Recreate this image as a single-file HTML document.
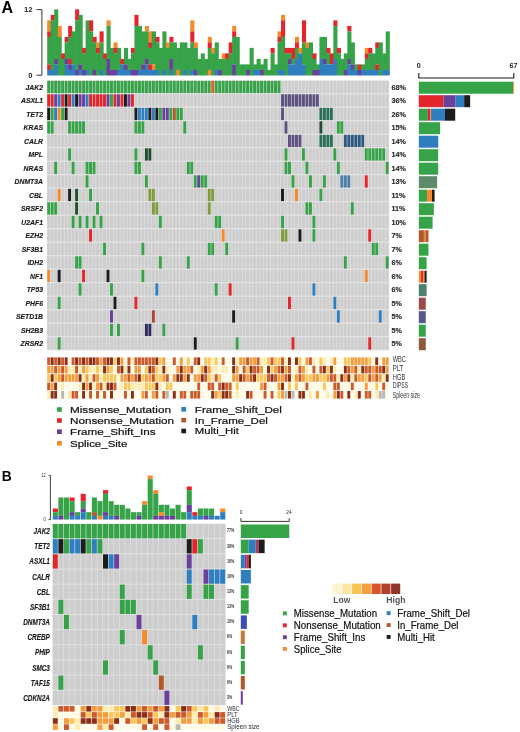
<!DOCTYPE html>
<html><head><meta charset="utf-8"><title>Oncoplot</title>
<style>
html,body{margin:0;padding:0;background:#fff;}
body{width:520px;height:732px;overflow:hidden;}
svg{display:block;font-family:"Liberation Sans",Arial,sans-serif;}
#wrap{width:520px;height:732px;}
</style></head><body><div id="wrap">
<svg width="520" height="732" viewBox="0 0 520 732">
<rect x="0" y="0" width="520" height="732" fill="#ffffff"/>
<g id="topA">
<rect x="47.20" y="20.40" width="4.09" height="11.05" fill="#f58a2c"/>
<rect x="47.20" y="31.40" width="4.09" height="5.55" fill="#e3262b"/>
<rect x="47.20" y="36.90" width="4.09" height="27.55" fill="#37a348"/>
<rect x="47.20" y="64.40" width="4.09" height="5.55" fill="#e3262b"/>
<rect x="47.20" y="69.90" width="4.09" height="5.55" fill="#2f7fc0"/>
<rect x="50.69" y="14.90" width="4.09" height="5.55" fill="#e3262b"/>
<rect x="50.69" y="20.40" width="4.09" height="49.55" fill="#37a348"/>
<rect x="50.69" y="69.90" width="4.09" height="5.55" fill="#2f7fc0"/>
<rect x="54.18" y="9.40" width="4.09" height="49.55" fill="#37a348"/>
<rect x="54.18" y="58.90" width="4.09" height="5.55" fill="#6b3f9c"/>
<rect x="54.18" y="64.40" width="4.09" height="11.05" fill="#2f7fc0"/>
<rect x="57.67" y="25.90" width="4.09" height="11.05" fill="#f58a2c"/>
<rect x="57.67" y="36.90" width="4.09" height="38.55" fill="#37a348"/>
<rect x="61.16" y="53.40" width="4.09" height="5.55" fill="#e3262b"/>
<rect x="61.16" y="58.90" width="4.09" height="16.55" fill="#37a348"/>
<rect x="64.65" y="36.90" width="4.09" height="5.55" fill="#e3262b"/>
<rect x="64.65" y="42.40" width="4.09" height="16.55" fill="#37a348"/>
<rect x="64.65" y="58.90" width="4.09" height="5.55" fill="#6b3f9c"/>
<rect x="64.65" y="64.40" width="4.09" height="11.05" fill="#2f7fc0"/>
<rect x="68.14" y="25.90" width="4.09" height="11.05" fill="#e3262b"/>
<rect x="68.14" y="36.90" width="4.09" height="22.05" fill="#37a348"/>
<rect x="68.14" y="58.90" width="4.09" height="5.55" fill="#e3262b"/>
<rect x="68.14" y="64.40" width="4.09" height="5.55" fill="#6b3f9c"/>
<rect x="68.14" y="69.90" width="4.09" height="5.55" fill="#2f7fc0"/>
<rect x="71.63" y="31.40" width="4.09" height="33.05" fill="#37a348"/>
<rect x="71.63" y="64.40" width="4.09" height="11.05" fill="#2f7fc0"/>
<rect x="75.12" y="9.40" width="4.09" height="11.05" fill="#e3262b"/>
<rect x="75.12" y="20.40" width="4.09" height="49.55" fill="#37a348"/>
<rect x="75.12" y="69.90" width="4.09" height="5.55" fill="#6b3f9c"/>
<rect x="78.61" y="14.90" width="4.09" height="49.55" fill="#37a348"/>
<rect x="78.61" y="64.40" width="4.09" height="5.55" fill="#6b3f9c"/>
<rect x="78.61" y="69.90" width="4.09" height="5.55" fill="#2f7fc0"/>
<rect x="82.10" y="47.90" width="4.09" height="5.55" fill="#e3262b"/>
<rect x="82.10" y="53.40" width="4.09" height="16.55" fill="#37a348"/>
<rect x="82.10" y="69.90" width="4.09" height="5.55" fill="#6b3f9c"/>
<rect x="85.59" y="20.40" width="4.09" height="49.55" fill="#37a348"/>
<rect x="85.59" y="69.90" width="4.09" height="5.55" fill="#2f7fc0"/>
<rect x="89.08" y="20.40" width="4.09" height="11.05" fill="#e3262b"/>
<rect x="89.08" y="31.40" width="4.09" height="44.05" fill="#37a348"/>
<rect x="92.57" y="36.90" width="4.09" height="5.55" fill="#e3262b"/>
<rect x="92.57" y="42.40" width="4.09" height="27.55" fill="#37a348"/>
<rect x="92.57" y="69.90" width="4.09" height="5.55" fill="#6b3f9c"/>
<rect x="96.06" y="42.40" width="4.09" height="5.55" fill="#f58a2c"/>
<rect x="96.06" y="47.90" width="4.09" height="5.55" fill="#e3262b"/>
<rect x="96.06" y="53.40" width="4.09" height="22.05" fill="#37a348"/>
<rect x="99.55" y="31.40" width="4.09" height="11.05" fill="#e3262b"/>
<rect x="99.55" y="42.40" width="4.09" height="27.55" fill="#37a348"/>
<rect x="99.55" y="69.90" width="4.09" height="5.55" fill="#2f7fc0"/>
<rect x="103.04" y="53.40" width="4.09" height="5.55" fill="#e3262b"/>
<rect x="103.04" y="58.90" width="4.09" height="16.55" fill="#37a348"/>
<rect x="106.53" y="20.40" width="4.09" height="5.55" fill="#f58a2c"/>
<rect x="106.53" y="25.90" width="4.09" height="33.05" fill="#37a348"/>
<rect x="106.53" y="58.90" width="4.09" height="16.55" fill="#6b3f9c"/>
<rect x="110.02" y="47.90" width="4.09" height="22.05" fill="#37a348"/>
<rect x="110.02" y="69.90" width="4.09" height="5.55" fill="#6b3f9c"/>
<rect x="113.51" y="42.40" width="4.09" height="5.55" fill="#f58a2c"/>
<rect x="113.51" y="47.90" width="4.09" height="5.55" fill="#e3262b"/>
<rect x="113.51" y="53.40" width="4.09" height="16.55" fill="#37a348"/>
<rect x="113.51" y="69.90" width="4.09" height="5.55" fill="#6b3f9c"/>
<rect x="117.00" y="47.90" width="4.09" height="22.05" fill="#37a348"/>
<rect x="117.00" y="69.90" width="4.09" height="5.55" fill="#2f7fc0"/>
<rect x="120.49" y="58.90" width="4.09" height="5.55" fill="#e3262b"/>
<rect x="120.49" y="64.40" width="4.09" height="11.05" fill="#2f7fc0"/>
<rect x="123.98" y="47.90" width="4.09" height="16.55" fill="#37a348"/>
<rect x="123.98" y="64.40" width="4.09" height="5.55" fill="#6b3f9c"/>
<rect x="123.98" y="69.90" width="4.09" height="5.55" fill="#2f7fc0"/>
<rect x="127.47" y="58.90" width="4.09" height="11.05" fill="#37a348"/>
<rect x="127.47" y="69.90" width="4.09" height="5.55" fill="#2f7fc0"/>
<rect x="130.96" y="47.90" width="4.09" height="5.55" fill="#e3262b"/>
<rect x="130.96" y="53.40" width="4.09" height="16.55" fill="#37a348"/>
<rect x="130.96" y="69.90" width="4.09" height="5.55" fill="#6b3f9c"/>
<rect x="134.45" y="14.90" width="4.09" height="11.05" fill="#e3262b"/>
<rect x="134.45" y="25.90" width="4.09" height="44.05" fill="#37a348"/>
<rect x="134.45" y="69.90" width="4.09" height="5.55" fill="#6b3f9c"/>
<rect x="137.94" y="25.90" width="4.09" height="44.05" fill="#37a348"/>
<rect x="137.94" y="69.90" width="4.09" height="5.55" fill="#2f7fc0"/>
<rect x="141.43" y="31.40" width="4.09" height="33.05" fill="#37a348"/>
<rect x="141.43" y="64.40" width="4.09" height="5.55" fill="#6b3f9c"/>
<rect x="141.43" y="69.90" width="4.09" height="5.55" fill="#2f7fc0"/>
<rect x="144.92" y="25.90" width="4.09" height="5.55" fill="#f58a2c"/>
<rect x="144.92" y="31.40" width="4.09" height="27.55" fill="#37a348"/>
<rect x="144.92" y="58.90" width="4.09" height="5.55" fill="#6b3f9c"/>
<rect x="144.92" y="64.40" width="4.09" height="11.05" fill="#2f7fc0"/>
<rect x="148.41" y="31.40" width="4.09" height="11.05" fill="#f58a2c"/>
<rect x="148.41" y="42.40" width="4.09" height="5.55" fill="#e3262b"/>
<rect x="148.41" y="47.90" width="4.09" height="16.55" fill="#37a348"/>
<rect x="148.41" y="64.40" width="4.09" height="5.55" fill="#e3262b"/>
<rect x="148.41" y="69.90" width="4.09" height="5.55" fill="#2f7fc0"/>
<rect x="151.90" y="31.40" width="4.09" height="33.05" fill="#37a348"/>
<rect x="151.90" y="64.40" width="4.09" height="5.55" fill="#f58a2c"/>
<rect x="151.90" y="69.90" width="4.09" height="5.55" fill="#2f7fc0"/>
<rect x="155.39" y="36.90" width="4.09" height="5.55" fill="#e3262b"/>
<rect x="155.39" y="42.40" width="4.09" height="27.55" fill="#37a348"/>
<rect x="155.39" y="69.90" width="4.09" height="5.55" fill="#2f7fc0"/>
<rect x="158.88" y="47.90" width="4.09" height="27.55" fill="#37a348"/>
<rect x="162.37" y="31.40" width="4.09" height="38.55" fill="#37a348"/>
<rect x="162.37" y="69.90" width="4.09" height="5.55" fill="#2f7fc0"/>
<rect x="165.86" y="42.40" width="4.09" height="5.55" fill="#f58a2c"/>
<rect x="165.86" y="47.90" width="4.09" height="27.55" fill="#37a348"/>
<rect x="169.35" y="36.90" width="4.09" height="5.55" fill="#e3262b"/>
<rect x="169.35" y="42.40" width="4.09" height="16.55" fill="#37a348"/>
<rect x="169.35" y="58.90" width="4.09" height="11.05" fill="#6b3f9c"/>
<rect x="169.35" y="69.90" width="4.09" height="5.55" fill="#2f7fc0"/>
<rect x="172.84" y="42.40" width="4.09" height="33.05" fill="#37a348"/>
<rect x="176.33" y="47.90" width="4.09" height="22.05" fill="#37a348"/>
<rect x="176.33" y="69.90" width="4.09" height="5.55" fill="#f58a2c"/>
<rect x="179.82" y="42.40" width="4.09" height="33.05" fill="#37a348"/>
<rect x="183.31" y="42.40" width="4.09" height="27.55" fill="#37a348"/>
<rect x="183.31" y="69.90" width="4.09" height="5.55" fill="#2f7fc0"/>
<rect x="186.80" y="47.90" width="4.09" height="27.55" fill="#37a348"/>
<rect x="190.29" y="20.40" width="4.09" height="11.05" fill="#f58a2c"/>
<rect x="190.29" y="31.40" width="4.09" height="11.05" fill="#e3262b"/>
<rect x="190.29" y="42.40" width="4.09" height="27.55" fill="#37a348"/>
<rect x="190.29" y="69.90" width="4.09" height="5.55" fill="#2f7fc0"/>
<rect x="193.78" y="42.40" width="4.09" height="5.55" fill="#f58a2c"/>
<rect x="193.78" y="47.90" width="4.09" height="22.05" fill="#37a348"/>
<rect x="193.78" y="69.90" width="4.09" height="5.55" fill="#6b3f9c"/>
<rect x="197.27" y="58.90" width="4.09" height="16.55" fill="#37a348"/>
<rect x="200.76" y="53.40" width="4.09" height="22.05" fill="#37a348"/>
<rect x="204.25" y="58.90" width="4.09" height="16.55" fill="#37a348"/>
<rect x="207.74" y="36.90" width="4.09" height="5.55" fill="#f58a2c"/>
<rect x="207.74" y="42.40" width="4.09" height="5.55" fill="#e3262b"/>
<rect x="207.74" y="47.90" width="4.09" height="22.05" fill="#37a348"/>
<rect x="207.74" y="69.90" width="4.09" height="5.55" fill="#f58a2c"/>
<rect x="211.23" y="47.90" width="4.09" height="5.55" fill="#f58a2c"/>
<rect x="211.23" y="53.40" width="4.09" height="22.05" fill="#37a348"/>
<rect x="214.72" y="42.40" width="4.09" height="27.55" fill="#37a348"/>
<rect x="214.72" y="69.90" width="4.09" height="5.55" fill="#2f7fc0"/>
<rect x="218.21" y="58.90" width="4.09" height="11.05" fill="#37a348"/>
<rect x="218.21" y="69.90" width="4.09" height="5.55" fill="#6b3f9c"/>
<rect x="221.70" y="53.40" width="4.09" height="5.55" fill="#f58a2c"/>
<rect x="221.70" y="58.90" width="4.09" height="16.55" fill="#37a348"/>
<rect x="225.19" y="53.40" width="4.09" height="5.55" fill="#e3262b"/>
<rect x="225.19" y="58.90" width="4.09" height="16.55" fill="#37a348"/>
<rect x="228.68" y="42.40" width="4.09" height="11.05" fill="#e3262b"/>
<rect x="228.68" y="53.40" width="4.09" height="22.05" fill="#37a348"/>
<rect x="232.17" y="25.90" width="4.09" height="5.55" fill="#f58a2c"/>
<rect x="232.17" y="31.40" width="4.09" height="5.55" fill="#e3262b"/>
<rect x="232.17" y="36.90" width="4.09" height="27.55" fill="#37a348"/>
<rect x="232.17" y="64.40" width="4.09" height="11.05" fill="#6b3f9c"/>
<rect x="235.66" y="36.90" width="4.09" height="38.55" fill="#37a348"/>
<rect x="239.15" y="64.40" width="4.09" height="11.05" fill="#37a348"/>
<rect x="242.64" y="64.40" width="4.09" height="11.05" fill="#37a348"/>
<rect x="246.13" y="64.40" width="4.09" height="5.55" fill="#37a348"/>
<rect x="246.13" y="69.90" width="4.09" height="5.55" fill="#6b3f9c"/>
<rect x="249.62" y="47.90" width="4.09" height="27.55" fill="#37a348"/>
<rect x="253.11" y="64.40" width="4.09" height="5.55" fill="#37a348"/>
<rect x="253.11" y="69.90" width="4.09" height="5.55" fill="#2f7fc0"/>
<rect x="256.60" y="58.90" width="4.09" height="11.05" fill="#37a348"/>
<rect x="256.60" y="69.90" width="4.09" height="5.55" fill="#2f7fc0"/>
<rect x="260.09" y="64.40" width="4.09" height="5.55" fill="#37a348"/>
<rect x="260.09" y="69.90" width="4.09" height="5.55" fill="#6b3f9c"/>
<rect x="263.58" y="58.90" width="4.09" height="16.55" fill="#37a348"/>
<rect x="267.07" y="69.90" width="4.09" height="5.55" fill="#37a348"/>
<rect x="270.56" y="47.90" width="4.09" height="5.55" fill="#e3262b"/>
<rect x="270.56" y="53.40" width="4.09" height="22.05" fill="#37a348"/>
<rect x="274.05" y="64.40" width="4.09" height="11.05" fill="#37a348"/>
<rect x="277.54" y="31.40" width="4.09" height="5.55" fill="#f58a2c"/>
<rect x="277.54" y="36.90" width="4.09" height="5.55" fill="#e3262b"/>
<rect x="277.54" y="42.40" width="4.09" height="27.55" fill="#37a348"/>
<rect x="277.54" y="69.90" width="4.09" height="5.55" fill="#2f7fc0"/>
<rect x="281.03" y="14.90" width="4.09" height="5.55" fill="#f58a2c"/>
<rect x="281.03" y="20.40" width="4.09" height="16.55" fill="#e3262b"/>
<rect x="281.03" y="36.90" width="4.09" height="33.05" fill="#37a348"/>
<rect x="281.03" y="69.90" width="4.09" height="5.55" fill="#2f7fc0"/>
<rect x="284.52" y="47.90" width="4.09" height="5.55" fill="#e3262b"/>
<rect x="284.52" y="53.40" width="4.09" height="22.05" fill="#37a348"/>
<rect x="288.01" y="47.90" width="4.09" height="5.55" fill="#e3262b"/>
<rect x="288.01" y="53.40" width="4.09" height="5.55" fill="#37a348"/>
<rect x="288.01" y="58.90" width="4.09" height="5.55" fill="#6b3f9c"/>
<rect x="288.01" y="64.40" width="4.09" height="11.05" fill="#2f7fc0"/>
<rect x="291.50" y="47.90" width="4.09" height="11.05" fill="#e3262b"/>
<rect x="291.50" y="58.90" width="4.09" height="5.55" fill="#37a348"/>
<rect x="291.50" y="64.40" width="4.09" height="11.05" fill="#2f7fc0"/>
<rect x="294.99" y="36.90" width="4.09" height="5.55" fill="#f58a2c"/>
<rect x="294.99" y="42.40" width="4.09" height="5.55" fill="#e3262b"/>
<rect x="294.99" y="47.90" width="4.09" height="11.05" fill="#37a348"/>
<rect x="294.99" y="58.90" width="4.09" height="16.55" fill="#2f7fc0"/>
<rect x="298.48" y="47.90" width="4.09" height="5.55" fill="#f58a2c"/>
<rect x="298.48" y="53.40" width="4.09" height="22.05" fill="#2f7fc0"/>
<rect x="301.97" y="20.40" width="4.09" height="22.05" fill="#e3262b"/>
<rect x="301.97" y="42.40" width="4.09" height="22.05" fill="#37a348"/>
<rect x="301.97" y="64.40" width="4.09" height="11.05" fill="#2f7fc0"/>
<rect x="305.46" y="42.40" width="4.09" height="5.55" fill="#f58a2c"/>
<rect x="305.46" y="47.90" width="4.09" height="27.55" fill="#37a348"/>
<rect x="308.95" y="42.40" width="4.09" height="33.05" fill="#37a348"/>
<rect x="312.44" y="53.40" width="4.09" height="5.55" fill="#e3262b"/>
<rect x="312.44" y="58.90" width="4.09" height="11.05" fill="#37a348"/>
<rect x="312.44" y="69.90" width="4.09" height="5.55" fill="#6b3f9c"/>
<rect x="315.93" y="64.40" width="4.09" height="5.55" fill="#37a348"/>
<rect x="315.93" y="69.90" width="4.09" height="5.55" fill="#6b3f9c"/>
<rect x="319.42" y="36.90" width="4.09" height="22.05" fill="#37a348"/>
<rect x="319.42" y="58.90" width="4.09" height="16.55" fill="#2f7fc0"/>
<rect x="322.91" y="36.90" width="4.09" height="22.05" fill="#37a348"/>
<rect x="322.91" y="58.90" width="4.09" height="5.55" fill="#6b3f9c"/>
<rect x="322.91" y="64.40" width="4.09" height="11.05" fill="#2f7fc0"/>
<rect x="326.40" y="47.90" width="4.09" height="5.55" fill="#e3262b"/>
<rect x="326.40" y="53.40" width="4.09" height="11.05" fill="#37a348"/>
<rect x="326.40" y="64.40" width="4.09" height="11.05" fill="#2f7fc0"/>
<rect x="329.89" y="53.40" width="4.09" height="11.05" fill="#e3262b"/>
<rect x="329.89" y="64.40" width="4.09" height="11.05" fill="#2f7fc0"/>
<rect x="333.38" y="20.40" width="4.09" height="5.55" fill="#e3262b"/>
<rect x="333.38" y="25.90" width="4.09" height="33.05" fill="#37a348"/>
<rect x="333.38" y="58.90" width="4.09" height="16.55" fill="#2f7fc0"/>
<rect x="336.87" y="47.90" width="4.09" height="5.55" fill="#e3262b"/>
<rect x="336.87" y="53.40" width="4.09" height="22.05" fill="#37a348"/>
<rect x="340.36" y="58.90" width="4.09" height="16.55" fill="#37a348"/>
<rect x="343.85" y="53.40" width="4.09" height="16.55" fill="#37a348"/>
<rect x="343.85" y="69.90" width="4.09" height="5.55" fill="#6b3f9c"/>
<rect x="347.34" y="25.90" width="4.09" height="5.55" fill="#e3262b"/>
<rect x="347.34" y="31.40" width="4.09" height="27.55" fill="#37a348"/>
<rect x="347.34" y="58.90" width="4.09" height="5.55" fill="#6b3f9c"/>
<rect x="347.34" y="64.40" width="4.09" height="11.05" fill="#2f7fc0"/>
<rect x="350.83" y="42.40" width="4.09" height="22.05" fill="#37a348"/>
<rect x="350.83" y="64.40" width="4.09" height="5.55" fill="#6b3f9c"/>
<rect x="350.83" y="69.90" width="4.09" height="5.55" fill="#2f7fc0"/>
<rect x="354.32" y="64.40" width="4.09" height="5.55" fill="#37a348"/>
<rect x="354.32" y="69.90" width="4.09" height="5.55" fill="#2f7fc0"/>
<rect x="357.81" y="64.40" width="4.09" height="5.55" fill="#e3262b"/>
<rect x="357.81" y="69.90" width="4.09" height="5.55" fill="#6b3f9c"/>
<rect x="361.30" y="64.40" width="4.09" height="5.55" fill="#37a348"/>
<rect x="361.30" y="69.90" width="4.09" height="5.55" fill="#2f7fc0"/>
<rect x="364.79" y="47.90" width="4.09" height="5.55" fill="#f58a2c"/>
<rect x="364.79" y="53.40" width="4.09" height="5.55" fill="#e3262b"/>
<rect x="364.79" y="58.90" width="4.09" height="11.05" fill="#37a348"/>
<rect x="364.79" y="69.90" width="4.09" height="5.55" fill="#2f7fc0"/>
<rect x="368.28" y="47.90" width="4.09" height="5.55" fill="#e3262b"/>
<rect x="368.28" y="53.40" width="4.09" height="16.55" fill="#37a348"/>
<rect x="368.28" y="69.90" width="4.09" height="5.55" fill="#2f7fc0"/>
<rect x="371.77" y="53.40" width="4.09" height="16.55" fill="#37a348"/>
<rect x="371.77" y="69.90" width="4.09" height="5.55" fill="#2f7fc0"/>
<rect x="375.26" y="42.40" width="4.09" height="5.55" fill="#e3262b"/>
<rect x="375.26" y="47.90" width="4.09" height="16.55" fill="#37a348"/>
<rect x="375.26" y="64.40" width="4.09" height="5.55" fill="#e3262b"/>
<rect x="375.26" y="69.90" width="4.09" height="5.55" fill="#2f7fc0"/>
<rect x="378.75" y="42.40" width="4.09" height="33.05" fill="#37a348"/>
<rect x="382.24" y="53.40" width="4.09" height="16.55" fill="#37a348"/>
<rect x="382.24" y="69.90" width="4.09" height="5.55" fill="#2f7fc0"/>
<rect x="385.73" y="31.40" width="4.09" height="38.55" fill="#37a348"/>
<rect x="385.73" y="69.90" width="4.09" height="5.55" fill="#2f7fc0"/>
</g>
<path d="M36.5 9.6 H41.9 V75.2 H36.5" fill="none" stroke="#222" stroke-width="0.9"/>
<text x="32.40" y="12.00" font-size="7.6" font-weight="bold" font-style="normal" text-anchor="end" fill="#222">12</text>
<text x="32.40" y="77.80" font-size="7.6" font-weight="bold" font-style="normal" text-anchor="end" fill="#222">0</text>
<g id="matA">
<rect x="46.90" y="80.40" width="342.32" height="270.00" fill="#e4e4e4"/>
<rect x="47.20" y="80.80" width="2.94" height="12.30" fill="#37a348"/>
<rect x="50.69" y="80.80" width="2.94" height="12.30" fill="#37a348"/>
<rect x="54.18" y="80.80" width="2.94" height="12.30" fill="#37a348"/>
<rect x="57.67" y="80.80" width="2.94" height="12.30" fill="#37a348"/>
<rect x="61.16" y="80.80" width="2.94" height="12.30" fill="#37a348"/>
<rect x="64.65" y="80.80" width="2.94" height="12.30" fill="#37a348"/>
<rect x="68.14" y="80.80" width="2.94" height="12.30" fill="#37a348"/>
<rect x="71.63" y="80.80" width="2.94" height="12.30" fill="#37a348"/>
<rect x="75.12" y="80.80" width="2.94" height="12.30" fill="#37a348"/>
<rect x="78.61" y="80.80" width="2.94" height="12.30" fill="#37a348"/>
<rect x="82.10" y="80.80" width="2.94" height="12.30" fill="#37a348"/>
<rect x="85.59" y="80.80" width="2.94" height="12.30" fill="#37a348"/>
<rect x="89.08" y="80.80" width="2.94" height="12.30" fill="#37a348"/>
<rect x="92.57" y="80.80" width="2.94" height="12.30" fill="#37a348"/>
<rect x="96.06" y="80.80" width="2.94" height="12.30" fill="#37a348"/>
<rect x="99.55" y="80.80" width="2.94" height="12.30" fill="#37a348"/>
<rect x="103.04" y="80.80" width="2.94" height="12.30" fill="#37a348"/>
<rect x="106.53" y="80.80" width="2.94" height="12.30" fill="#37a348"/>
<rect x="110.02" y="80.80" width="2.94" height="12.30" fill="#37a348"/>
<rect x="113.51" y="80.80" width="2.94" height="12.30" fill="#37a348"/>
<rect x="117.00" y="80.80" width="2.94" height="12.30" fill="#37a348"/>
<rect x="120.49" y="80.80" width="2.94" height="12.30" fill="#37a348"/>
<rect x="123.98" y="80.80" width="2.94" height="12.30" fill="#37a348"/>
<rect x="127.47" y="80.80" width="2.94" height="12.30" fill="#37a348"/>
<rect x="130.96" y="80.80" width="2.94" height="12.30" fill="#37a348"/>
<rect x="134.45" y="80.80" width="2.94" height="12.30" fill="#37a348"/>
<rect x="137.94" y="80.80" width="2.94" height="12.30" fill="#37a348"/>
<rect x="141.43" y="80.80" width="2.94" height="12.30" fill="#37a348"/>
<rect x="144.92" y="80.80" width="2.94" height="12.30" fill="#37a348"/>
<rect x="148.41" y="80.80" width="2.94" height="12.30" fill="#37a348"/>
<rect x="151.90" y="80.80" width="2.94" height="12.30" fill="#37a348"/>
<rect x="155.39" y="80.80" width="2.94" height="12.30" fill="#37a348"/>
<rect x="158.88" y="80.80" width="2.94" height="12.30" fill="#37a348"/>
<rect x="162.37" y="80.80" width="2.94" height="12.30" fill="#37a348"/>
<rect x="165.86" y="80.80" width="2.94" height="12.30" fill="#37a348"/>
<rect x="169.35" y="80.80" width="2.94" height="12.30" fill="#37a348"/>
<rect x="172.84" y="80.80" width="2.94" height="12.30" fill="#37a348"/>
<rect x="176.33" y="80.80" width="2.94" height="12.30" fill="#37a348"/>
<rect x="179.82" y="80.80" width="2.94" height="12.30" fill="#37a348"/>
<rect x="183.31" y="80.80" width="2.94" height="12.30" fill="#37a348"/>
<rect x="186.80" y="80.80" width="2.94" height="12.30" fill="#37a348"/>
<rect x="190.29" y="80.80" width="2.94" height="12.30" fill="#37a348"/>
<rect x="193.78" y="80.80" width="2.94" height="12.30" fill="#37a348"/>
<rect x="197.27" y="80.80" width="2.94" height="12.30" fill="#37a348"/>
<rect x="200.76" y="80.80" width="2.94" height="12.30" fill="#37a348"/>
<rect x="204.25" y="80.80" width="2.94" height="12.30" fill="#37a348"/>
<rect x="207.74" y="80.80" width="2.94" height="12.30" fill="#37a348"/>
<rect x="211.23" y="80.80" width="2.94" height="12.30" fill="#e0602a"/>
<rect x="214.72" y="80.80" width="2.94" height="12.30" fill="#37a348"/>
<rect x="218.21" y="80.80" width="2.94" height="12.30" fill="#37a348"/>
<rect x="221.70" y="80.80" width="2.94" height="12.30" fill="#37a348"/>
<rect x="225.19" y="80.80" width="2.94" height="12.30" fill="#37a348"/>
<rect x="228.68" y="80.80" width="2.94" height="12.30" fill="#37a348"/>
<rect x="232.17" y="80.80" width="2.94" height="12.30" fill="#37a348"/>
<rect x="235.66" y="80.80" width="2.94" height="12.30" fill="#37a348"/>
<rect x="239.15" y="80.80" width="2.94" height="12.30" fill="#37a348"/>
<rect x="242.64" y="80.80" width="2.94" height="12.30" fill="#37a348"/>
<rect x="246.13" y="80.80" width="2.94" height="12.30" fill="#37a348"/>
<rect x="249.62" y="80.80" width="2.94" height="12.30" fill="#37a348"/>
<rect x="253.11" y="80.80" width="2.94" height="12.30" fill="#37a348"/>
<rect x="256.60" y="80.80" width="2.94" height="12.30" fill="#37a348"/>
<rect x="260.09" y="80.80" width="2.94" height="12.30" fill="#37a348"/>
<rect x="263.58" y="80.80" width="2.94" height="12.30" fill="#37a348"/>
<rect x="267.07" y="80.80" width="2.94" height="12.30" fill="#37a348"/>
<rect x="270.56" y="80.80" width="2.94" height="12.30" fill="#37a348"/>
<rect x="274.05" y="80.80" width="2.94" height="12.30" fill="#37a348"/>
<rect x="277.54" y="80.80" width="2.94" height="12.30" fill="#37a348"/>
<rect x="281.03" y="80.80" width="2.94" height="12.30" fill="#cecece"/>
<rect x="284.52" y="80.80" width="2.94" height="12.30" fill="#cecece"/>
<rect x="288.01" y="80.80" width="2.94" height="12.30" fill="#cecece"/>
<rect x="291.50" y="80.80" width="2.94" height="12.30" fill="#cecece"/>
<rect x="294.99" y="80.80" width="2.94" height="12.30" fill="#cecece"/>
<rect x="298.48" y="80.80" width="2.94" height="12.30" fill="#cecece"/>
<rect x="301.97" y="80.80" width="2.94" height="12.30" fill="#cecece"/>
<rect x="305.46" y="80.80" width="2.94" height="12.30" fill="#cecece"/>
<rect x="308.95" y="80.80" width="2.94" height="12.30" fill="#cecece"/>
<rect x="312.44" y="80.80" width="2.94" height="12.30" fill="#cecece"/>
<rect x="315.93" y="80.80" width="2.94" height="12.30" fill="#cecece"/>
<rect x="319.42" y="80.80" width="2.94" height="12.30" fill="#cecece"/>
<rect x="322.91" y="80.80" width="2.94" height="12.30" fill="#cecece"/>
<rect x="326.40" y="80.80" width="2.94" height="12.30" fill="#cecece"/>
<rect x="329.89" y="80.80" width="2.94" height="12.30" fill="#cecece"/>
<rect x="333.38" y="80.80" width="2.94" height="12.30" fill="#cecece"/>
<rect x="336.87" y="80.80" width="2.94" height="12.30" fill="#cecece"/>
<rect x="340.36" y="80.80" width="2.94" height="12.30" fill="#cecece"/>
<rect x="343.85" y="80.80" width="2.94" height="12.30" fill="#cecece"/>
<rect x="347.34" y="80.80" width="2.94" height="12.30" fill="#cecece"/>
<rect x="350.83" y="80.80" width="2.94" height="12.30" fill="#cecece"/>
<rect x="354.32" y="80.80" width="2.94" height="12.30" fill="#cecece"/>
<rect x="357.81" y="80.80" width="2.94" height="12.30" fill="#cecece"/>
<rect x="361.30" y="80.80" width="2.94" height="12.30" fill="#cecece"/>
<rect x="364.79" y="80.80" width="2.94" height="12.30" fill="#cecece"/>
<rect x="368.28" y="80.80" width="2.94" height="12.30" fill="#cecece"/>
<rect x="371.77" y="80.80" width="2.94" height="12.30" fill="#cecece"/>
<rect x="375.26" y="80.80" width="2.94" height="12.30" fill="#cecece"/>
<rect x="378.75" y="80.80" width="2.94" height="12.30" fill="#cecece"/>
<rect x="382.24" y="80.80" width="2.94" height="12.30" fill="#cecece"/>
<rect x="385.73" y="80.80" width="2.94" height="12.30" fill="#cecece"/>
<rect x="47.20" y="94.30" width="2.94" height="12.30" fill="#e3262b"/>
<rect x="50.69" y="94.30" width="2.94" height="12.30" fill="#e3262b"/>
<rect x="54.18" y="94.30" width="2.94" height="12.30" fill="#6b3f9c"/>
<rect x="57.67" y="94.30" width="2.94" height="12.30" fill="#2f7fc0"/>
<rect x="61.16" y="94.30" width="2.94" height="12.30" fill="#e3262b"/>
<rect x="64.65" y="94.30" width="2.94" height="12.30" fill="#1c1c1c"/>
<rect x="68.14" y="94.30" width="2.94" height="12.30" fill="#e3262b"/>
<rect x="71.63" y="94.30" width="2.94" height="12.30" fill="#2f7fc0"/>
<rect x="75.12" y="94.30" width="2.94" height="12.30" fill="#1c1c1c"/>
<rect x="78.61" y="94.30" width="2.94" height="12.30" fill="#6b3f9c"/>
<rect x="82.10" y="94.30" width="2.94" height="12.30" fill="#6b3f9c"/>
<rect x="85.59" y="94.30" width="2.94" height="12.30" fill="#2f7fc0"/>
<rect x="89.08" y="94.30" width="2.94" height="12.30" fill="#e3262b"/>
<rect x="92.57" y="94.30" width="2.94" height="12.30" fill="#e3262b"/>
<rect x="96.06" y="94.30" width="2.94" height="12.30" fill="#e3262b"/>
<rect x="99.55" y="94.30" width="2.94" height="12.30" fill="#e3262b"/>
<rect x="103.04" y="94.30" width="2.94" height="12.30" fill="#e3262b"/>
<rect x="106.53" y="94.30" width="2.94" height="12.30" fill="#6b3f9c"/>
<rect x="110.02" y="94.30" width="2.94" height="12.30" fill="#37a348"/>
<rect x="113.51" y="94.30" width="2.94" height="12.30" fill="#e3262b"/>
<rect x="117.00" y="94.30" width="2.94" height="12.30" fill="#6b3f9c"/>
<rect x="120.49" y="94.30" width="2.94" height="12.30" fill="#e3262b"/>
<rect x="123.98" y="94.30" width="2.94" height="12.30" fill="#1c1c1c"/>
<rect x="127.47" y="94.30" width="2.94" height="12.30" fill="#6b3f9c"/>
<rect x="130.96" y="94.30" width="2.94" height="12.30" fill="#e3262b"/>
<rect x="134.45" y="94.30" width="2.94" height="12.30" fill="#cecece"/>
<rect x="137.94" y="94.30" width="2.94" height="12.30" fill="#cecece"/>
<rect x="141.43" y="94.30" width="2.94" height="12.30" fill="#cecece"/>
<rect x="144.92" y="94.30" width="2.94" height="12.30" fill="#cecece"/>
<rect x="148.41" y="94.30" width="2.94" height="12.30" fill="#cecece"/>
<rect x="151.90" y="94.30" width="2.94" height="12.30" fill="#cecece"/>
<rect x="155.39" y="94.30" width="2.94" height="12.30" fill="#cecece"/>
<rect x="158.88" y="94.30" width="2.94" height="12.30" fill="#cecece"/>
<rect x="162.37" y="94.30" width="2.94" height="12.30" fill="#cecece"/>
<rect x="165.86" y="94.30" width="2.94" height="12.30" fill="#cecece"/>
<rect x="169.35" y="94.30" width="2.94" height="12.30" fill="#cecece"/>
<rect x="172.84" y="94.30" width="2.94" height="12.30" fill="#cecece"/>
<rect x="176.33" y="94.30" width="2.94" height="12.30" fill="#cecece"/>
<rect x="179.82" y="94.30" width="2.94" height="12.30" fill="#cecece"/>
<rect x="183.31" y="94.30" width="2.94" height="12.30" fill="#cecece"/>
<rect x="186.80" y="94.30" width="2.94" height="12.30" fill="#cecece"/>
<rect x="190.29" y="94.30" width="2.94" height="12.30" fill="#cecece"/>
<rect x="193.78" y="94.30" width="2.94" height="12.30" fill="#cecece"/>
<rect x="197.27" y="94.30" width="2.94" height="12.30" fill="#cecece"/>
<rect x="200.76" y="94.30" width="2.94" height="12.30" fill="#cecece"/>
<rect x="204.25" y="94.30" width="2.94" height="12.30" fill="#cecece"/>
<rect x="207.74" y="94.30" width="2.94" height="12.30" fill="#cecece"/>
<rect x="211.23" y="94.30" width="2.94" height="12.30" fill="#cecece"/>
<rect x="214.72" y="94.30" width="2.94" height="12.30" fill="#cecece"/>
<rect x="218.21" y="94.30" width="2.94" height="12.30" fill="#cecece"/>
<rect x="221.70" y="94.30" width="2.94" height="12.30" fill="#cecece"/>
<rect x="225.19" y="94.30" width="2.94" height="12.30" fill="#cecece"/>
<rect x="228.68" y="94.30" width="2.94" height="12.30" fill="#cecece"/>
<rect x="232.17" y="94.30" width="2.94" height="12.30" fill="#cecece"/>
<rect x="235.66" y="94.30" width="2.94" height="12.30" fill="#cecece"/>
<rect x="239.15" y="94.30" width="2.94" height="12.30" fill="#cecece"/>
<rect x="242.64" y="94.30" width="2.94" height="12.30" fill="#cecece"/>
<rect x="246.13" y="94.30" width="2.94" height="12.30" fill="#cecece"/>
<rect x="249.62" y="94.30" width="2.94" height="12.30" fill="#cecece"/>
<rect x="253.11" y="94.30" width="2.94" height="12.30" fill="#cecece"/>
<rect x="256.60" y="94.30" width="2.94" height="12.30" fill="#cecece"/>
<rect x="260.09" y="94.30" width="2.94" height="12.30" fill="#cecece"/>
<rect x="263.58" y="94.30" width="2.94" height="12.30" fill="#cecece"/>
<rect x="267.07" y="94.30" width="2.94" height="12.30" fill="#cecece"/>
<rect x="270.56" y="94.30" width="2.94" height="12.30" fill="#cecece"/>
<rect x="274.05" y="94.30" width="2.94" height="12.30" fill="#cecece"/>
<rect x="277.54" y="94.30" width="2.94" height="12.30" fill="#cecece"/>
<rect x="281.03" y="94.30" width="2.94" height="12.30" fill="#5e5280"/>
<rect x="284.52" y="94.30" width="2.94" height="12.30" fill="#5e5280"/>
<rect x="288.01" y="94.30" width="2.94" height="12.30" fill="#5e5280"/>
<rect x="291.50" y="94.30" width="2.94" height="12.30" fill="#5e5280"/>
<rect x="294.99" y="94.30" width="2.94" height="12.30" fill="#5e5280"/>
<rect x="298.48" y="94.30" width="2.94" height="12.30" fill="#5e5280"/>
<rect x="301.97" y="94.30" width="2.94" height="12.30" fill="#5e5280"/>
<rect x="305.46" y="94.30" width="2.94" height="12.30" fill="#5e5280"/>
<rect x="308.95" y="94.30" width="2.94" height="12.30" fill="#5e5280"/>
<rect x="312.44" y="94.30" width="2.94" height="12.30" fill="#5e5280"/>
<rect x="315.93" y="94.30" width="2.94" height="12.30" fill="#5e5280"/>
<rect x="319.42" y="94.30" width="2.94" height="12.30" fill="#cecece"/>
<rect x="322.91" y="94.30" width="2.94" height="12.30" fill="#cecece"/>
<rect x="326.40" y="94.30" width="2.94" height="12.30" fill="#cecece"/>
<rect x="329.89" y="94.30" width="2.94" height="12.30" fill="#cecece"/>
<rect x="333.38" y="94.30" width="2.94" height="12.30" fill="#cecece"/>
<rect x="336.87" y="94.30" width="2.94" height="12.30" fill="#cecece"/>
<rect x="340.36" y="94.30" width="2.94" height="12.30" fill="#cecece"/>
<rect x="343.85" y="94.30" width="2.94" height="12.30" fill="#cecece"/>
<rect x="347.34" y="94.30" width="2.94" height="12.30" fill="#cecece"/>
<rect x="350.83" y="94.30" width="2.94" height="12.30" fill="#cecece"/>
<rect x="354.32" y="94.30" width="2.94" height="12.30" fill="#cecece"/>
<rect x="357.81" y="94.30" width="2.94" height="12.30" fill="#cecece"/>
<rect x="361.30" y="94.30" width="2.94" height="12.30" fill="#cecece"/>
<rect x="364.79" y="94.30" width="2.94" height="12.30" fill="#cecece"/>
<rect x="368.28" y="94.30" width="2.94" height="12.30" fill="#cecece"/>
<rect x="371.77" y="94.30" width="2.94" height="12.30" fill="#cecece"/>
<rect x="375.26" y="94.30" width="2.94" height="12.30" fill="#cecece"/>
<rect x="378.75" y="94.30" width="2.94" height="12.30" fill="#cecece"/>
<rect x="382.24" y="94.30" width="2.94" height="12.30" fill="#cecece"/>
<rect x="385.73" y="94.30" width="2.94" height="12.30" fill="#cecece"/>
<rect x="47.20" y="107.80" width="2.94" height="12.30" fill="#1c1c1c"/>
<rect x="50.69" y="107.80" width="2.94" height="12.30" fill="#37a348"/>
<rect x="54.18" y="107.80" width="2.94" height="12.30" fill="#2f7fc0"/>
<rect x="57.67" y="107.80" width="2.94" height="12.30" fill="#f58a2c"/>
<rect x="61.16" y="107.80" width="2.94" height="12.30" fill="#37a348"/>
<rect x="64.65" y="107.80" width="2.94" height="12.30" fill="#1c1c1c"/>
<rect x="68.14" y="107.80" width="2.94" height="12.30" fill="#cecece"/>
<rect x="71.63" y="107.80" width="2.94" height="12.30" fill="#cecece"/>
<rect x="75.12" y="107.80" width="2.94" height="12.30" fill="#cecece"/>
<rect x="78.61" y="107.80" width="2.94" height="12.30" fill="#cecece"/>
<rect x="82.10" y="107.80" width="2.94" height="12.30" fill="#cecece"/>
<rect x="85.59" y="107.80" width="2.94" height="12.30" fill="#cecece"/>
<rect x="89.08" y="107.80" width="2.94" height="12.30" fill="#cecece"/>
<rect x="92.57" y="107.80" width="2.94" height="12.30" fill="#cecece"/>
<rect x="96.06" y="107.80" width="2.94" height="12.30" fill="#cecece"/>
<rect x="99.55" y="107.80" width="2.94" height="12.30" fill="#cecece"/>
<rect x="103.04" y="107.80" width="2.94" height="12.30" fill="#cecece"/>
<rect x="106.53" y="107.80" width="2.94" height="12.30" fill="#cecece"/>
<rect x="110.02" y="107.80" width="2.94" height="12.30" fill="#cecece"/>
<rect x="113.51" y="107.80" width="2.94" height="12.30" fill="#cecece"/>
<rect x="117.00" y="107.80" width="2.94" height="12.30" fill="#cecece"/>
<rect x="120.49" y="107.80" width="2.94" height="12.30" fill="#cecece"/>
<rect x="123.98" y="107.80" width="2.94" height="12.30" fill="#cecece"/>
<rect x="127.47" y="107.80" width="2.94" height="12.30" fill="#cecece"/>
<rect x="130.96" y="107.80" width="2.94" height="12.30" fill="#cecece"/>
<rect x="134.45" y="107.80" width="2.94" height="12.30" fill="#1c1c1c"/>
<rect x="137.94" y="107.80" width="2.94" height="12.30" fill="#2f7fc0"/>
<rect x="141.43" y="107.80" width="2.94" height="12.30" fill="#2f7fc0"/>
<rect x="144.92" y="107.80" width="2.94" height="12.30" fill="#2f7fc0"/>
<rect x="148.41" y="107.80" width="2.94" height="12.30" fill="#1c1c1c"/>
<rect x="151.90" y="107.80" width="2.94" height="12.30" fill="#2f7fc0"/>
<rect x="155.39" y="107.80" width="2.94" height="12.30" fill="#1c1c1c"/>
<rect x="158.88" y="107.80" width="2.94" height="12.30" fill="#37a348"/>
<rect x="162.37" y="107.80" width="2.94" height="12.30" fill="#6b3f9c"/>
<rect x="165.86" y="107.80" width="2.94" height="12.30" fill="#6b3f9c"/>
<rect x="169.35" y="107.80" width="2.94" height="12.30" fill="#37a348"/>
<rect x="172.84" y="107.80" width="2.94" height="12.30" fill="#b15928"/>
<rect x="176.33" y="107.80" width="2.94" height="12.30" fill="#37a348"/>
<rect x="179.82" y="107.80" width="2.94" height="12.30" fill="#37a348"/>
<rect x="183.31" y="107.80" width="2.94" height="12.30" fill="#cecece"/>
<rect x="186.80" y="107.80" width="2.94" height="12.30" fill="#cecece"/>
<rect x="190.29" y="107.80" width="2.94" height="12.30" fill="#cecece"/>
<rect x="193.78" y="107.80" width="2.94" height="12.30" fill="#cecece"/>
<rect x="197.27" y="107.80" width="2.94" height="12.30" fill="#cecece"/>
<rect x="200.76" y="107.80" width="2.94" height="12.30" fill="#cecece"/>
<rect x="204.25" y="107.80" width="2.94" height="12.30" fill="#cecece"/>
<rect x="207.74" y="107.80" width="2.94" height="12.30" fill="#cecece"/>
<rect x="211.23" y="107.80" width="2.94" height="12.30" fill="#cecece"/>
<rect x="214.72" y="107.80" width="2.94" height="12.30" fill="#cecece"/>
<rect x="218.21" y="107.80" width="2.94" height="12.30" fill="#cecece"/>
<rect x="221.70" y="107.80" width="2.94" height="12.30" fill="#cecece"/>
<rect x="225.19" y="107.80" width="2.94" height="12.30" fill="#cecece"/>
<rect x="228.68" y="107.80" width="2.94" height="12.30" fill="#cecece"/>
<rect x="232.17" y="107.80" width="2.94" height="12.30" fill="#cecece"/>
<rect x="235.66" y="107.80" width="2.94" height="12.30" fill="#cecece"/>
<rect x="239.15" y="107.80" width="2.94" height="12.30" fill="#cecece"/>
<rect x="242.64" y="107.80" width="2.94" height="12.30" fill="#cecece"/>
<rect x="246.13" y="107.80" width="2.94" height="12.30" fill="#cecece"/>
<rect x="249.62" y="107.80" width="2.94" height="12.30" fill="#cecece"/>
<rect x="253.11" y="107.80" width="2.94" height="12.30" fill="#cecece"/>
<rect x="256.60" y="107.80" width="2.94" height="12.30" fill="#cecece"/>
<rect x="260.09" y="107.80" width="2.94" height="12.30" fill="#cecece"/>
<rect x="263.58" y="107.80" width="2.94" height="12.30" fill="#cecece"/>
<rect x="267.07" y="107.80" width="2.94" height="12.30" fill="#cecece"/>
<rect x="270.56" y="107.80" width="2.94" height="12.30" fill="#cecece"/>
<rect x="274.05" y="107.80" width="2.94" height="12.30" fill="#cecece"/>
<rect x="277.54" y="107.80" width="2.94" height="12.30" fill="#cecece"/>
<rect x="281.03" y="107.80" width="2.94" height="12.30" fill="#5e5280"/>
<rect x="284.52" y="107.80" width="2.94" height="12.30" fill="#cecece"/>
<rect x="288.01" y="107.80" width="2.94" height="12.30" fill="#cecece"/>
<rect x="291.50" y="107.80" width="2.94" height="12.30" fill="#cecece"/>
<rect x="294.99" y="107.80" width="2.94" height="12.30" fill="#cecece"/>
<rect x="298.48" y="107.80" width="2.94" height="12.30" fill="#cecece"/>
<rect x="301.97" y="107.80" width="2.94" height="12.30" fill="#cecece"/>
<rect x="305.46" y="107.80" width="2.94" height="12.30" fill="#cecece"/>
<rect x="308.95" y="107.80" width="2.94" height="12.30" fill="#cecece"/>
<rect x="312.44" y="107.80" width="2.94" height="12.30" fill="#cecece"/>
<rect x="315.93" y="107.80" width="2.94" height="12.30" fill="#cecece"/>
<rect x="319.42" y="107.80" width="2.94" height="12.30" fill="#2e6e5a"/>
<rect x="322.91" y="107.80" width="2.94" height="12.30" fill="#2e6e5a"/>
<rect x="326.40" y="107.80" width="2.94" height="12.30" fill="#2e6e5a"/>
<rect x="329.89" y="107.80" width="2.94" height="12.30" fill="#2e6e5a"/>
<rect x="333.38" y="107.80" width="2.94" height="12.30" fill="#cecece"/>
<rect x="336.87" y="107.80" width="2.94" height="12.30" fill="#cecece"/>
<rect x="340.36" y="107.80" width="2.94" height="12.30" fill="#cecece"/>
<rect x="343.85" y="107.80" width="2.94" height="12.30" fill="#cecece"/>
<rect x="347.34" y="107.80" width="2.94" height="12.30" fill="#cecece"/>
<rect x="350.83" y="107.80" width="2.94" height="12.30" fill="#cecece"/>
<rect x="354.32" y="107.80" width="2.94" height="12.30" fill="#cecece"/>
<rect x="357.81" y="107.80" width="2.94" height="12.30" fill="#cecece"/>
<rect x="361.30" y="107.80" width="2.94" height="12.30" fill="#cecece"/>
<rect x="364.79" y="107.80" width="2.94" height="12.30" fill="#cecece"/>
<rect x="368.28" y="107.80" width="2.94" height="12.30" fill="#cecece"/>
<rect x="371.77" y="107.80" width="2.94" height="12.30" fill="#cecece"/>
<rect x="375.26" y="107.80" width="2.94" height="12.30" fill="#cecece"/>
<rect x="378.75" y="107.80" width="2.94" height="12.30" fill="#cecece"/>
<rect x="382.24" y="107.80" width="2.94" height="12.30" fill="#cecece"/>
<rect x="385.73" y="107.80" width="2.94" height="12.30" fill="#cecece"/>
<rect x="47.20" y="121.30" width="2.94" height="12.30" fill="#37a348"/>
<rect x="50.69" y="121.30" width="2.94" height="12.30" fill="#37a348"/>
<rect x="54.18" y="121.30" width="2.94" height="12.30" fill="#cecece"/>
<rect x="57.67" y="121.30" width="2.94" height="12.30" fill="#cecece"/>
<rect x="61.16" y="121.30" width="2.94" height="12.30" fill="#cecece"/>
<rect x="64.65" y="121.30" width="2.94" height="12.30" fill="#cecece"/>
<rect x="68.14" y="121.30" width="2.94" height="12.30" fill="#37a348"/>
<rect x="71.63" y="121.30" width="2.94" height="12.30" fill="#37a348"/>
<rect x="75.12" y="121.30" width="2.94" height="12.30" fill="#37a348"/>
<rect x="78.61" y="121.30" width="2.94" height="12.30" fill="#37a348"/>
<rect x="82.10" y="121.30" width="2.94" height="12.30" fill="#37a348"/>
<rect x="85.59" y="121.30" width="2.94" height="12.30" fill="#cecece"/>
<rect x="89.08" y="121.30" width="2.94" height="12.30" fill="#cecece"/>
<rect x="92.57" y="121.30" width="2.94" height="12.30" fill="#cecece"/>
<rect x="96.06" y="121.30" width="2.94" height="12.30" fill="#cecece"/>
<rect x="99.55" y="121.30" width="2.94" height="12.30" fill="#cecece"/>
<rect x="103.04" y="121.30" width="2.94" height="12.30" fill="#cecece"/>
<rect x="106.53" y="121.30" width="2.94" height="12.30" fill="#cecece"/>
<rect x="110.02" y="121.30" width="2.94" height="12.30" fill="#cecece"/>
<rect x="113.51" y="121.30" width="2.94" height="12.30" fill="#cecece"/>
<rect x="117.00" y="121.30" width="2.94" height="12.30" fill="#cecece"/>
<rect x="120.49" y="121.30" width="2.94" height="12.30" fill="#cecece"/>
<rect x="123.98" y="121.30" width="2.94" height="12.30" fill="#cecece"/>
<rect x="127.47" y="121.30" width="2.94" height="12.30" fill="#cecece"/>
<rect x="130.96" y="121.30" width="2.94" height="12.30" fill="#cecece"/>
<rect x="134.45" y="121.30" width="2.94" height="12.30" fill="#37a348"/>
<rect x="137.94" y="121.30" width="2.94" height="12.30" fill="#37a348"/>
<rect x="141.43" y="121.30" width="2.94" height="12.30" fill="#37a348"/>
<rect x="144.92" y="121.30" width="2.94" height="12.30" fill="#cecece"/>
<rect x="148.41" y="121.30" width="2.94" height="12.30" fill="#cecece"/>
<rect x="151.90" y="121.30" width="2.94" height="12.30" fill="#cecece"/>
<rect x="155.39" y="121.30" width="2.94" height="12.30" fill="#cecece"/>
<rect x="158.88" y="121.30" width="2.94" height="12.30" fill="#cecece"/>
<rect x="162.37" y="121.30" width="2.94" height="12.30" fill="#cecece"/>
<rect x="165.86" y="121.30" width="2.94" height="12.30" fill="#cecece"/>
<rect x="169.35" y="121.30" width="2.94" height="12.30" fill="#cecece"/>
<rect x="172.84" y="121.30" width="2.94" height="12.30" fill="#cecece"/>
<rect x="176.33" y="121.30" width="2.94" height="12.30" fill="#cecece"/>
<rect x="179.82" y="121.30" width="2.94" height="12.30" fill="#cecece"/>
<rect x="183.31" y="121.30" width="2.94" height="12.30" fill="#37a348"/>
<rect x="186.80" y="121.30" width="2.94" height="12.30" fill="#cecece"/>
<rect x="190.29" y="121.30" width="2.94" height="12.30" fill="#cecece"/>
<rect x="193.78" y="121.30" width="2.94" height="12.30" fill="#cecece"/>
<rect x="197.27" y="121.30" width="2.94" height="12.30" fill="#cecece"/>
<rect x="200.76" y="121.30" width="2.94" height="12.30" fill="#cecece"/>
<rect x="204.25" y="121.30" width="2.94" height="12.30" fill="#cecece"/>
<rect x="207.74" y="121.30" width="2.94" height="12.30" fill="#cecece"/>
<rect x="211.23" y="121.30" width="2.94" height="12.30" fill="#cecece"/>
<rect x="214.72" y="121.30" width="2.94" height="12.30" fill="#cecece"/>
<rect x="218.21" y="121.30" width="2.94" height="12.30" fill="#cecece"/>
<rect x="221.70" y="121.30" width="2.94" height="12.30" fill="#cecece"/>
<rect x="225.19" y="121.30" width="2.94" height="12.30" fill="#cecece"/>
<rect x="228.68" y="121.30" width="2.94" height="12.30" fill="#cecece"/>
<rect x="232.17" y="121.30" width="2.94" height="12.30" fill="#cecece"/>
<rect x="235.66" y="121.30" width="2.94" height="12.30" fill="#cecece"/>
<rect x="239.15" y="121.30" width="2.94" height="12.30" fill="#cecece"/>
<rect x="242.64" y="121.30" width="2.94" height="12.30" fill="#cecece"/>
<rect x="246.13" y="121.30" width="2.94" height="12.30" fill="#cecece"/>
<rect x="249.62" y="121.30" width="2.94" height="12.30" fill="#cecece"/>
<rect x="253.11" y="121.30" width="2.94" height="12.30" fill="#cecece"/>
<rect x="256.60" y="121.30" width="2.94" height="12.30" fill="#cecece"/>
<rect x="260.09" y="121.30" width="2.94" height="12.30" fill="#cecece"/>
<rect x="263.58" y="121.30" width="2.94" height="12.30" fill="#cecece"/>
<rect x="267.07" y="121.30" width="2.94" height="12.30" fill="#cecece"/>
<rect x="270.56" y="121.30" width="2.94" height="12.30" fill="#cecece"/>
<rect x="274.05" y="121.30" width="2.94" height="12.30" fill="#cecece"/>
<rect x="277.54" y="121.30" width="2.94" height="12.30" fill="#cecece"/>
<rect x="281.03" y="121.30" width="2.94" height="12.30" fill="#cecece"/>
<rect x="284.52" y="121.30" width="2.94" height="12.30" fill="#5e5280"/>
<rect x="288.01" y="121.30" width="2.94" height="12.30" fill="#cecece"/>
<rect x="291.50" y="121.30" width="2.94" height="12.30" fill="#cecece"/>
<rect x="294.99" y="121.30" width="2.94" height="12.30" fill="#cecece"/>
<rect x="298.48" y="121.30" width="2.94" height="12.30" fill="#cecece"/>
<rect x="301.97" y="121.30" width="2.94" height="12.30" fill="#cecece"/>
<rect x="305.46" y="121.30" width="2.94" height="12.30" fill="#cecece"/>
<rect x="308.95" y="121.30" width="2.94" height="12.30" fill="#cecece"/>
<rect x="312.44" y="121.30" width="2.94" height="12.30" fill="#cecece"/>
<rect x="315.93" y="121.30" width="2.94" height="12.30" fill="#cecece"/>
<rect x="319.42" y="121.30" width="2.94" height="12.30" fill="#1f4d2e"/>
<rect x="322.91" y="121.30" width="2.94" height="12.30" fill="#cecece"/>
<rect x="326.40" y="121.30" width="2.94" height="12.30" fill="#cecece"/>
<rect x="329.89" y="121.30" width="2.94" height="12.30" fill="#cecece"/>
<rect x="333.38" y="121.30" width="2.94" height="12.30" fill="#cecece"/>
<rect x="336.87" y="121.30" width="2.94" height="12.30" fill="#37a348"/>
<rect x="340.36" y="121.30" width="2.94" height="12.30" fill="#37a348"/>
<rect x="343.85" y="121.30" width="2.94" height="12.30" fill="#cecece"/>
<rect x="347.34" y="121.30" width="2.94" height="12.30" fill="#cecece"/>
<rect x="350.83" y="121.30" width="2.94" height="12.30" fill="#cecece"/>
<rect x="354.32" y="121.30" width="2.94" height="12.30" fill="#cecece"/>
<rect x="357.81" y="121.30" width="2.94" height="12.30" fill="#cecece"/>
<rect x="361.30" y="121.30" width="2.94" height="12.30" fill="#cecece"/>
<rect x="364.79" y="121.30" width="2.94" height="12.30" fill="#cecece"/>
<rect x="368.28" y="121.30" width="2.94" height="12.30" fill="#cecece"/>
<rect x="371.77" y="121.30" width="2.94" height="12.30" fill="#cecece"/>
<rect x="375.26" y="121.30" width="2.94" height="12.30" fill="#cecece"/>
<rect x="378.75" y="121.30" width="2.94" height="12.30" fill="#cecece"/>
<rect x="382.24" y="121.30" width="2.94" height="12.30" fill="#cecece"/>
<rect x="385.73" y="121.30" width="2.94" height="12.30" fill="#cecece"/>
<rect x="47.20" y="134.80" width="2.94" height="12.30" fill="#cecece"/>
<rect x="50.69" y="134.80" width="2.94" height="12.30" fill="#cecece"/>
<rect x="54.18" y="134.80" width="2.94" height="12.30" fill="#cecece"/>
<rect x="57.67" y="134.80" width="2.94" height="12.30" fill="#cecece"/>
<rect x="61.16" y="134.80" width="2.94" height="12.30" fill="#cecece"/>
<rect x="64.65" y="134.80" width="2.94" height="12.30" fill="#cecece"/>
<rect x="68.14" y="134.80" width="2.94" height="12.30" fill="#cecece"/>
<rect x="71.63" y="134.80" width="2.94" height="12.30" fill="#cecece"/>
<rect x="75.12" y="134.80" width="2.94" height="12.30" fill="#cecece"/>
<rect x="78.61" y="134.80" width="2.94" height="12.30" fill="#cecece"/>
<rect x="82.10" y="134.80" width="2.94" height="12.30" fill="#cecece"/>
<rect x="85.59" y="134.80" width="2.94" height="12.30" fill="#cecece"/>
<rect x="89.08" y="134.80" width="2.94" height="12.30" fill="#cecece"/>
<rect x="92.57" y="134.80" width="2.94" height="12.30" fill="#cecece"/>
<rect x="96.06" y="134.80" width="2.94" height="12.30" fill="#cecece"/>
<rect x="99.55" y="134.80" width="2.94" height="12.30" fill="#cecece"/>
<rect x="103.04" y="134.80" width="2.94" height="12.30" fill="#cecece"/>
<rect x="106.53" y="134.80" width="2.94" height="12.30" fill="#cecece"/>
<rect x="110.02" y="134.80" width="2.94" height="12.30" fill="#cecece"/>
<rect x="113.51" y="134.80" width="2.94" height="12.30" fill="#cecece"/>
<rect x="117.00" y="134.80" width="2.94" height="12.30" fill="#cecece"/>
<rect x="120.49" y="134.80" width="2.94" height="12.30" fill="#cecece"/>
<rect x="123.98" y="134.80" width="2.94" height="12.30" fill="#cecece"/>
<rect x="127.47" y="134.80" width="2.94" height="12.30" fill="#cecece"/>
<rect x="130.96" y="134.80" width="2.94" height="12.30" fill="#cecece"/>
<rect x="134.45" y="134.80" width="2.94" height="12.30" fill="#cecece"/>
<rect x="137.94" y="134.80" width="2.94" height="12.30" fill="#cecece"/>
<rect x="141.43" y="134.80" width="2.94" height="12.30" fill="#cecece"/>
<rect x="144.92" y="134.80" width="2.94" height="12.30" fill="#cecece"/>
<rect x="148.41" y="134.80" width="2.94" height="12.30" fill="#cecece"/>
<rect x="151.90" y="134.80" width="2.94" height="12.30" fill="#cecece"/>
<rect x="155.39" y="134.80" width="2.94" height="12.30" fill="#cecece"/>
<rect x="158.88" y="134.80" width="2.94" height="12.30" fill="#cecece"/>
<rect x="162.37" y="134.80" width="2.94" height="12.30" fill="#cecece"/>
<rect x="165.86" y="134.80" width="2.94" height="12.30" fill="#cecece"/>
<rect x="169.35" y="134.80" width="2.94" height="12.30" fill="#cecece"/>
<rect x="172.84" y="134.80" width="2.94" height="12.30" fill="#cecece"/>
<rect x="176.33" y="134.80" width="2.94" height="12.30" fill="#cecece"/>
<rect x="179.82" y="134.80" width="2.94" height="12.30" fill="#cecece"/>
<rect x="183.31" y="134.80" width="2.94" height="12.30" fill="#cecece"/>
<rect x="186.80" y="134.80" width="2.94" height="12.30" fill="#cecece"/>
<rect x="190.29" y="134.80" width="2.94" height="12.30" fill="#cecece"/>
<rect x="193.78" y="134.80" width="2.94" height="12.30" fill="#cecece"/>
<rect x="197.27" y="134.80" width="2.94" height="12.30" fill="#cecece"/>
<rect x="200.76" y="134.80" width="2.94" height="12.30" fill="#cecece"/>
<rect x="204.25" y="134.80" width="2.94" height="12.30" fill="#cecece"/>
<rect x="207.74" y="134.80" width="2.94" height="12.30" fill="#cecece"/>
<rect x="211.23" y="134.80" width="2.94" height="12.30" fill="#cecece"/>
<rect x="214.72" y="134.80" width="2.94" height="12.30" fill="#cecece"/>
<rect x="218.21" y="134.80" width="2.94" height="12.30" fill="#cecece"/>
<rect x="221.70" y="134.80" width="2.94" height="12.30" fill="#cecece"/>
<rect x="225.19" y="134.80" width="2.94" height="12.30" fill="#cecece"/>
<rect x="228.68" y="134.80" width="2.94" height="12.30" fill="#cecece"/>
<rect x="232.17" y="134.80" width="2.94" height="12.30" fill="#cecece"/>
<rect x="235.66" y="134.80" width="2.94" height="12.30" fill="#cecece"/>
<rect x="239.15" y="134.80" width="2.94" height="12.30" fill="#cecece"/>
<rect x="242.64" y="134.80" width="2.94" height="12.30" fill="#cecece"/>
<rect x="246.13" y="134.80" width="2.94" height="12.30" fill="#cecece"/>
<rect x="249.62" y="134.80" width="2.94" height="12.30" fill="#cecece"/>
<rect x="253.11" y="134.80" width="2.94" height="12.30" fill="#cecece"/>
<rect x="256.60" y="134.80" width="2.94" height="12.30" fill="#cecece"/>
<rect x="260.09" y="134.80" width="2.94" height="12.30" fill="#cecece"/>
<rect x="263.58" y="134.80" width="2.94" height="12.30" fill="#cecece"/>
<rect x="267.07" y="134.80" width="2.94" height="12.30" fill="#cecece"/>
<rect x="270.56" y="134.80" width="2.94" height="12.30" fill="#cecece"/>
<rect x="274.05" y="134.80" width="2.94" height="12.30" fill="#cecece"/>
<rect x="277.54" y="134.80" width="2.94" height="12.30" fill="#cecece"/>
<rect x="281.03" y="134.80" width="2.94" height="12.30" fill="#cecece"/>
<rect x="284.52" y="134.80" width="2.94" height="12.30" fill="#cecece"/>
<rect x="288.01" y="134.80" width="2.94" height="12.30" fill="#5e5280"/>
<rect x="291.50" y="134.80" width="2.94" height="12.30" fill="#5e5280"/>
<rect x="294.99" y="134.80" width="2.94" height="12.30" fill="#5e5280"/>
<rect x="298.48" y="134.80" width="2.94" height="12.30" fill="#5e5280"/>
<rect x="301.97" y="134.80" width="2.94" height="12.30" fill="#cecece"/>
<rect x="305.46" y="134.80" width="2.94" height="12.30" fill="#cecece"/>
<rect x="308.95" y="134.80" width="2.94" height="12.30" fill="#cecece"/>
<rect x="312.44" y="134.80" width="2.94" height="12.30" fill="#cecece"/>
<rect x="315.93" y="134.80" width="2.94" height="12.30" fill="#cecece"/>
<rect x="319.42" y="134.80" width="2.94" height="12.30" fill="#2e6e5a"/>
<rect x="322.91" y="134.80" width="2.94" height="12.30" fill="#2e6e5a"/>
<rect x="326.40" y="134.80" width="2.94" height="12.30" fill="#2e6e5a"/>
<rect x="329.89" y="134.80" width="2.94" height="12.30" fill="#2e6e5a"/>
<rect x="333.38" y="134.80" width="2.94" height="12.30" fill="#cecece"/>
<rect x="336.87" y="134.80" width="2.94" height="12.30" fill="#cecece"/>
<rect x="340.36" y="134.80" width="2.94" height="12.30" fill="#cecece"/>
<rect x="343.85" y="134.80" width="2.94" height="12.30" fill="#2f5a80"/>
<rect x="347.34" y="134.80" width="2.94" height="12.30" fill="#2f5a80"/>
<rect x="350.83" y="134.80" width="2.94" height="12.30" fill="#2f5a80"/>
<rect x="354.32" y="134.80" width="2.94" height="12.30" fill="#2f5a80"/>
<rect x="357.81" y="134.80" width="2.94" height="12.30" fill="#2f5a80"/>
<rect x="361.30" y="134.80" width="2.94" height="12.30" fill="#2f5a80"/>
<rect x="364.79" y="134.80" width="2.94" height="12.30" fill="#cecece"/>
<rect x="368.28" y="134.80" width="2.94" height="12.30" fill="#cecece"/>
<rect x="371.77" y="134.80" width="2.94" height="12.30" fill="#cecece"/>
<rect x="375.26" y="134.80" width="2.94" height="12.30" fill="#cecece"/>
<rect x="378.75" y="134.80" width="2.94" height="12.30" fill="#cecece"/>
<rect x="382.24" y="134.80" width="2.94" height="12.30" fill="#cecece"/>
<rect x="385.73" y="134.80" width="2.94" height="12.30" fill="#cecece"/>
<rect x="47.20" y="148.30" width="2.94" height="12.30" fill="#cecece"/>
<rect x="50.69" y="148.30" width="2.94" height="12.30" fill="#cecece"/>
<rect x="54.18" y="148.30" width="2.94" height="12.30" fill="#cecece"/>
<rect x="57.67" y="148.30" width="2.94" height="12.30" fill="#cecece"/>
<rect x="61.16" y="148.30" width="2.94" height="12.30" fill="#cecece"/>
<rect x="64.65" y="148.30" width="2.94" height="12.30" fill="#cecece"/>
<rect x="68.14" y="148.30" width="2.94" height="12.30" fill="#37a348"/>
<rect x="71.63" y="148.30" width="2.94" height="12.30" fill="#cecece"/>
<rect x="75.12" y="148.30" width="2.94" height="12.30" fill="#cecece"/>
<rect x="78.61" y="148.30" width="2.94" height="12.30" fill="#cecece"/>
<rect x="82.10" y="148.30" width="2.94" height="12.30" fill="#cecece"/>
<rect x="85.59" y="148.30" width="2.94" height="12.30" fill="#cecece"/>
<rect x="89.08" y="148.30" width="2.94" height="12.30" fill="#cecece"/>
<rect x="92.57" y="148.30" width="2.94" height="12.30" fill="#cecece"/>
<rect x="96.06" y="148.30" width="2.94" height="12.30" fill="#cecece"/>
<rect x="99.55" y="148.30" width="2.94" height="12.30" fill="#cecece"/>
<rect x="103.04" y="148.30" width="2.94" height="12.30" fill="#cecece"/>
<rect x="106.53" y="148.30" width="2.94" height="12.30" fill="#cecece"/>
<rect x="110.02" y="148.30" width="2.94" height="12.30" fill="#cecece"/>
<rect x="113.51" y="148.30" width="2.94" height="12.30" fill="#cecece"/>
<rect x="117.00" y="148.30" width="2.94" height="12.30" fill="#cecece"/>
<rect x="120.49" y="148.30" width="2.94" height="12.30" fill="#cecece"/>
<rect x="123.98" y="148.30" width="2.94" height="12.30" fill="#cecece"/>
<rect x="127.47" y="148.30" width="2.94" height="12.30" fill="#cecece"/>
<rect x="130.96" y="148.30" width="2.94" height="12.30" fill="#cecece"/>
<rect x="134.45" y="148.30" width="2.94" height="12.30" fill="#37a348"/>
<rect x="137.94" y="148.30" width="2.94" height="12.30" fill="#cecece"/>
<rect x="141.43" y="148.30" width="2.94" height="12.30" fill="#cecece"/>
<rect x="144.92" y="148.30" width="2.94" height="12.30" fill="#1f4d2e"/>
<rect x="148.41" y="148.30" width="2.94" height="12.30" fill="#1f4d2e"/>
<rect x="151.90" y="148.30" width="2.94" height="12.30" fill="#cecece"/>
<rect x="155.39" y="148.30" width="2.94" height="12.30" fill="#cecece"/>
<rect x="158.88" y="148.30" width="2.94" height="12.30" fill="#cecece"/>
<rect x="162.37" y="148.30" width="2.94" height="12.30" fill="#cecece"/>
<rect x="165.86" y="148.30" width="2.94" height="12.30" fill="#cecece"/>
<rect x="169.35" y="148.30" width="2.94" height="12.30" fill="#cecece"/>
<rect x="172.84" y="148.30" width="2.94" height="12.30" fill="#cecece"/>
<rect x="176.33" y="148.30" width="2.94" height="12.30" fill="#cecece"/>
<rect x="179.82" y="148.30" width="2.94" height="12.30" fill="#cecece"/>
<rect x="183.31" y="148.30" width="2.94" height="12.30" fill="#cecece"/>
<rect x="186.80" y="148.30" width="2.94" height="12.30" fill="#cecece"/>
<rect x="190.29" y="148.30" width="2.94" height="12.30" fill="#cecece"/>
<rect x="193.78" y="148.30" width="2.94" height="12.30" fill="#cecece"/>
<rect x="197.27" y="148.30" width="2.94" height="12.30" fill="#cecece"/>
<rect x="200.76" y="148.30" width="2.94" height="12.30" fill="#cecece"/>
<rect x="204.25" y="148.30" width="2.94" height="12.30" fill="#cecece"/>
<rect x="207.74" y="148.30" width="2.94" height="12.30" fill="#cecece"/>
<rect x="211.23" y="148.30" width="2.94" height="12.30" fill="#cecece"/>
<rect x="214.72" y="148.30" width="2.94" height="12.30" fill="#cecece"/>
<rect x="218.21" y="148.30" width="2.94" height="12.30" fill="#cecece"/>
<rect x="221.70" y="148.30" width="2.94" height="12.30" fill="#cecece"/>
<rect x="225.19" y="148.30" width="2.94" height="12.30" fill="#cecece"/>
<rect x="228.68" y="148.30" width="2.94" height="12.30" fill="#cecece"/>
<rect x="232.17" y="148.30" width="2.94" height="12.30" fill="#cecece"/>
<rect x="235.66" y="148.30" width="2.94" height="12.30" fill="#cecece"/>
<rect x="239.15" y="148.30" width="2.94" height="12.30" fill="#cecece"/>
<rect x="242.64" y="148.30" width="2.94" height="12.30" fill="#cecece"/>
<rect x="246.13" y="148.30" width="2.94" height="12.30" fill="#cecece"/>
<rect x="249.62" y="148.30" width="2.94" height="12.30" fill="#cecece"/>
<rect x="253.11" y="148.30" width="2.94" height="12.30" fill="#cecece"/>
<rect x="256.60" y="148.30" width="2.94" height="12.30" fill="#cecece"/>
<rect x="260.09" y="148.30" width="2.94" height="12.30" fill="#cecece"/>
<rect x="263.58" y="148.30" width="2.94" height="12.30" fill="#cecece"/>
<rect x="267.07" y="148.30" width="2.94" height="12.30" fill="#cecece"/>
<rect x="270.56" y="148.30" width="2.94" height="12.30" fill="#cecece"/>
<rect x="274.05" y="148.30" width="2.94" height="12.30" fill="#cecece"/>
<rect x="277.54" y="148.30" width="2.94" height="12.30" fill="#cecece"/>
<rect x="281.03" y="148.30" width="2.94" height="12.30" fill="#cecece"/>
<rect x="284.52" y="148.30" width="2.94" height="12.30" fill="#37a348"/>
<rect x="288.01" y="148.30" width="2.94" height="12.30" fill="#cecece"/>
<rect x="291.50" y="148.30" width="2.94" height="12.30" fill="#cecece"/>
<rect x="294.99" y="148.30" width="2.94" height="12.30" fill="#cecece"/>
<rect x="298.48" y="148.30" width="2.94" height="12.30" fill="#cecece"/>
<rect x="301.97" y="148.30" width="2.94" height="12.30" fill="#37a348"/>
<rect x="305.46" y="148.30" width="2.94" height="12.30" fill="#cecece"/>
<rect x="308.95" y="148.30" width="2.94" height="12.30" fill="#cecece"/>
<rect x="312.44" y="148.30" width="2.94" height="12.30" fill="#cecece"/>
<rect x="315.93" y="148.30" width="2.94" height="12.30" fill="#cecece"/>
<rect x="319.42" y="148.30" width="2.94" height="12.30" fill="#cecece"/>
<rect x="322.91" y="148.30" width="2.94" height="12.30" fill="#cecece"/>
<rect x="326.40" y="148.30" width="2.94" height="12.30" fill="#cecece"/>
<rect x="329.89" y="148.30" width="2.94" height="12.30" fill="#cecece"/>
<rect x="333.38" y="148.30" width="2.94" height="12.30" fill="#37a348"/>
<rect x="336.87" y="148.30" width="2.94" height="12.30" fill="#cecece"/>
<rect x="340.36" y="148.30" width="2.94" height="12.30" fill="#cecece"/>
<rect x="343.85" y="148.30" width="2.94" height="12.30" fill="#cecece"/>
<rect x="347.34" y="148.30" width="2.94" height="12.30" fill="#cecece"/>
<rect x="350.83" y="148.30" width="2.94" height="12.30" fill="#cecece"/>
<rect x="354.32" y="148.30" width="2.94" height="12.30" fill="#cecece"/>
<rect x="357.81" y="148.30" width="2.94" height="12.30" fill="#cecece"/>
<rect x="361.30" y="148.30" width="2.94" height="12.30" fill="#cecece"/>
<rect x="364.79" y="148.30" width="2.94" height="12.30" fill="#37a348"/>
<rect x="368.28" y="148.30" width="2.94" height="12.30" fill="#37a348"/>
<rect x="371.77" y="148.30" width="2.94" height="12.30" fill="#37a348"/>
<rect x="375.26" y="148.30" width="2.94" height="12.30" fill="#37a348"/>
<rect x="378.75" y="148.30" width="2.94" height="12.30" fill="#37a348"/>
<rect x="382.24" y="148.30" width="2.94" height="12.30" fill="#37a348"/>
<rect x="385.73" y="148.30" width="2.94" height="12.30" fill="#cecece"/>
<rect x="47.20" y="161.80" width="2.94" height="12.30" fill="#cecece"/>
<rect x="50.69" y="161.80" width="2.94" height="12.30" fill="#cecece"/>
<rect x="54.18" y="161.80" width="2.94" height="12.30" fill="#37a348"/>
<rect x="57.67" y="161.80" width="2.94" height="12.30" fill="#cecece"/>
<rect x="61.16" y="161.80" width="2.94" height="12.30" fill="#cecece"/>
<rect x="64.65" y="161.80" width="2.94" height="12.30" fill="#cecece"/>
<rect x="68.14" y="161.80" width="2.94" height="12.30" fill="#cecece"/>
<rect x="71.63" y="161.80" width="2.94" height="12.30" fill="#37a348"/>
<rect x="75.12" y="161.80" width="2.94" height="12.30" fill="#cecece"/>
<rect x="78.61" y="161.80" width="2.94" height="12.30" fill="#cecece"/>
<rect x="82.10" y="161.80" width="2.94" height="12.30" fill="#cecece"/>
<rect x="85.59" y="161.80" width="2.94" height="12.30" fill="#37a348"/>
<rect x="89.08" y="161.80" width="2.94" height="12.30" fill="#37a348"/>
<rect x="92.57" y="161.80" width="2.94" height="12.30" fill="#37a348"/>
<rect x="96.06" y="161.80" width="2.94" height="12.30" fill="#cecece"/>
<rect x="99.55" y="161.80" width="2.94" height="12.30" fill="#cecece"/>
<rect x="103.04" y="161.80" width="2.94" height="12.30" fill="#cecece"/>
<rect x="106.53" y="161.80" width="2.94" height="12.30" fill="#cecece"/>
<rect x="110.02" y="161.80" width="2.94" height="12.30" fill="#cecece"/>
<rect x="113.51" y="161.80" width="2.94" height="12.30" fill="#cecece"/>
<rect x="117.00" y="161.80" width="2.94" height="12.30" fill="#cecece"/>
<rect x="120.49" y="161.80" width="2.94" height="12.30" fill="#cecece"/>
<rect x="123.98" y="161.80" width="2.94" height="12.30" fill="#cecece"/>
<rect x="127.47" y="161.80" width="2.94" height="12.30" fill="#cecece"/>
<rect x="130.96" y="161.80" width="2.94" height="12.30" fill="#cecece"/>
<rect x="134.45" y="161.80" width="2.94" height="12.30" fill="#37a348"/>
<rect x="137.94" y="161.80" width="2.94" height="12.30" fill="#37a348"/>
<rect x="141.43" y="161.80" width="2.94" height="12.30" fill="#cecece"/>
<rect x="144.92" y="161.80" width="2.94" height="12.30" fill="#cecece"/>
<rect x="148.41" y="161.80" width="2.94" height="12.30" fill="#cecece"/>
<rect x="151.90" y="161.80" width="2.94" height="12.30" fill="#cecece"/>
<rect x="155.39" y="161.80" width="2.94" height="12.30" fill="#cecece"/>
<rect x="158.88" y="161.80" width="2.94" height="12.30" fill="#cecece"/>
<rect x="162.37" y="161.80" width="2.94" height="12.30" fill="#cecece"/>
<rect x="165.86" y="161.80" width="2.94" height="12.30" fill="#cecece"/>
<rect x="169.35" y="161.80" width="2.94" height="12.30" fill="#cecece"/>
<rect x="172.84" y="161.80" width="2.94" height="12.30" fill="#cecece"/>
<rect x="176.33" y="161.80" width="2.94" height="12.30" fill="#cecece"/>
<rect x="179.82" y="161.80" width="2.94" height="12.30" fill="#cecece"/>
<rect x="183.31" y="161.80" width="2.94" height="12.30" fill="#cecece"/>
<rect x="186.80" y="161.80" width="2.94" height="12.30" fill="#37a348"/>
<rect x="190.29" y="161.80" width="2.94" height="12.30" fill="#37a348"/>
<rect x="193.78" y="161.80" width="2.94" height="12.30" fill="#cecece"/>
<rect x="197.27" y="161.80" width="2.94" height="12.30" fill="#cecece"/>
<rect x="200.76" y="161.80" width="2.94" height="12.30" fill="#cecece"/>
<rect x="204.25" y="161.80" width="2.94" height="12.30" fill="#cecece"/>
<rect x="207.74" y="161.80" width="2.94" height="12.30" fill="#cecece"/>
<rect x="211.23" y="161.80" width="2.94" height="12.30" fill="#cecece"/>
<rect x="214.72" y="161.80" width="2.94" height="12.30" fill="#cecece"/>
<rect x="218.21" y="161.80" width="2.94" height="12.30" fill="#cecece"/>
<rect x="221.70" y="161.80" width="2.94" height="12.30" fill="#cecece"/>
<rect x="225.19" y="161.80" width="2.94" height="12.30" fill="#cecece"/>
<rect x="228.68" y="161.80" width="2.94" height="12.30" fill="#cecece"/>
<rect x="232.17" y="161.80" width="2.94" height="12.30" fill="#cecece"/>
<rect x="235.66" y="161.80" width="2.94" height="12.30" fill="#cecece"/>
<rect x="239.15" y="161.80" width="2.94" height="12.30" fill="#cecece"/>
<rect x="242.64" y="161.80" width="2.94" height="12.30" fill="#cecece"/>
<rect x="246.13" y="161.80" width="2.94" height="12.30" fill="#cecece"/>
<rect x="249.62" y="161.80" width="2.94" height="12.30" fill="#cecece"/>
<rect x="253.11" y="161.80" width="2.94" height="12.30" fill="#cecece"/>
<rect x="256.60" y="161.80" width="2.94" height="12.30" fill="#cecece"/>
<rect x="260.09" y="161.80" width="2.94" height="12.30" fill="#cecece"/>
<rect x="263.58" y="161.80" width="2.94" height="12.30" fill="#cecece"/>
<rect x="267.07" y="161.80" width="2.94" height="12.30" fill="#cecece"/>
<rect x="270.56" y="161.80" width="2.94" height="12.30" fill="#cecece"/>
<rect x="274.05" y="161.80" width="2.94" height="12.30" fill="#cecece"/>
<rect x="277.54" y="161.80" width="2.94" height="12.30" fill="#cecece"/>
<rect x="281.03" y="161.80" width="2.94" height="12.30" fill="#cecece"/>
<rect x="284.52" y="161.80" width="2.94" height="12.30" fill="#37a348"/>
<rect x="288.01" y="161.80" width="2.94" height="12.30" fill="#37a348"/>
<rect x="291.50" y="161.80" width="2.94" height="12.30" fill="#cecece"/>
<rect x="294.99" y="161.80" width="2.94" height="12.30" fill="#cecece"/>
<rect x="298.48" y="161.80" width="2.94" height="12.30" fill="#cecece"/>
<rect x="301.97" y="161.80" width="2.94" height="12.30" fill="#cecece"/>
<rect x="305.46" y="161.80" width="2.94" height="12.30" fill="#37a348"/>
<rect x="308.95" y="161.80" width="2.94" height="12.30" fill="#cecece"/>
<rect x="312.44" y="161.80" width="2.94" height="12.30" fill="#cecece"/>
<rect x="315.93" y="161.80" width="2.94" height="12.30" fill="#cecece"/>
<rect x="319.42" y="161.80" width="2.94" height="12.30" fill="#cecece"/>
<rect x="322.91" y="161.80" width="2.94" height="12.30" fill="#cecece"/>
<rect x="326.40" y="161.80" width="2.94" height="12.30" fill="#cecece"/>
<rect x="329.89" y="161.80" width="2.94" height="12.30" fill="#cecece"/>
<rect x="333.38" y="161.80" width="2.94" height="12.30" fill="#cecece"/>
<rect x="336.87" y="161.80" width="2.94" height="12.30" fill="#37a348"/>
<rect x="340.36" y="161.80" width="2.94" height="12.30" fill="#cecece"/>
<rect x="343.85" y="161.80" width="2.94" height="12.30" fill="#cecece"/>
<rect x="347.34" y="161.80" width="2.94" height="12.30" fill="#cecece"/>
<rect x="350.83" y="161.80" width="2.94" height="12.30" fill="#cecece"/>
<rect x="354.32" y="161.80" width="2.94" height="12.30" fill="#cecece"/>
<rect x="357.81" y="161.80" width="2.94" height="12.30" fill="#cecece"/>
<rect x="361.30" y="161.80" width="2.94" height="12.30" fill="#cecece"/>
<rect x="364.79" y="161.80" width="2.94" height="12.30" fill="#cecece"/>
<rect x="368.28" y="161.80" width="2.94" height="12.30" fill="#cecece"/>
<rect x="371.77" y="161.80" width="2.94" height="12.30" fill="#cecece"/>
<rect x="375.26" y="161.80" width="2.94" height="12.30" fill="#cecece"/>
<rect x="378.75" y="161.80" width="2.94" height="12.30" fill="#cecece"/>
<rect x="382.24" y="161.80" width="2.94" height="12.30" fill="#cecece"/>
<rect x="385.73" y="161.80" width="2.94" height="12.30" fill="#37a348"/>
<rect x="47.20" y="175.30" width="2.94" height="12.30" fill="#cecece"/>
<rect x="50.69" y="175.30" width="2.94" height="12.30" fill="#cecece"/>
<rect x="54.18" y="175.30" width="2.94" height="12.30" fill="#cecece"/>
<rect x="57.67" y="175.30" width="2.94" height="12.30" fill="#cecece"/>
<rect x="61.16" y="175.30" width="2.94" height="12.30" fill="#cecece"/>
<rect x="64.65" y="175.30" width="2.94" height="12.30" fill="#cecece"/>
<rect x="68.14" y="175.30" width="2.94" height="12.30" fill="#cecece"/>
<rect x="71.63" y="175.30" width="2.94" height="12.30" fill="#cecece"/>
<rect x="75.12" y="175.30" width="2.94" height="12.30" fill="#cecece"/>
<rect x="78.61" y="175.30" width="2.94" height="12.30" fill="#cecece"/>
<rect x="82.10" y="175.30" width="2.94" height="12.30" fill="#cecece"/>
<rect x="85.59" y="175.30" width="2.94" height="12.30" fill="#37a348"/>
<rect x="89.08" y="175.30" width="2.94" height="12.30" fill="#cecece"/>
<rect x="92.57" y="175.30" width="2.94" height="12.30" fill="#cecece"/>
<rect x="96.06" y="175.30" width="2.94" height="12.30" fill="#cecece"/>
<rect x="99.55" y="175.30" width="2.94" height="12.30" fill="#cecece"/>
<rect x="103.04" y="175.30" width="2.94" height="12.30" fill="#cecece"/>
<rect x="106.53" y="175.30" width="2.94" height="12.30" fill="#cecece"/>
<rect x="110.02" y="175.30" width="2.94" height="12.30" fill="#cecece"/>
<rect x="113.51" y="175.30" width="2.94" height="12.30" fill="#cecece"/>
<rect x="117.00" y="175.30" width="2.94" height="12.30" fill="#cecece"/>
<rect x="120.49" y="175.30" width="2.94" height="12.30" fill="#cecece"/>
<rect x="123.98" y="175.30" width="2.94" height="12.30" fill="#cecece"/>
<rect x="127.47" y="175.30" width="2.94" height="12.30" fill="#cecece"/>
<rect x="130.96" y="175.30" width="2.94" height="12.30" fill="#cecece"/>
<rect x="134.45" y="175.30" width="2.94" height="12.30" fill="#cecece"/>
<rect x="137.94" y="175.30" width="2.94" height="12.30" fill="#cecece"/>
<rect x="141.43" y="175.30" width="2.94" height="12.30" fill="#cecece"/>
<rect x="144.92" y="175.30" width="2.94" height="12.30" fill="#37a348"/>
<rect x="148.41" y="175.30" width="2.94" height="12.30" fill="#cecece"/>
<rect x="151.90" y="175.30" width="2.94" height="12.30" fill="#cecece"/>
<rect x="155.39" y="175.30" width="2.94" height="12.30" fill="#cecece"/>
<rect x="158.88" y="175.30" width="2.94" height="12.30" fill="#cecece"/>
<rect x="162.37" y="175.30" width="2.94" height="12.30" fill="#cecece"/>
<rect x="165.86" y="175.30" width="2.94" height="12.30" fill="#cecece"/>
<rect x="169.35" y="175.30" width="2.94" height="12.30" fill="#cecece"/>
<rect x="172.84" y="175.30" width="2.94" height="12.30" fill="#cecece"/>
<rect x="176.33" y="175.30" width="2.94" height="12.30" fill="#cecece"/>
<rect x="179.82" y="175.30" width="2.94" height="12.30" fill="#cecece"/>
<rect x="183.31" y="175.30" width="2.94" height="12.30" fill="#cecece"/>
<rect x="186.80" y="175.30" width="2.94" height="12.30" fill="#cecece"/>
<rect x="190.29" y="175.30" width="2.94" height="12.30" fill="#cecece"/>
<rect x="193.78" y="175.30" width="2.94" height="12.30" fill="#37a348"/>
<rect x="197.27" y="175.30" width="2.94" height="12.30" fill="#6b3f9c"/>
<rect x="200.76" y="175.30" width="2.94" height="12.30" fill="#37a348"/>
<rect x="204.25" y="175.30" width="2.94" height="12.30" fill="#37a348"/>
<rect x="207.74" y="175.30" width="2.94" height="12.30" fill="#cecece"/>
<rect x="211.23" y="175.30" width="2.94" height="12.30" fill="#cecece"/>
<rect x="214.72" y="175.30" width="2.94" height="12.30" fill="#cecece"/>
<rect x="218.21" y="175.30" width="2.94" height="12.30" fill="#cecece"/>
<rect x="221.70" y="175.30" width="2.94" height="12.30" fill="#cecece"/>
<rect x="225.19" y="175.30" width="2.94" height="12.30" fill="#cecece"/>
<rect x="228.68" y="175.30" width="2.94" height="12.30" fill="#cecece"/>
<rect x="232.17" y="175.30" width="2.94" height="12.30" fill="#cecece"/>
<rect x="235.66" y="175.30" width="2.94" height="12.30" fill="#cecece"/>
<rect x="239.15" y="175.30" width="2.94" height="12.30" fill="#cecece"/>
<rect x="242.64" y="175.30" width="2.94" height="12.30" fill="#cecece"/>
<rect x="246.13" y="175.30" width="2.94" height="12.30" fill="#cecece"/>
<rect x="249.62" y="175.30" width="2.94" height="12.30" fill="#cecece"/>
<rect x="253.11" y="175.30" width="2.94" height="12.30" fill="#cecece"/>
<rect x="256.60" y="175.30" width="2.94" height="12.30" fill="#cecece"/>
<rect x="260.09" y="175.30" width="2.94" height="12.30" fill="#cecece"/>
<rect x="263.58" y="175.30" width="2.94" height="12.30" fill="#cecece"/>
<rect x="267.07" y="175.30" width="2.94" height="12.30" fill="#cecece"/>
<rect x="270.56" y="175.30" width="2.94" height="12.30" fill="#cecece"/>
<rect x="274.05" y="175.30" width="2.94" height="12.30" fill="#cecece"/>
<rect x="277.54" y="175.30" width="2.94" height="12.30" fill="#cecece"/>
<rect x="281.03" y="175.30" width="2.94" height="12.30" fill="#cecece"/>
<rect x="284.52" y="175.30" width="2.94" height="12.30" fill="#cecece"/>
<rect x="288.01" y="175.30" width="2.94" height="12.30" fill="#cecece"/>
<rect x="291.50" y="175.30" width="2.94" height="12.30" fill="#37a348"/>
<rect x="294.99" y="175.30" width="2.94" height="12.30" fill="#cecece"/>
<rect x="298.48" y="175.30" width="2.94" height="12.30" fill="#cecece"/>
<rect x="301.97" y="175.30" width="2.94" height="12.30" fill="#cecece"/>
<rect x="305.46" y="175.30" width="2.94" height="12.30" fill="#cecece"/>
<rect x="308.95" y="175.30" width="2.94" height="12.30" fill="#37a348"/>
<rect x="312.44" y="175.30" width="2.94" height="12.30" fill="#cecece"/>
<rect x="315.93" y="175.30" width="2.94" height="12.30" fill="#cecece"/>
<rect x="319.42" y="175.30" width="2.94" height="12.30" fill="#cecece"/>
<rect x="322.91" y="175.30" width="2.94" height="12.30" fill="#37a348"/>
<rect x="326.40" y="175.30" width="2.94" height="12.30" fill="#cecece"/>
<rect x="329.89" y="175.30" width="2.94" height="12.30" fill="#cecece"/>
<rect x="333.38" y="175.30" width="2.94" height="12.30" fill="#cecece"/>
<rect x="336.87" y="175.30" width="2.94" height="12.30" fill="#cecece"/>
<rect x="340.36" y="175.30" width="2.94" height="12.30" fill="#4a7fa8"/>
<rect x="343.85" y="175.30" width="2.94" height="12.30" fill="#4a7fa8"/>
<rect x="347.34" y="175.30" width="2.94" height="12.30" fill="#4a7fa8"/>
<rect x="350.83" y="175.30" width="2.94" height="12.30" fill="#cecece"/>
<rect x="354.32" y="175.30" width="2.94" height="12.30" fill="#cecece"/>
<rect x="357.81" y="175.30" width="2.94" height="12.30" fill="#cecece"/>
<rect x="361.30" y="175.30" width="2.94" height="12.30" fill="#cecece"/>
<rect x="364.79" y="175.30" width="2.94" height="12.30" fill="#e3262b"/>
<rect x="368.28" y="175.30" width="2.94" height="12.30" fill="#cecece"/>
<rect x="371.77" y="175.30" width="2.94" height="12.30" fill="#cecece"/>
<rect x="375.26" y="175.30" width="2.94" height="12.30" fill="#cecece"/>
<rect x="378.75" y="175.30" width="2.94" height="12.30" fill="#cecece"/>
<rect x="382.24" y="175.30" width="2.94" height="12.30" fill="#cecece"/>
<rect x="385.73" y="175.30" width="2.94" height="12.30" fill="#cecece"/>
<rect x="47.20" y="188.80" width="2.94" height="12.30" fill="#cecece"/>
<rect x="50.69" y="188.80" width="2.94" height="12.30" fill="#cecece"/>
<rect x="54.18" y="188.80" width="2.94" height="12.30" fill="#cecece"/>
<rect x="57.67" y="188.80" width="2.94" height="12.30" fill="#f58a2c"/>
<rect x="61.16" y="188.80" width="2.94" height="12.30" fill="#cecece"/>
<rect x="64.65" y="188.80" width="2.94" height="12.30" fill="#cecece"/>
<rect x="68.14" y="188.80" width="2.94" height="12.30" fill="#1c1c1c"/>
<rect x="71.63" y="188.80" width="2.94" height="12.30" fill="#cecece"/>
<rect x="75.12" y="188.80" width="2.94" height="12.30" fill="#1f4d2e"/>
<rect x="78.61" y="188.80" width="2.94" height="12.30" fill="#cecece"/>
<rect x="82.10" y="188.80" width="2.94" height="12.30" fill="#cecece"/>
<rect x="85.59" y="188.80" width="2.94" height="12.30" fill="#cecece"/>
<rect x="89.08" y="188.80" width="2.94" height="12.30" fill="#37a348"/>
<rect x="92.57" y="188.80" width="2.94" height="12.30" fill="#cecece"/>
<rect x="96.06" y="188.80" width="2.94" height="12.30" fill="#cecece"/>
<rect x="99.55" y="188.80" width="2.94" height="12.30" fill="#cecece"/>
<rect x="103.04" y="188.80" width="2.94" height="12.30" fill="#cecece"/>
<rect x="106.53" y="188.80" width="2.94" height="12.30" fill="#cecece"/>
<rect x="110.02" y="188.80" width="2.94" height="12.30" fill="#cecece"/>
<rect x="113.51" y="188.80" width="2.94" height="12.30" fill="#cecece"/>
<rect x="117.00" y="188.80" width="2.94" height="12.30" fill="#cecece"/>
<rect x="120.49" y="188.80" width="2.94" height="12.30" fill="#cecece"/>
<rect x="123.98" y="188.80" width="2.94" height="12.30" fill="#cecece"/>
<rect x="127.47" y="188.80" width="2.94" height="12.30" fill="#cecece"/>
<rect x="130.96" y="188.80" width="2.94" height="12.30" fill="#cecece"/>
<rect x="134.45" y="188.80" width="2.94" height="12.30" fill="#cecece"/>
<rect x="137.94" y="188.80" width="2.94" height="12.30" fill="#cecece"/>
<rect x="141.43" y="188.80" width="2.94" height="12.30" fill="#cecece"/>
<rect x="144.92" y="188.80" width="2.94" height="12.30" fill="#cecece"/>
<rect x="148.41" y="188.80" width="2.94" height="12.30" fill="#7f9c3e"/>
<rect x="151.90" y="188.80" width="2.94" height="12.30" fill="#7f9c3e"/>
<rect x="155.39" y="188.80" width="2.94" height="12.30" fill="#cecece"/>
<rect x="158.88" y="188.80" width="2.94" height="12.30" fill="#cecece"/>
<rect x="162.37" y="188.80" width="2.94" height="12.30" fill="#cecece"/>
<rect x="165.86" y="188.80" width="2.94" height="12.30" fill="#cecece"/>
<rect x="169.35" y="188.80" width="2.94" height="12.30" fill="#cecece"/>
<rect x="172.84" y="188.80" width="2.94" height="12.30" fill="#cecece"/>
<rect x="176.33" y="188.80" width="2.94" height="12.30" fill="#cecece"/>
<rect x="179.82" y="188.80" width="2.94" height="12.30" fill="#cecece"/>
<rect x="183.31" y="188.80" width="2.94" height="12.30" fill="#cecece"/>
<rect x="186.80" y="188.80" width="2.94" height="12.30" fill="#cecece"/>
<rect x="190.29" y="188.80" width="2.94" height="12.30" fill="#cecece"/>
<rect x="193.78" y="188.80" width="2.94" height="12.30" fill="#cecece"/>
<rect x="197.27" y="188.80" width="2.94" height="12.30" fill="#cecece"/>
<rect x="200.76" y="188.80" width="2.94" height="12.30" fill="#cecece"/>
<rect x="204.25" y="188.80" width="2.94" height="12.30" fill="#cecece"/>
<rect x="207.74" y="188.80" width="2.94" height="12.30" fill="#7f9c3e"/>
<rect x="211.23" y="188.80" width="2.94" height="12.30" fill="#7f9c3e"/>
<rect x="214.72" y="188.80" width="2.94" height="12.30" fill="#cecece"/>
<rect x="218.21" y="188.80" width="2.94" height="12.30" fill="#cecece"/>
<rect x="221.70" y="188.80" width="2.94" height="12.30" fill="#cecece"/>
<rect x="225.19" y="188.80" width="2.94" height="12.30" fill="#cecece"/>
<rect x="228.68" y="188.80" width="2.94" height="12.30" fill="#cecece"/>
<rect x="232.17" y="188.80" width="2.94" height="12.30" fill="#cecece"/>
<rect x="235.66" y="188.80" width="2.94" height="12.30" fill="#cecece"/>
<rect x="239.15" y="188.80" width="2.94" height="12.30" fill="#cecece"/>
<rect x="242.64" y="188.80" width="2.94" height="12.30" fill="#cecece"/>
<rect x="246.13" y="188.80" width="2.94" height="12.30" fill="#cecece"/>
<rect x="249.62" y="188.80" width="2.94" height="12.30" fill="#cecece"/>
<rect x="253.11" y="188.80" width="2.94" height="12.30" fill="#cecece"/>
<rect x="256.60" y="188.80" width="2.94" height="12.30" fill="#cecece"/>
<rect x="260.09" y="188.80" width="2.94" height="12.30" fill="#cecece"/>
<rect x="263.58" y="188.80" width="2.94" height="12.30" fill="#cecece"/>
<rect x="267.07" y="188.80" width="2.94" height="12.30" fill="#cecece"/>
<rect x="270.56" y="188.80" width="2.94" height="12.30" fill="#cecece"/>
<rect x="274.05" y="188.80" width="2.94" height="12.30" fill="#cecece"/>
<rect x="277.54" y="188.80" width="2.94" height="12.30" fill="#cecece"/>
<rect x="281.03" y="188.80" width="2.94" height="12.30" fill="#1c1c1c"/>
<rect x="284.52" y="188.80" width="2.94" height="12.30" fill="#cecece"/>
<rect x="288.01" y="188.80" width="2.94" height="12.30" fill="#cecece"/>
<rect x="291.50" y="188.80" width="2.94" height="12.30" fill="#cecece"/>
<rect x="294.99" y="188.80" width="2.94" height="12.30" fill="#f58a2c"/>
<rect x="298.48" y="188.80" width="2.94" height="12.30" fill="#cecece"/>
<rect x="301.97" y="188.80" width="2.94" height="12.30" fill="#cecece"/>
<rect x="305.46" y="188.80" width="2.94" height="12.30" fill="#cecece"/>
<rect x="308.95" y="188.80" width="2.94" height="12.30" fill="#cecece"/>
<rect x="312.44" y="188.80" width="2.94" height="12.30" fill="#cecece"/>
<rect x="315.93" y="188.80" width="2.94" height="12.30" fill="#cecece"/>
<rect x="319.42" y="188.80" width="2.94" height="12.30" fill="#37a348"/>
<rect x="322.91" y="188.80" width="2.94" height="12.30" fill="#cecece"/>
<rect x="326.40" y="188.80" width="2.94" height="12.30" fill="#cecece"/>
<rect x="329.89" y="188.80" width="2.94" height="12.30" fill="#cecece"/>
<rect x="333.38" y="188.80" width="2.94" height="12.30" fill="#cecece"/>
<rect x="336.87" y="188.80" width="2.94" height="12.30" fill="#cecece"/>
<rect x="340.36" y="188.80" width="2.94" height="12.30" fill="#cecece"/>
<rect x="343.85" y="188.80" width="2.94" height="12.30" fill="#cecece"/>
<rect x="347.34" y="188.80" width="2.94" height="12.30" fill="#cecece"/>
<rect x="350.83" y="188.80" width="2.94" height="12.30" fill="#cecece"/>
<rect x="354.32" y="188.80" width="2.94" height="12.30" fill="#cecece"/>
<rect x="357.81" y="188.80" width="2.94" height="12.30" fill="#cecece"/>
<rect x="361.30" y="188.80" width="2.94" height="12.30" fill="#cecece"/>
<rect x="364.79" y="188.80" width="2.94" height="12.30" fill="#cecece"/>
<rect x="368.28" y="188.80" width="2.94" height="12.30" fill="#cecece"/>
<rect x="371.77" y="188.80" width="2.94" height="12.30" fill="#cecece"/>
<rect x="375.26" y="188.80" width="2.94" height="12.30" fill="#cecece"/>
<rect x="378.75" y="188.80" width="2.94" height="12.30" fill="#cecece"/>
<rect x="382.24" y="188.80" width="2.94" height="12.30" fill="#cecece"/>
<rect x="385.73" y="188.80" width="2.94" height="12.30" fill="#cecece"/>
<rect x="47.20" y="202.30" width="2.94" height="12.30" fill="#37a348"/>
<rect x="50.69" y="202.30" width="2.94" height="12.30" fill="#37a348"/>
<rect x="54.18" y="202.30" width="2.94" height="12.30" fill="#37a348"/>
<rect x="57.67" y="202.30" width="2.94" height="12.30" fill="#cecece"/>
<rect x="61.16" y="202.30" width="2.94" height="12.30" fill="#cecece"/>
<rect x="64.65" y="202.30" width="2.94" height="12.30" fill="#cecece"/>
<rect x="68.14" y="202.30" width="2.94" height="12.30" fill="#cecece"/>
<rect x="71.63" y="202.30" width="2.94" height="12.30" fill="#cecece"/>
<rect x="75.12" y="202.30" width="2.94" height="12.30" fill="#1f4d2e"/>
<rect x="78.61" y="202.30" width="2.94" height="12.30" fill="#cecece"/>
<rect x="82.10" y="202.30" width="2.94" height="12.30" fill="#cecece"/>
<rect x="85.59" y="202.30" width="2.94" height="12.30" fill="#cecece"/>
<rect x="89.08" y="202.30" width="2.94" height="12.30" fill="#cecece"/>
<rect x="92.57" y="202.30" width="2.94" height="12.30" fill="#cecece"/>
<rect x="96.06" y="202.30" width="2.94" height="12.30" fill="#37a348"/>
<rect x="99.55" y="202.30" width="2.94" height="12.30" fill="#cecece"/>
<rect x="103.04" y="202.30" width="2.94" height="12.30" fill="#cecece"/>
<rect x="106.53" y="202.30" width="2.94" height="12.30" fill="#cecece"/>
<rect x="110.02" y="202.30" width="2.94" height="12.30" fill="#cecece"/>
<rect x="113.51" y="202.30" width="2.94" height="12.30" fill="#cecece"/>
<rect x="117.00" y="202.30" width="2.94" height="12.30" fill="#cecece"/>
<rect x="120.49" y="202.30" width="2.94" height="12.30" fill="#cecece"/>
<rect x="123.98" y="202.30" width="2.94" height="12.30" fill="#cecece"/>
<rect x="127.47" y="202.30" width="2.94" height="12.30" fill="#cecece"/>
<rect x="130.96" y="202.30" width="2.94" height="12.30" fill="#cecece"/>
<rect x="134.45" y="202.30" width="2.94" height="12.30" fill="#cecece"/>
<rect x="137.94" y="202.30" width="2.94" height="12.30" fill="#cecece"/>
<rect x="141.43" y="202.30" width="2.94" height="12.30" fill="#cecece"/>
<rect x="144.92" y="202.30" width="2.94" height="12.30" fill="#cecece"/>
<rect x="148.41" y="202.30" width="2.94" height="12.30" fill="#cecece"/>
<rect x="151.90" y="202.30" width="2.94" height="12.30" fill="#7f9c3e"/>
<rect x="155.39" y="202.30" width="2.94" height="12.30" fill="#7f9c3e"/>
<rect x="158.88" y="202.30" width="2.94" height="12.30" fill="#cecece"/>
<rect x="162.37" y="202.30" width="2.94" height="12.30" fill="#cecece"/>
<rect x="165.86" y="202.30" width="2.94" height="12.30" fill="#cecece"/>
<rect x="169.35" y="202.30" width="2.94" height="12.30" fill="#cecece"/>
<rect x="172.84" y="202.30" width="2.94" height="12.30" fill="#cecece"/>
<rect x="176.33" y="202.30" width="2.94" height="12.30" fill="#cecece"/>
<rect x="179.82" y="202.30" width="2.94" height="12.30" fill="#cecece"/>
<rect x="183.31" y="202.30" width="2.94" height="12.30" fill="#cecece"/>
<rect x="186.80" y="202.30" width="2.94" height="12.30" fill="#cecece"/>
<rect x="190.29" y="202.30" width="2.94" height="12.30" fill="#cecece"/>
<rect x="193.78" y="202.30" width="2.94" height="12.30" fill="#cecece"/>
<rect x="197.27" y="202.30" width="2.94" height="12.30" fill="#cecece"/>
<rect x="200.76" y="202.30" width="2.94" height="12.30" fill="#cecece"/>
<rect x="204.25" y="202.30" width="2.94" height="12.30" fill="#cecece"/>
<rect x="207.74" y="202.30" width="2.94" height="12.30" fill="#7f9c3e"/>
<rect x="211.23" y="202.30" width="2.94" height="12.30" fill="#cecece"/>
<rect x="214.72" y="202.30" width="2.94" height="12.30" fill="#cecece"/>
<rect x="218.21" y="202.30" width="2.94" height="12.30" fill="#cecece"/>
<rect x="221.70" y="202.30" width="2.94" height="12.30" fill="#cecece"/>
<rect x="225.19" y="202.30" width="2.94" height="12.30" fill="#cecece"/>
<rect x="228.68" y="202.30" width="2.94" height="12.30" fill="#cecece"/>
<rect x="232.17" y="202.30" width="2.94" height="12.30" fill="#cecece"/>
<rect x="235.66" y="202.30" width="2.94" height="12.30" fill="#cecece"/>
<rect x="239.15" y="202.30" width="2.94" height="12.30" fill="#cecece"/>
<rect x="242.64" y="202.30" width="2.94" height="12.30" fill="#cecece"/>
<rect x="246.13" y="202.30" width="2.94" height="12.30" fill="#cecece"/>
<rect x="249.62" y="202.30" width="2.94" height="12.30" fill="#cecece"/>
<rect x="253.11" y="202.30" width="2.94" height="12.30" fill="#cecece"/>
<rect x="256.60" y="202.30" width="2.94" height="12.30" fill="#cecece"/>
<rect x="260.09" y="202.30" width="2.94" height="12.30" fill="#cecece"/>
<rect x="263.58" y="202.30" width="2.94" height="12.30" fill="#cecece"/>
<rect x="267.07" y="202.30" width="2.94" height="12.30" fill="#cecece"/>
<rect x="270.56" y="202.30" width="2.94" height="12.30" fill="#cecece"/>
<rect x="274.05" y="202.30" width="2.94" height="12.30" fill="#cecece"/>
<rect x="277.54" y="202.30" width="2.94" height="12.30" fill="#cecece"/>
<rect x="281.03" y="202.30" width="2.94" height="12.30" fill="#cecece"/>
<rect x="284.52" y="202.30" width="2.94" height="12.30" fill="#cecece"/>
<rect x="288.01" y="202.30" width="2.94" height="12.30" fill="#cecece"/>
<rect x="291.50" y="202.30" width="2.94" height="12.30" fill="#cecece"/>
<rect x="294.99" y="202.30" width="2.94" height="12.30" fill="#cecece"/>
<rect x="298.48" y="202.30" width="2.94" height="12.30" fill="#cecece"/>
<rect x="301.97" y="202.30" width="2.94" height="12.30" fill="#cecece"/>
<rect x="305.46" y="202.30" width="2.94" height="12.30" fill="#37a348"/>
<rect x="308.95" y="202.30" width="2.94" height="12.30" fill="#37a348"/>
<rect x="312.44" y="202.30" width="2.94" height="12.30" fill="#cecece"/>
<rect x="315.93" y="202.30" width="2.94" height="12.30" fill="#cecece"/>
<rect x="319.42" y="202.30" width="2.94" height="12.30" fill="#cecece"/>
<rect x="322.91" y="202.30" width="2.94" height="12.30" fill="#cecece"/>
<rect x="326.40" y="202.30" width="2.94" height="12.30" fill="#cecece"/>
<rect x="329.89" y="202.30" width="2.94" height="12.30" fill="#cecece"/>
<rect x="333.38" y="202.30" width="2.94" height="12.30" fill="#cecece"/>
<rect x="336.87" y="202.30" width="2.94" height="12.30" fill="#cecece"/>
<rect x="340.36" y="202.30" width="2.94" height="12.30" fill="#cecece"/>
<rect x="343.85" y="202.30" width="2.94" height="12.30" fill="#cecece"/>
<rect x="347.34" y="202.30" width="2.94" height="12.30" fill="#cecece"/>
<rect x="350.83" y="202.30" width="2.94" height="12.30" fill="#37a348"/>
<rect x="354.32" y="202.30" width="2.94" height="12.30" fill="#cecece"/>
<rect x="357.81" y="202.30" width="2.94" height="12.30" fill="#cecece"/>
<rect x="361.30" y="202.30" width="2.94" height="12.30" fill="#cecece"/>
<rect x="364.79" y="202.30" width="2.94" height="12.30" fill="#cecece"/>
<rect x="368.28" y="202.30" width="2.94" height="12.30" fill="#cecece"/>
<rect x="371.77" y="202.30" width="2.94" height="12.30" fill="#cecece"/>
<rect x="375.26" y="202.30" width="2.94" height="12.30" fill="#cecece"/>
<rect x="378.75" y="202.30" width="2.94" height="12.30" fill="#cecece"/>
<rect x="382.24" y="202.30" width="2.94" height="12.30" fill="#cecece"/>
<rect x="385.73" y="202.30" width="2.94" height="12.30" fill="#cecece"/>
<rect x="47.20" y="215.80" width="2.94" height="12.30" fill="#cecece"/>
<rect x="50.69" y="215.80" width="2.94" height="12.30" fill="#cecece"/>
<rect x="54.18" y="215.80" width="2.94" height="12.30" fill="#cecece"/>
<rect x="57.67" y="215.80" width="2.94" height="12.30" fill="#cecece"/>
<rect x="61.16" y="215.80" width="2.94" height="12.30" fill="#cecece"/>
<rect x="64.65" y="215.80" width="2.94" height="12.30" fill="#cecece"/>
<rect x="68.14" y="215.80" width="2.94" height="12.30" fill="#cecece"/>
<rect x="71.63" y="215.80" width="2.94" height="12.30" fill="#37a348"/>
<rect x="75.12" y="215.80" width="2.94" height="12.30" fill="#cecece"/>
<rect x="78.61" y="215.80" width="2.94" height="12.30" fill="#37a348"/>
<rect x="82.10" y="215.80" width="2.94" height="12.30" fill="#cecece"/>
<rect x="85.59" y="215.80" width="2.94" height="12.30" fill="#37a348"/>
<rect x="89.08" y="215.80" width="2.94" height="12.30" fill="#cecece"/>
<rect x="92.57" y="215.80" width="2.94" height="12.30" fill="#37a348"/>
<rect x="96.06" y="215.80" width="2.94" height="12.30" fill="#cecece"/>
<rect x="99.55" y="215.80" width="2.94" height="12.30" fill="#37a348"/>
<rect x="103.04" y="215.80" width="2.94" height="12.30" fill="#cecece"/>
<rect x="106.53" y="215.80" width="2.94" height="12.30" fill="#cecece"/>
<rect x="110.02" y="215.80" width="2.94" height="12.30" fill="#cecece"/>
<rect x="113.51" y="215.80" width="2.94" height="12.30" fill="#cecece"/>
<rect x="117.00" y="215.80" width="2.94" height="12.30" fill="#cecece"/>
<rect x="120.49" y="215.80" width="2.94" height="12.30" fill="#cecece"/>
<rect x="123.98" y="215.80" width="2.94" height="12.30" fill="#cecece"/>
<rect x="127.47" y="215.80" width="2.94" height="12.30" fill="#cecece"/>
<rect x="130.96" y="215.80" width="2.94" height="12.30" fill="#cecece"/>
<rect x="134.45" y="215.80" width="2.94" height="12.30" fill="#cecece"/>
<rect x="137.94" y="215.80" width="2.94" height="12.30" fill="#cecece"/>
<rect x="141.43" y="215.80" width="2.94" height="12.30" fill="#cecece"/>
<rect x="144.92" y="215.80" width="2.94" height="12.30" fill="#cecece"/>
<rect x="148.41" y="215.80" width="2.94" height="12.30" fill="#cecece"/>
<rect x="151.90" y="215.80" width="2.94" height="12.30" fill="#cecece"/>
<rect x="155.39" y="215.80" width="2.94" height="12.30" fill="#cecece"/>
<rect x="158.88" y="215.80" width="2.94" height="12.30" fill="#37a348"/>
<rect x="162.37" y="215.80" width="2.94" height="12.30" fill="#cecece"/>
<rect x="165.86" y="215.80" width="2.94" height="12.30" fill="#cecece"/>
<rect x="169.35" y="215.80" width="2.94" height="12.30" fill="#cecece"/>
<rect x="172.84" y="215.80" width="2.94" height="12.30" fill="#cecece"/>
<rect x="176.33" y="215.80" width="2.94" height="12.30" fill="#cecece"/>
<rect x="179.82" y="215.80" width="2.94" height="12.30" fill="#cecece"/>
<rect x="183.31" y="215.80" width="2.94" height="12.30" fill="#cecece"/>
<rect x="186.80" y="215.80" width="2.94" height="12.30" fill="#cecece"/>
<rect x="190.29" y="215.80" width="2.94" height="12.30" fill="#cecece"/>
<rect x="193.78" y="215.80" width="2.94" height="12.30" fill="#cecece"/>
<rect x="197.27" y="215.80" width="2.94" height="12.30" fill="#cecece"/>
<rect x="200.76" y="215.80" width="2.94" height="12.30" fill="#cecece"/>
<rect x="204.25" y="215.80" width="2.94" height="12.30" fill="#cecece"/>
<rect x="207.74" y="215.80" width="2.94" height="12.30" fill="#cecece"/>
<rect x="211.23" y="215.80" width="2.94" height="12.30" fill="#cecece"/>
<rect x="214.72" y="215.80" width="2.94" height="12.30" fill="#37a348"/>
<rect x="218.21" y="215.80" width="2.94" height="12.30" fill="#37a348"/>
<rect x="221.70" y="215.80" width="2.94" height="12.30" fill="#cecece"/>
<rect x="225.19" y="215.80" width="2.94" height="12.30" fill="#cecece"/>
<rect x="228.68" y="215.80" width="2.94" height="12.30" fill="#cecece"/>
<rect x="232.17" y="215.80" width="2.94" height="12.30" fill="#cecece"/>
<rect x="235.66" y="215.80" width="2.94" height="12.30" fill="#cecece"/>
<rect x="239.15" y="215.80" width="2.94" height="12.30" fill="#cecece"/>
<rect x="242.64" y="215.80" width="2.94" height="12.30" fill="#cecece"/>
<rect x="246.13" y="215.80" width="2.94" height="12.30" fill="#cecece"/>
<rect x="249.62" y="215.80" width="2.94" height="12.30" fill="#cecece"/>
<rect x="253.11" y="215.80" width="2.94" height="12.30" fill="#cecece"/>
<rect x="256.60" y="215.80" width="2.94" height="12.30" fill="#cecece"/>
<rect x="260.09" y="215.80" width="2.94" height="12.30" fill="#cecece"/>
<rect x="263.58" y="215.80" width="2.94" height="12.30" fill="#cecece"/>
<rect x="267.07" y="215.80" width="2.94" height="12.30" fill="#cecece"/>
<rect x="270.56" y="215.80" width="2.94" height="12.30" fill="#cecece"/>
<rect x="274.05" y="215.80" width="2.94" height="12.30" fill="#cecece"/>
<rect x="277.54" y="215.80" width="2.94" height="12.30" fill="#cecece"/>
<rect x="281.03" y="215.80" width="2.94" height="12.30" fill="#37a348"/>
<rect x="284.52" y="215.80" width="2.94" height="12.30" fill="#cecece"/>
<rect x="288.01" y="215.80" width="2.94" height="12.30" fill="#cecece"/>
<rect x="291.50" y="215.80" width="2.94" height="12.30" fill="#cecece"/>
<rect x="294.99" y="215.80" width="2.94" height="12.30" fill="#cecece"/>
<rect x="298.48" y="215.80" width="2.94" height="12.30" fill="#cecece"/>
<rect x="301.97" y="215.80" width="2.94" height="12.30" fill="#cecece"/>
<rect x="305.46" y="215.80" width="2.94" height="12.30" fill="#cecece"/>
<rect x="308.95" y="215.80" width="2.94" height="12.30" fill="#cecece"/>
<rect x="312.44" y="215.80" width="2.94" height="12.30" fill="#37a348"/>
<rect x="315.93" y="215.80" width="2.94" height="12.30" fill="#cecece"/>
<rect x="319.42" y="215.80" width="2.94" height="12.30" fill="#cecece"/>
<rect x="322.91" y="215.80" width="2.94" height="12.30" fill="#cecece"/>
<rect x="326.40" y="215.80" width="2.94" height="12.30" fill="#cecece"/>
<rect x="329.89" y="215.80" width="2.94" height="12.30" fill="#cecece"/>
<rect x="333.38" y="215.80" width="2.94" height="12.30" fill="#cecece"/>
<rect x="336.87" y="215.80" width="2.94" height="12.30" fill="#cecece"/>
<rect x="340.36" y="215.80" width="2.94" height="12.30" fill="#cecece"/>
<rect x="343.85" y="215.80" width="2.94" height="12.30" fill="#cecece"/>
<rect x="347.34" y="215.80" width="2.94" height="12.30" fill="#cecece"/>
<rect x="350.83" y="215.80" width="2.94" height="12.30" fill="#cecece"/>
<rect x="354.32" y="215.80" width="2.94" height="12.30" fill="#cecece"/>
<rect x="357.81" y="215.80" width="2.94" height="12.30" fill="#cecece"/>
<rect x="361.30" y="215.80" width="2.94" height="12.30" fill="#cecece"/>
<rect x="364.79" y="215.80" width="2.94" height="12.30" fill="#cecece"/>
<rect x="368.28" y="215.80" width="2.94" height="12.30" fill="#cecece"/>
<rect x="371.77" y="215.80" width="2.94" height="12.30" fill="#cecece"/>
<rect x="375.26" y="215.80" width="2.94" height="12.30" fill="#cecece"/>
<rect x="378.75" y="215.80" width="2.94" height="12.30" fill="#cecece"/>
<rect x="382.24" y="215.80" width="2.94" height="12.30" fill="#cecece"/>
<rect x="385.73" y="215.80" width="2.94" height="12.30" fill="#cecece"/>
<rect x="47.20" y="229.30" width="2.94" height="12.30" fill="#cecece"/>
<rect x="50.69" y="229.30" width="2.94" height="12.30" fill="#cecece"/>
<rect x="54.18" y="229.30" width="2.94" height="12.30" fill="#cecece"/>
<rect x="57.67" y="229.30" width="2.94" height="12.30" fill="#cecece"/>
<rect x="61.16" y="229.30" width="2.94" height="12.30" fill="#cecece"/>
<rect x="64.65" y="229.30" width="2.94" height="12.30" fill="#cecece"/>
<rect x="68.14" y="229.30" width="2.94" height="12.30" fill="#cecece"/>
<rect x="71.63" y="229.30" width="2.94" height="12.30" fill="#cecece"/>
<rect x="75.12" y="229.30" width="2.94" height="12.30" fill="#cecece"/>
<rect x="78.61" y="229.30" width="2.94" height="12.30" fill="#cecece"/>
<rect x="82.10" y="229.30" width="2.94" height="12.30" fill="#cecece"/>
<rect x="85.59" y="229.30" width="2.94" height="12.30" fill="#cecece"/>
<rect x="89.08" y="229.30" width="2.94" height="12.30" fill="#e3262b"/>
<rect x="92.57" y="229.30" width="2.94" height="12.30" fill="#cecece"/>
<rect x="96.06" y="229.30" width="2.94" height="12.30" fill="#cecece"/>
<rect x="99.55" y="229.30" width="2.94" height="12.30" fill="#cecece"/>
<rect x="103.04" y="229.30" width="2.94" height="12.30" fill="#cecece"/>
<rect x="106.53" y="229.30" width="2.94" height="12.30" fill="#cecece"/>
<rect x="110.02" y="229.30" width="2.94" height="12.30" fill="#cecece"/>
<rect x="113.51" y="229.30" width="2.94" height="12.30" fill="#cecece"/>
<rect x="117.00" y="229.30" width="2.94" height="12.30" fill="#cecece"/>
<rect x="120.49" y="229.30" width="2.94" height="12.30" fill="#cecece"/>
<rect x="123.98" y="229.30" width="2.94" height="12.30" fill="#cecece"/>
<rect x="127.47" y="229.30" width="2.94" height="12.30" fill="#cecece"/>
<rect x="130.96" y="229.30" width="2.94" height="12.30" fill="#cecece"/>
<rect x="134.45" y="229.30" width="2.94" height="12.30" fill="#cecece"/>
<rect x="137.94" y="229.30" width="2.94" height="12.30" fill="#cecece"/>
<rect x="141.43" y="229.30" width="2.94" height="12.30" fill="#cecece"/>
<rect x="144.92" y="229.30" width="2.94" height="12.30" fill="#cecece"/>
<rect x="148.41" y="229.30" width="2.94" height="12.30" fill="#cecece"/>
<rect x="151.90" y="229.30" width="2.94" height="12.30" fill="#cecece"/>
<rect x="155.39" y="229.30" width="2.94" height="12.30" fill="#cecece"/>
<rect x="158.88" y="229.30" width="2.94" height="12.30" fill="#cecece"/>
<rect x="162.37" y="229.30" width="2.94" height="12.30" fill="#cecece"/>
<rect x="165.86" y="229.30" width="2.94" height="12.30" fill="#cecece"/>
<rect x="169.35" y="229.30" width="2.94" height="12.30" fill="#cecece"/>
<rect x="172.84" y="229.30" width="2.94" height="12.30" fill="#cecece"/>
<rect x="176.33" y="229.30" width="2.94" height="12.30" fill="#cecece"/>
<rect x="179.82" y="229.30" width="2.94" height="12.30" fill="#cecece"/>
<rect x="183.31" y="229.30" width="2.94" height="12.30" fill="#cecece"/>
<rect x="186.80" y="229.30" width="2.94" height="12.30" fill="#cecece"/>
<rect x="190.29" y="229.30" width="2.94" height="12.30" fill="#cecece"/>
<rect x="193.78" y="229.30" width="2.94" height="12.30" fill="#cecece"/>
<rect x="197.27" y="229.30" width="2.94" height="12.30" fill="#cecece"/>
<rect x="200.76" y="229.30" width="2.94" height="12.30" fill="#cecece"/>
<rect x="204.25" y="229.30" width="2.94" height="12.30" fill="#cecece"/>
<rect x="207.74" y="229.30" width="2.94" height="12.30" fill="#cecece"/>
<rect x="211.23" y="229.30" width="2.94" height="12.30" fill="#cecece"/>
<rect x="214.72" y="229.30" width="2.94" height="12.30" fill="#cecece"/>
<rect x="218.21" y="229.30" width="2.94" height="12.30" fill="#cecece"/>
<rect x="221.70" y="229.30" width="2.94" height="12.30" fill="#f58a2c"/>
<rect x="225.19" y="229.30" width="2.94" height="12.30" fill="#cecece"/>
<rect x="228.68" y="229.30" width="2.94" height="12.30" fill="#cecece"/>
<rect x="232.17" y="229.30" width="2.94" height="12.30" fill="#cecece"/>
<rect x="235.66" y="229.30" width="2.94" height="12.30" fill="#cecece"/>
<rect x="239.15" y="229.30" width="2.94" height="12.30" fill="#cecece"/>
<rect x="242.64" y="229.30" width="2.94" height="12.30" fill="#cecece"/>
<rect x="246.13" y="229.30" width="2.94" height="12.30" fill="#cecece"/>
<rect x="249.62" y="229.30" width="2.94" height="12.30" fill="#cecece"/>
<rect x="253.11" y="229.30" width="2.94" height="12.30" fill="#cecece"/>
<rect x="256.60" y="229.30" width="2.94" height="12.30" fill="#cecece"/>
<rect x="260.09" y="229.30" width="2.94" height="12.30" fill="#cecece"/>
<rect x="263.58" y="229.30" width="2.94" height="12.30" fill="#cecece"/>
<rect x="267.07" y="229.30" width="2.94" height="12.30" fill="#cecece"/>
<rect x="270.56" y="229.30" width="2.94" height="12.30" fill="#cecece"/>
<rect x="274.05" y="229.30" width="2.94" height="12.30" fill="#cecece"/>
<rect x="277.54" y="229.30" width="2.94" height="12.30" fill="#cecece"/>
<rect x="281.03" y="229.30" width="2.94" height="12.30" fill="#7f9c3e"/>
<rect x="284.52" y="229.30" width="2.94" height="12.30" fill="#7f9c3e"/>
<rect x="288.01" y="229.30" width="2.94" height="12.30" fill="#cecece"/>
<rect x="291.50" y="229.30" width="2.94" height="12.30" fill="#cecece"/>
<rect x="294.99" y="229.30" width="2.94" height="12.30" fill="#cecece"/>
<rect x="298.48" y="229.30" width="2.94" height="12.30" fill="#1c1c1c"/>
<rect x="301.97" y="229.30" width="2.94" height="12.30" fill="#cecece"/>
<rect x="305.46" y="229.30" width="2.94" height="12.30" fill="#cecece"/>
<rect x="308.95" y="229.30" width="2.94" height="12.30" fill="#cecece"/>
<rect x="312.44" y="229.30" width="2.94" height="12.30" fill="#37a348"/>
<rect x="315.93" y="229.30" width="2.94" height="12.30" fill="#cecece"/>
<rect x="319.42" y="229.30" width="2.94" height="12.30" fill="#cecece"/>
<rect x="322.91" y="229.30" width="2.94" height="12.30" fill="#cecece"/>
<rect x="326.40" y="229.30" width="2.94" height="12.30" fill="#cecece"/>
<rect x="329.89" y="229.30" width="2.94" height="12.30" fill="#cecece"/>
<rect x="333.38" y="229.30" width="2.94" height="12.30" fill="#cecece"/>
<rect x="336.87" y="229.30" width="2.94" height="12.30" fill="#cecece"/>
<rect x="340.36" y="229.30" width="2.94" height="12.30" fill="#cecece"/>
<rect x="343.85" y="229.30" width="2.94" height="12.30" fill="#cecece"/>
<rect x="347.34" y="229.30" width="2.94" height="12.30" fill="#cecece"/>
<rect x="350.83" y="229.30" width="2.94" height="12.30" fill="#cecece"/>
<rect x="354.32" y="229.30" width="2.94" height="12.30" fill="#cecece"/>
<rect x="357.81" y="229.30" width="2.94" height="12.30" fill="#cecece"/>
<rect x="361.30" y="229.30" width="2.94" height="12.30" fill="#cecece"/>
<rect x="364.79" y="229.30" width="2.94" height="12.30" fill="#cecece"/>
<rect x="368.28" y="229.30" width="2.94" height="12.30" fill="#e3262b"/>
<rect x="371.77" y="229.30" width="2.94" height="12.30" fill="#cecece"/>
<rect x="375.26" y="229.30" width="2.94" height="12.30" fill="#cecece"/>
<rect x="378.75" y="229.30" width="2.94" height="12.30" fill="#cecece"/>
<rect x="382.24" y="229.30" width="2.94" height="12.30" fill="#cecece"/>
<rect x="385.73" y="229.30" width="2.94" height="12.30" fill="#cecece"/>
<rect x="47.20" y="242.80" width="2.94" height="12.30" fill="#cecece"/>
<rect x="50.69" y="242.80" width="2.94" height="12.30" fill="#cecece"/>
<rect x="54.18" y="242.80" width="2.94" height="12.30" fill="#cecece"/>
<rect x="57.67" y="242.80" width="2.94" height="12.30" fill="#cecece"/>
<rect x="61.16" y="242.80" width="2.94" height="12.30" fill="#cecece"/>
<rect x="64.65" y="242.80" width="2.94" height="12.30" fill="#cecece"/>
<rect x="68.14" y="242.80" width="2.94" height="12.30" fill="#cecece"/>
<rect x="71.63" y="242.80" width="2.94" height="12.30" fill="#cecece"/>
<rect x="75.12" y="242.80" width="2.94" height="12.30" fill="#cecece"/>
<rect x="78.61" y="242.80" width="2.94" height="12.30" fill="#cecece"/>
<rect x="82.10" y="242.80" width="2.94" height="12.30" fill="#cecece"/>
<rect x="85.59" y="242.80" width="2.94" height="12.30" fill="#cecece"/>
<rect x="89.08" y="242.80" width="2.94" height="12.30" fill="#cecece"/>
<rect x="92.57" y="242.80" width="2.94" height="12.30" fill="#cecece"/>
<rect x="96.06" y="242.80" width="2.94" height="12.30" fill="#cecece"/>
<rect x="99.55" y="242.80" width="2.94" height="12.30" fill="#cecece"/>
<rect x="103.04" y="242.80" width="2.94" height="12.30" fill="#37a348"/>
<rect x="106.53" y="242.80" width="2.94" height="12.30" fill="#cecece"/>
<rect x="110.02" y="242.80" width="2.94" height="12.30" fill="#cecece"/>
<rect x="113.51" y="242.80" width="2.94" height="12.30" fill="#cecece"/>
<rect x="117.00" y="242.80" width="2.94" height="12.30" fill="#cecece"/>
<rect x="120.49" y="242.80" width="2.94" height="12.30" fill="#cecece"/>
<rect x="123.98" y="242.80" width="2.94" height="12.30" fill="#cecece"/>
<rect x="127.47" y="242.80" width="2.94" height="12.30" fill="#cecece"/>
<rect x="130.96" y="242.80" width="2.94" height="12.30" fill="#cecece"/>
<rect x="134.45" y="242.80" width="2.94" height="12.30" fill="#cecece"/>
<rect x="137.94" y="242.80" width="2.94" height="12.30" fill="#cecece"/>
<rect x="141.43" y="242.80" width="2.94" height="12.30" fill="#37a348"/>
<rect x="144.92" y="242.80" width="2.94" height="12.30" fill="#cecece"/>
<rect x="148.41" y="242.80" width="2.94" height="12.30" fill="#cecece"/>
<rect x="151.90" y="242.80" width="2.94" height="12.30" fill="#cecece"/>
<rect x="155.39" y="242.80" width="2.94" height="12.30" fill="#cecece"/>
<rect x="158.88" y="242.80" width="2.94" height="12.30" fill="#cecece"/>
<rect x="162.37" y="242.80" width="2.94" height="12.30" fill="#cecece"/>
<rect x="165.86" y="242.80" width="2.94" height="12.30" fill="#cecece"/>
<rect x="169.35" y="242.80" width="2.94" height="12.30" fill="#cecece"/>
<rect x="172.84" y="242.80" width="2.94" height="12.30" fill="#cecece"/>
<rect x="176.33" y="242.80" width="2.94" height="12.30" fill="#cecece"/>
<rect x="179.82" y="242.80" width="2.94" height="12.30" fill="#cecece"/>
<rect x="183.31" y="242.80" width="2.94" height="12.30" fill="#cecece"/>
<rect x="186.80" y="242.80" width="2.94" height="12.30" fill="#cecece"/>
<rect x="190.29" y="242.80" width="2.94" height="12.30" fill="#cecece"/>
<rect x="193.78" y="242.80" width="2.94" height="12.30" fill="#cecece"/>
<rect x="197.27" y="242.80" width="2.94" height="12.30" fill="#cecece"/>
<rect x="200.76" y="242.80" width="2.94" height="12.30" fill="#cecece"/>
<rect x="204.25" y="242.80" width="2.94" height="12.30" fill="#cecece"/>
<rect x="207.74" y="242.80" width="2.94" height="12.30" fill="#37a348"/>
<rect x="211.23" y="242.80" width="2.94" height="12.30" fill="#37a348"/>
<rect x="214.72" y="242.80" width="2.94" height="12.30" fill="#cecece"/>
<rect x="218.21" y="242.80" width="2.94" height="12.30" fill="#cecece"/>
<rect x="221.70" y="242.80" width="2.94" height="12.30" fill="#cecece"/>
<rect x="225.19" y="242.80" width="2.94" height="12.30" fill="#37a348"/>
<rect x="228.68" y="242.80" width="2.94" height="12.30" fill="#cecece"/>
<rect x="232.17" y="242.80" width="2.94" height="12.30" fill="#cecece"/>
<rect x="235.66" y="242.80" width="2.94" height="12.30" fill="#cecece"/>
<rect x="239.15" y="242.80" width="2.94" height="12.30" fill="#cecece"/>
<rect x="242.64" y="242.80" width="2.94" height="12.30" fill="#cecece"/>
<rect x="246.13" y="242.80" width="2.94" height="12.30" fill="#cecece"/>
<rect x="249.62" y="242.80" width="2.94" height="12.30" fill="#cecece"/>
<rect x="253.11" y="242.80" width="2.94" height="12.30" fill="#cecece"/>
<rect x="256.60" y="242.80" width="2.94" height="12.30" fill="#cecece"/>
<rect x="260.09" y="242.80" width="2.94" height="12.30" fill="#cecece"/>
<rect x="263.58" y="242.80" width="2.94" height="12.30" fill="#cecece"/>
<rect x="267.07" y="242.80" width="2.94" height="12.30" fill="#cecece"/>
<rect x="270.56" y="242.80" width="2.94" height="12.30" fill="#cecece"/>
<rect x="274.05" y="242.80" width="2.94" height="12.30" fill="#cecece"/>
<rect x="277.54" y="242.80" width="2.94" height="12.30" fill="#cecece"/>
<rect x="281.03" y="242.80" width="2.94" height="12.30" fill="#cecece"/>
<rect x="284.52" y="242.80" width="2.94" height="12.30" fill="#cecece"/>
<rect x="288.01" y="242.80" width="2.94" height="12.30" fill="#cecece"/>
<rect x="291.50" y="242.80" width="2.94" height="12.30" fill="#cecece"/>
<rect x="294.99" y="242.80" width="2.94" height="12.30" fill="#cecece"/>
<rect x="298.48" y="242.80" width="2.94" height="12.30" fill="#cecece"/>
<rect x="301.97" y="242.80" width="2.94" height="12.30" fill="#cecece"/>
<rect x="305.46" y="242.80" width="2.94" height="12.30" fill="#cecece"/>
<rect x="308.95" y="242.80" width="2.94" height="12.30" fill="#cecece"/>
<rect x="312.44" y="242.80" width="2.94" height="12.30" fill="#cecece"/>
<rect x="315.93" y="242.80" width="2.94" height="12.30" fill="#cecece"/>
<rect x="319.42" y="242.80" width="2.94" height="12.30" fill="#cecece"/>
<rect x="322.91" y="242.80" width="2.94" height="12.30" fill="#cecece"/>
<rect x="326.40" y="242.80" width="2.94" height="12.30" fill="#cecece"/>
<rect x="329.89" y="242.80" width="2.94" height="12.30" fill="#cecece"/>
<rect x="333.38" y="242.80" width="2.94" height="12.30" fill="#cecece"/>
<rect x="336.87" y="242.80" width="2.94" height="12.30" fill="#cecece"/>
<rect x="340.36" y="242.80" width="2.94" height="12.30" fill="#cecece"/>
<rect x="343.85" y="242.80" width="2.94" height="12.30" fill="#cecece"/>
<rect x="347.34" y="242.80" width="2.94" height="12.30" fill="#cecece"/>
<rect x="350.83" y="242.80" width="2.94" height="12.30" fill="#cecece"/>
<rect x="354.32" y="242.80" width="2.94" height="12.30" fill="#cecece"/>
<rect x="357.81" y="242.80" width="2.94" height="12.30" fill="#cecece"/>
<rect x="361.30" y="242.80" width="2.94" height="12.30" fill="#cecece"/>
<rect x="364.79" y="242.80" width="2.94" height="12.30" fill="#cecece"/>
<rect x="368.28" y="242.80" width="2.94" height="12.30" fill="#cecece"/>
<rect x="371.77" y="242.80" width="2.94" height="12.30" fill="#37a348"/>
<rect x="375.26" y="242.80" width="2.94" height="12.30" fill="#37a348"/>
<rect x="378.75" y="242.80" width="2.94" height="12.30" fill="#cecece"/>
<rect x="382.24" y="242.80" width="2.94" height="12.30" fill="#cecece"/>
<rect x="385.73" y="242.80" width="2.94" height="12.30" fill="#cecece"/>
<rect x="47.20" y="256.30" width="2.94" height="12.30" fill="#cecece"/>
<rect x="50.69" y="256.30" width="2.94" height="12.30" fill="#cecece"/>
<rect x="54.18" y="256.30" width="2.94" height="12.30" fill="#cecece"/>
<rect x="57.67" y="256.30" width="2.94" height="12.30" fill="#cecece"/>
<rect x="61.16" y="256.30" width="2.94" height="12.30" fill="#cecece"/>
<rect x="64.65" y="256.30" width="2.94" height="12.30" fill="#cecece"/>
<rect x="68.14" y="256.30" width="2.94" height="12.30" fill="#cecece"/>
<rect x="71.63" y="256.30" width="2.94" height="12.30" fill="#cecece"/>
<rect x="75.12" y="256.30" width="2.94" height="12.30" fill="#37a348"/>
<rect x="78.61" y="256.30" width="2.94" height="12.30" fill="#37a348"/>
<rect x="82.10" y="256.30" width="2.94" height="12.30" fill="#cecece"/>
<rect x="85.59" y="256.30" width="2.94" height="12.30" fill="#cecece"/>
<rect x="89.08" y="256.30" width="2.94" height="12.30" fill="#cecece"/>
<rect x="92.57" y="256.30" width="2.94" height="12.30" fill="#cecece"/>
<rect x="96.06" y="256.30" width="2.94" height="12.30" fill="#cecece"/>
<rect x="99.55" y="256.30" width="2.94" height="12.30" fill="#cecece"/>
<rect x="103.04" y="256.30" width="2.94" height="12.30" fill="#cecece"/>
<rect x="106.53" y="256.30" width="2.94" height="12.30" fill="#cecece"/>
<rect x="110.02" y="256.30" width="2.94" height="12.30" fill="#cecece"/>
<rect x="113.51" y="256.30" width="2.94" height="12.30" fill="#cecece"/>
<rect x="117.00" y="256.30" width="2.94" height="12.30" fill="#cecece"/>
<rect x="120.49" y="256.30" width="2.94" height="12.30" fill="#cecece"/>
<rect x="123.98" y="256.30" width="2.94" height="12.30" fill="#cecece"/>
<rect x="127.47" y="256.30" width="2.94" height="12.30" fill="#cecece"/>
<rect x="130.96" y="256.30" width="2.94" height="12.30" fill="#cecece"/>
<rect x="134.45" y="256.30" width="2.94" height="12.30" fill="#cecece"/>
<rect x="137.94" y="256.30" width="2.94" height="12.30" fill="#cecece"/>
<rect x="141.43" y="256.30" width="2.94" height="12.30" fill="#cecece"/>
<rect x="144.92" y="256.30" width="2.94" height="12.30" fill="#cecece"/>
<rect x="148.41" y="256.30" width="2.94" height="12.30" fill="#cecece"/>
<rect x="151.90" y="256.30" width="2.94" height="12.30" fill="#cecece"/>
<rect x="155.39" y="256.30" width="2.94" height="12.30" fill="#cecece"/>
<rect x="158.88" y="256.30" width="2.94" height="12.30" fill="#37a348"/>
<rect x="162.37" y="256.30" width="2.94" height="12.30" fill="#cecece"/>
<rect x="165.86" y="256.30" width="2.94" height="12.30" fill="#cecece"/>
<rect x="169.35" y="256.30" width="2.94" height="12.30" fill="#cecece"/>
<rect x="172.84" y="256.30" width="2.94" height="12.30" fill="#cecece"/>
<rect x="176.33" y="256.30" width="2.94" height="12.30" fill="#cecece"/>
<rect x="179.82" y="256.30" width="2.94" height="12.30" fill="#cecece"/>
<rect x="183.31" y="256.30" width="2.94" height="12.30" fill="#cecece"/>
<rect x="186.80" y="256.30" width="2.94" height="12.30" fill="#37a348"/>
<rect x="190.29" y="256.30" width="2.94" height="12.30" fill="#cecece"/>
<rect x="193.78" y="256.30" width="2.94" height="12.30" fill="#cecece"/>
<rect x="197.27" y="256.30" width="2.94" height="12.30" fill="#cecece"/>
<rect x="200.76" y="256.30" width="2.94" height="12.30" fill="#cecece"/>
<rect x="204.25" y="256.30" width="2.94" height="12.30" fill="#cecece"/>
<rect x="207.74" y="256.30" width="2.94" height="12.30" fill="#cecece"/>
<rect x="211.23" y="256.30" width="2.94" height="12.30" fill="#cecece"/>
<rect x="214.72" y="256.30" width="2.94" height="12.30" fill="#cecece"/>
<rect x="218.21" y="256.30" width="2.94" height="12.30" fill="#cecece"/>
<rect x="221.70" y="256.30" width="2.94" height="12.30" fill="#cecece"/>
<rect x="225.19" y="256.30" width="2.94" height="12.30" fill="#cecece"/>
<rect x="228.68" y="256.30" width="2.94" height="12.30" fill="#cecece"/>
<rect x="232.17" y="256.30" width="2.94" height="12.30" fill="#cecece"/>
<rect x="235.66" y="256.30" width="2.94" height="12.30" fill="#cecece"/>
<rect x="239.15" y="256.30" width="2.94" height="12.30" fill="#cecece"/>
<rect x="242.64" y="256.30" width="2.94" height="12.30" fill="#cecece"/>
<rect x="246.13" y="256.30" width="2.94" height="12.30" fill="#cecece"/>
<rect x="249.62" y="256.30" width="2.94" height="12.30" fill="#cecece"/>
<rect x="253.11" y="256.30" width="2.94" height="12.30" fill="#cecece"/>
<rect x="256.60" y="256.30" width="2.94" height="12.30" fill="#cecece"/>
<rect x="260.09" y="256.30" width="2.94" height="12.30" fill="#cecece"/>
<rect x="263.58" y="256.30" width="2.94" height="12.30" fill="#cecece"/>
<rect x="267.07" y="256.30" width="2.94" height="12.30" fill="#cecece"/>
<rect x="270.56" y="256.30" width="2.94" height="12.30" fill="#cecece"/>
<rect x="274.05" y="256.30" width="2.94" height="12.30" fill="#cecece"/>
<rect x="277.54" y="256.30" width="2.94" height="12.30" fill="#cecece"/>
<rect x="281.03" y="256.30" width="2.94" height="12.30" fill="#cecece"/>
<rect x="284.52" y="256.30" width="2.94" height="12.30" fill="#cecece"/>
<rect x="288.01" y="256.30" width="2.94" height="12.30" fill="#cecece"/>
<rect x="291.50" y="256.30" width="2.94" height="12.30" fill="#cecece"/>
<rect x="294.99" y="256.30" width="2.94" height="12.30" fill="#cecece"/>
<rect x="298.48" y="256.30" width="2.94" height="12.30" fill="#cecece"/>
<rect x="301.97" y="256.30" width="2.94" height="12.30" fill="#cecece"/>
<rect x="305.46" y="256.30" width="2.94" height="12.30" fill="#cecece"/>
<rect x="308.95" y="256.30" width="2.94" height="12.30" fill="#cecece"/>
<rect x="312.44" y="256.30" width="2.94" height="12.30" fill="#cecece"/>
<rect x="315.93" y="256.30" width="2.94" height="12.30" fill="#cecece"/>
<rect x="319.42" y="256.30" width="2.94" height="12.30" fill="#cecece"/>
<rect x="322.91" y="256.30" width="2.94" height="12.30" fill="#cecece"/>
<rect x="326.40" y="256.30" width="2.94" height="12.30" fill="#cecece"/>
<rect x="329.89" y="256.30" width="2.94" height="12.30" fill="#cecece"/>
<rect x="333.38" y="256.30" width="2.94" height="12.30" fill="#cecece"/>
<rect x="336.87" y="256.30" width="2.94" height="12.30" fill="#cecece"/>
<rect x="340.36" y="256.30" width="2.94" height="12.30" fill="#cecece"/>
<rect x="343.85" y="256.30" width="2.94" height="12.30" fill="#37a348"/>
<rect x="347.34" y="256.30" width="2.94" height="12.30" fill="#cecece"/>
<rect x="350.83" y="256.30" width="2.94" height="12.30" fill="#cecece"/>
<rect x="354.32" y="256.30" width="2.94" height="12.30" fill="#cecece"/>
<rect x="357.81" y="256.30" width="2.94" height="12.30" fill="#cecece"/>
<rect x="361.30" y="256.30" width="2.94" height="12.30" fill="#cecece"/>
<rect x="364.79" y="256.30" width="2.94" height="12.30" fill="#cecece"/>
<rect x="368.28" y="256.30" width="2.94" height="12.30" fill="#cecece"/>
<rect x="371.77" y="256.30" width="2.94" height="12.30" fill="#cecece"/>
<rect x="375.26" y="256.30" width="2.94" height="12.30" fill="#cecece"/>
<rect x="378.75" y="256.30" width="2.94" height="12.30" fill="#cecece"/>
<rect x="382.24" y="256.30" width="2.94" height="12.30" fill="#cecece"/>
<rect x="385.73" y="256.30" width="2.94" height="12.30" fill="#37a348"/>
<rect x="47.20" y="269.80" width="2.94" height="12.30" fill="#f58a2c"/>
<rect x="50.69" y="269.80" width="2.94" height="12.30" fill="#cecece"/>
<rect x="54.18" y="269.80" width="2.94" height="12.30" fill="#cecece"/>
<rect x="57.67" y="269.80" width="2.94" height="12.30" fill="#1c1c1c"/>
<rect x="61.16" y="269.80" width="2.94" height="12.30" fill="#cecece"/>
<rect x="64.65" y="269.80" width="2.94" height="12.30" fill="#cecece"/>
<rect x="68.14" y="269.80" width="2.94" height="12.30" fill="#cecece"/>
<rect x="71.63" y="269.80" width="2.94" height="12.30" fill="#cecece"/>
<rect x="75.12" y="269.80" width="2.94" height="12.30" fill="#cecece"/>
<rect x="78.61" y="269.80" width="2.94" height="12.30" fill="#cecece"/>
<rect x="82.10" y="269.80" width="2.94" height="12.30" fill="#e3262b"/>
<rect x="85.59" y="269.80" width="2.94" height="12.30" fill="#cecece"/>
<rect x="89.08" y="269.80" width="2.94" height="12.30" fill="#cecece"/>
<rect x="92.57" y="269.80" width="2.94" height="12.30" fill="#cecece"/>
<rect x="96.06" y="269.80" width="2.94" height="12.30" fill="#cecece"/>
<rect x="99.55" y="269.80" width="2.94" height="12.30" fill="#cecece"/>
<rect x="103.04" y="269.80" width="2.94" height="12.30" fill="#cecece"/>
<rect x="106.53" y="269.80" width="2.94" height="12.30" fill="#1c1c1c"/>
<rect x="110.02" y="269.80" width="2.94" height="12.30" fill="#cecece"/>
<rect x="113.51" y="269.80" width="2.94" height="12.30" fill="#cecece"/>
<rect x="117.00" y="269.80" width="2.94" height="12.30" fill="#cecece"/>
<rect x="120.49" y="269.80" width="2.94" height="12.30" fill="#cecece"/>
<rect x="123.98" y="269.80" width="2.94" height="12.30" fill="#cecece"/>
<rect x="127.47" y="269.80" width="2.94" height="12.30" fill="#cecece"/>
<rect x="130.96" y="269.80" width="2.94" height="12.30" fill="#cecece"/>
<rect x="134.45" y="269.80" width="2.94" height="12.30" fill="#cecece"/>
<rect x="137.94" y="269.80" width="2.94" height="12.30" fill="#cecece"/>
<rect x="141.43" y="269.80" width="2.94" height="12.30" fill="#37a348"/>
<rect x="144.92" y="269.80" width="2.94" height="12.30" fill="#cecece"/>
<rect x="148.41" y="269.80" width="2.94" height="12.30" fill="#cecece"/>
<rect x="151.90" y="269.80" width="2.94" height="12.30" fill="#cecece"/>
<rect x="155.39" y="269.80" width="2.94" height="12.30" fill="#cecece"/>
<rect x="158.88" y="269.80" width="2.94" height="12.30" fill="#cecece"/>
<rect x="162.37" y="269.80" width="2.94" height="12.30" fill="#cecece"/>
<rect x="165.86" y="269.80" width="2.94" height="12.30" fill="#cecece"/>
<rect x="169.35" y="269.80" width="2.94" height="12.30" fill="#cecece"/>
<rect x="172.84" y="269.80" width="2.94" height="12.30" fill="#cecece"/>
<rect x="176.33" y="269.80" width="2.94" height="12.30" fill="#cecece"/>
<rect x="179.82" y="269.80" width="2.94" height="12.30" fill="#cecece"/>
<rect x="183.31" y="269.80" width="2.94" height="12.30" fill="#cecece"/>
<rect x="186.80" y="269.80" width="2.94" height="12.30" fill="#cecece"/>
<rect x="190.29" y="269.80" width="2.94" height="12.30" fill="#cecece"/>
<rect x="193.78" y="269.80" width="2.94" height="12.30" fill="#cecece"/>
<rect x="197.27" y="269.80" width="2.94" height="12.30" fill="#cecece"/>
<rect x="200.76" y="269.80" width="2.94" height="12.30" fill="#cecece"/>
<rect x="204.25" y="269.80" width="2.94" height="12.30" fill="#cecece"/>
<rect x="207.74" y="269.80" width="2.94" height="12.30" fill="#cecece"/>
<rect x="211.23" y="269.80" width="2.94" height="12.30" fill="#cecece"/>
<rect x="214.72" y="269.80" width="2.94" height="12.30" fill="#cecece"/>
<rect x="218.21" y="269.80" width="2.94" height="12.30" fill="#cecece"/>
<rect x="221.70" y="269.80" width="2.94" height="12.30" fill="#cecece"/>
<rect x="225.19" y="269.80" width="2.94" height="12.30" fill="#cecece"/>
<rect x="228.68" y="269.80" width="2.94" height="12.30" fill="#cecece"/>
<rect x="232.17" y="269.80" width="2.94" height="12.30" fill="#cecece"/>
<rect x="235.66" y="269.80" width="2.94" height="12.30" fill="#cecece"/>
<rect x="239.15" y="269.80" width="2.94" height="12.30" fill="#cecece"/>
<rect x="242.64" y="269.80" width="2.94" height="12.30" fill="#cecece"/>
<rect x="246.13" y="269.80" width="2.94" height="12.30" fill="#cecece"/>
<rect x="249.62" y="269.80" width="2.94" height="12.30" fill="#cecece"/>
<rect x="253.11" y="269.80" width="2.94" height="12.30" fill="#cecece"/>
<rect x="256.60" y="269.80" width="2.94" height="12.30" fill="#cecece"/>
<rect x="260.09" y="269.80" width="2.94" height="12.30" fill="#cecece"/>
<rect x="263.58" y="269.80" width="2.94" height="12.30" fill="#cecece"/>
<rect x="267.07" y="269.80" width="2.94" height="12.30" fill="#cecece"/>
<rect x="270.56" y="269.80" width="2.94" height="12.30" fill="#cecece"/>
<rect x="274.05" y="269.80" width="2.94" height="12.30" fill="#cecece"/>
<rect x="277.54" y="269.80" width="2.94" height="12.30" fill="#cecece"/>
<rect x="281.03" y="269.80" width="2.94" height="12.30" fill="#cecece"/>
<rect x="284.52" y="269.80" width="2.94" height="12.30" fill="#cecece"/>
<rect x="288.01" y="269.80" width="2.94" height="12.30" fill="#cecece"/>
<rect x="291.50" y="269.80" width="2.94" height="12.30" fill="#cecece"/>
<rect x="294.99" y="269.80" width="2.94" height="12.30" fill="#cecece"/>
<rect x="298.48" y="269.80" width="2.94" height="12.30" fill="#cecece"/>
<rect x="301.97" y="269.80" width="2.94" height="12.30" fill="#cecece"/>
<rect x="305.46" y="269.80" width="2.94" height="12.30" fill="#cecece"/>
<rect x="308.95" y="269.80" width="2.94" height="12.30" fill="#cecece"/>
<rect x="312.44" y="269.80" width="2.94" height="12.30" fill="#cecece"/>
<rect x="315.93" y="269.80" width="2.94" height="12.30" fill="#cecece"/>
<rect x="319.42" y="269.80" width="2.94" height="12.30" fill="#cecece"/>
<rect x="322.91" y="269.80" width="2.94" height="12.30" fill="#cecece"/>
<rect x="326.40" y="269.80" width="2.94" height="12.30" fill="#cecece"/>
<rect x="329.89" y="269.80" width="2.94" height="12.30" fill="#cecece"/>
<rect x="333.38" y="269.80" width="2.94" height="12.30" fill="#cecece"/>
<rect x="336.87" y="269.80" width="2.94" height="12.30" fill="#cecece"/>
<rect x="340.36" y="269.80" width="2.94" height="12.30" fill="#cecece"/>
<rect x="343.85" y="269.80" width="2.94" height="12.30" fill="#cecece"/>
<rect x="347.34" y="269.80" width="2.94" height="12.30" fill="#cecece"/>
<rect x="350.83" y="269.80" width="2.94" height="12.30" fill="#cecece"/>
<rect x="354.32" y="269.80" width="2.94" height="12.30" fill="#cecece"/>
<rect x="357.81" y="269.80" width="2.94" height="12.30" fill="#cecece"/>
<rect x="361.30" y="269.80" width="2.94" height="12.30" fill="#cecece"/>
<rect x="364.79" y="269.80" width="2.94" height="12.30" fill="#f58a2c"/>
<rect x="368.28" y="269.80" width="2.94" height="12.30" fill="#cecece"/>
<rect x="371.77" y="269.80" width="2.94" height="12.30" fill="#cecece"/>
<rect x="375.26" y="269.80" width="2.94" height="12.30" fill="#cecece"/>
<rect x="378.75" y="269.80" width="2.94" height="12.30" fill="#cecece"/>
<rect x="382.24" y="269.80" width="2.94" height="12.30" fill="#cecece"/>
<rect x="385.73" y="269.80" width="2.94" height="12.30" fill="#cecece"/>
<rect x="47.20" y="283.30" width="2.94" height="12.30" fill="#cecece"/>
<rect x="50.69" y="283.30" width="2.94" height="12.30" fill="#cecece"/>
<rect x="54.18" y="283.30" width="2.94" height="12.30" fill="#cecece"/>
<rect x="57.67" y="283.30" width="2.94" height="12.30" fill="#cecece"/>
<rect x="61.16" y="283.30" width="2.94" height="12.30" fill="#cecece"/>
<rect x="64.65" y="283.30" width="2.94" height="12.30" fill="#cecece"/>
<rect x="68.14" y="283.30" width="2.94" height="12.30" fill="#cecece"/>
<rect x="71.63" y="283.30" width="2.94" height="12.30" fill="#cecece"/>
<rect x="75.12" y="283.30" width="2.94" height="12.30" fill="#cecece"/>
<rect x="78.61" y="283.30" width="2.94" height="12.30" fill="#37a348"/>
<rect x="82.10" y="283.30" width="2.94" height="12.30" fill="#cecece"/>
<rect x="85.59" y="283.30" width="2.94" height="12.30" fill="#cecece"/>
<rect x="89.08" y="283.30" width="2.94" height="12.30" fill="#cecece"/>
<rect x="92.57" y="283.30" width="2.94" height="12.30" fill="#cecece"/>
<rect x="96.06" y="283.30" width="2.94" height="12.30" fill="#cecece"/>
<rect x="99.55" y="283.30" width="2.94" height="12.30" fill="#cecece"/>
<rect x="103.04" y="283.30" width="2.94" height="12.30" fill="#cecece"/>
<rect x="106.53" y="283.30" width="2.94" height="12.30" fill="#cecece"/>
<rect x="110.02" y="283.30" width="2.94" height="12.30" fill="#37a348"/>
<rect x="113.51" y="283.30" width="2.94" height="12.30" fill="#cecece"/>
<rect x="117.00" y="283.30" width="2.94" height="12.30" fill="#cecece"/>
<rect x="120.49" y="283.30" width="2.94" height="12.30" fill="#cecece"/>
<rect x="123.98" y="283.30" width="2.94" height="12.30" fill="#cecece"/>
<rect x="127.47" y="283.30" width="2.94" height="12.30" fill="#cecece"/>
<rect x="130.96" y="283.30" width="2.94" height="12.30" fill="#cecece"/>
<rect x="134.45" y="283.30" width="2.94" height="12.30" fill="#cecece"/>
<rect x="137.94" y="283.30" width="2.94" height="12.30" fill="#cecece"/>
<rect x="141.43" y="283.30" width="2.94" height="12.30" fill="#cecece"/>
<rect x="144.92" y="283.30" width="2.94" height="12.30" fill="#cecece"/>
<rect x="148.41" y="283.30" width="2.94" height="12.30" fill="#cecece"/>
<rect x="151.90" y="283.30" width="2.94" height="12.30" fill="#cecece"/>
<rect x="155.39" y="283.30" width="2.94" height="12.30" fill="#2f7fc0"/>
<rect x="158.88" y="283.30" width="2.94" height="12.30" fill="#cecece"/>
<rect x="162.37" y="283.30" width="2.94" height="12.30" fill="#cecece"/>
<rect x="165.86" y="283.30" width="2.94" height="12.30" fill="#cecece"/>
<rect x="169.35" y="283.30" width="2.94" height="12.30" fill="#cecece"/>
<rect x="172.84" y="283.30" width="2.94" height="12.30" fill="#cecece"/>
<rect x="176.33" y="283.30" width="2.94" height="12.30" fill="#cecece"/>
<rect x="179.82" y="283.30" width="2.94" height="12.30" fill="#cecece"/>
<rect x="183.31" y="283.30" width="2.94" height="12.30" fill="#cecece"/>
<rect x="186.80" y="283.30" width="2.94" height="12.30" fill="#cecece"/>
<rect x="190.29" y="283.30" width="2.94" height="12.30" fill="#cecece"/>
<rect x="193.78" y="283.30" width="2.94" height="12.30" fill="#cecece"/>
<rect x="197.27" y="283.30" width="2.94" height="12.30" fill="#cecece"/>
<rect x="200.76" y="283.30" width="2.94" height="12.30" fill="#cecece"/>
<rect x="204.25" y="283.30" width="2.94" height="12.30" fill="#cecece"/>
<rect x="207.74" y="283.30" width="2.94" height="12.30" fill="#cecece"/>
<rect x="211.23" y="283.30" width="2.94" height="12.30" fill="#cecece"/>
<rect x="214.72" y="283.30" width="2.94" height="12.30" fill="#37a348"/>
<rect x="218.21" y="283.30" width="2.94" height="12.30" fill="#cecece"/>
<rect x="221.70" y="283.30" width="2.94" height="12.30" fill="#cecece"/>
<rect x="225.19" y="283.30" width="2.94" height="12.30" fill="#cecece"/>
<rect x="228.68" y="283.30" width="2.94" height="12.30" fill="#e3262b"/>
<rect x="232.17" y="283.30" width="2.94" height="12.30" fill="#cecece"/>
<rect x="235.66" y="283.30" width="2.94" height="12.30" fill="#cecece"/>
<rect x="239.15" y="283.30" width="2.94" height="12.30" fill="#cecece"/>
<rect x="242.64" y="283.30" width="2.94" height="12.30" fill="#cecece"/>
<rect x="246.13" y="283.30" width="2.94" height="12.30" fill="#cecece"/>
<rect x="249.62" y="283.30" width="2.94" height="12.30" fill="#cecece"/>
<rect x="253.11" y="283.30" width="2.94" height="12.30" fill="#cecece"/>
<rect x="256.60" y="283.30" width="2.94" height="12.30" fill="#cecece"/>
<rect x="260.09" y="283.30" width="2.94" height="12.30" fill="#cecece"/>
<rect x="263.58" y="283.30" width="2.94" height="12.30" fill="#cecece"/>
<rect x="267.07" y="283.30" width="2.94" height="12.30" fill="#cecece"/>
<rect x="270.56" y="283.30" width="2.94" height="12.30" fill="#cecece"/>
<rect x="274.05" y="283.30" width="2.94" height="12.30" fill="#cecece"/>
<rect x="277.54" y="283.30" width="2.94" height="12.30" fill="#cecece"/>
<rect x="281.03" y="283.30" width="2.94" height="12.30" fill="#cecece"/>
<rect x="284.52" y="283.30" width="2.94" height="12.30" fill="#cecece"/>
<rect x="288.01" y="283.30" width="2.94" height="12.30" fill="#cecece"/>
<rect x="291.50" y="283.30" width="2.94" height="12.30" fill="#cecece"/>
<rect x="294.99" y="283.30" width="2.94" height="12.30" fill="#cecece"/>
<rect x="298.48" y="283.30" width="2.94" height="12.30" fill="#cecece"/>
<rect x="301.97" y="283.30" width="2.94" height="12.30" fill="#cecece"/>
<rect x="305.46" y="283.30" width="2.94" height="12.30" fill="#cecece"/>
<rect x="308.95" y="283.30" width="2.94" height="12.30" fill="#cecece"/>
<rect x="312.44" y="283.30" width="2.94" height="12.30" fill="#2f7fc0"/>
<rect x="315.93" y="283.30" width="2.94" height="12.30" fill="#cecece"/>
<rect x="319.42" y="283.30" width="2.94" height="12.30" fill="#cecece"/>
<rect x="322.91" y="283.30" width="2.94" height="12.30" fill="#cecece"/>
<rect x="326.40" y="283.30" width="2.94" height="12.30" fill="#cecece"/>
<rect x="329.89" y="283.30" width="2.94" height="12.30" fill="#cecece"/>
<rect x="333.38" y="283.30" width="2.94" height="12.30" fill="#cecece"/>
<rect x="336.87" y="283.30" width="2.94" height="12.30" fill="#cecece"/>
<rect x="340.36" y="283.30" width="2.94" height="12.30" fill="#cecece"/>
<rect x="343.85" y="283.30" width="2.94" height="12.30" fill="#cecece"/>
<rect x="347.34" y="283.30" width="2.94" height="12.30" fill="#cecece"/>
<rect x="350.83" y="283.30" width="2.94" height="12.30" fill="#cecece"/>
<rect x="354.32" y="283.30" width="2.94" height="12.30" fill="#cecece"/>
<rect x="357.81" y="283.30" width="2.94" height="12.30" fill="#cecece"/>
<rect x="361.30" y="283.30" width="2.94" height="12.30" fill="#cecece"/>
<rect x="364.79" y="283.30" width="2.94" height="12.30" fill="#cecece"/>
<rect x="368.28" y="283.30" width="2.94" height="12.30" fill="#cecece"/>
<rect x="371.77" y="283.30" width="2.94" height="12.30" fill="#cecece"/>
<rect x="375.26" y="283.30" width="2.94" height="12.30" fill="#cecece"/>
<rect x="378.75" y="283.30" width="2.94" height="12.30" fill="#cecece"/>
<rect x="382.24" y="283.30" width="2.94" height="12.30" fill="#cecece"/>
<rect x="385.73" y="283.30" width="2.94" height="12.30" fill="#cecece"/>
<rect x="47.20" y="296.80" width="2.94" height="12.30" fill="#cecece"/>
<rect x="50.69" y="296.80" width="2.94" height="12.30" fill="#cecece"/>
<rect x="54.18" y="296.80" width="2.94" height="12.30" fill="#cecece"/>
<rect x="57.67" y="296.80" width="2.94" height="12.30" fill="#37a348"/>
<rect x="61.16" y="296.80" width="2.94" height="12.30" fill="#cecece"/>
<rect x="64.65" y="296.80" width="2.94" height="12.30" fill="#cecece"/>
<rect x="68.14" y="296.80" width="2.94" height="12.30" fill="#cecece"/>
<rect x="71.63" y="296.80" width="2.94" height="12.30" fill="#cecece"/>
<rect x="75.12" y="296.80" width="2.94" height="12.30" fill="#cecece"/>
<rect x="78.61" y="296.80" width="2.94" height="12.30" fill="#cecece"/>
<rect x="82.10" y="296.80" width="2.94" height="12.30" fill="#cecece"/>
<rect x="85.59" y="296.80" width="2.94" height="12.30" fill="#cecece"/>
<rect x="89.08" y="296.80" width="2.94" height="12.30" fill="#cecece"/>
<rect x="92.57" y="296.80" width="2.94" height="12.30" fill="#cecece"/>
<rect x="96.06" y="296.80" width="2.94" height="12.30" fill="#cecece"/>
<rect x="99.55" y="296.80" width="2.94" height="12.30" fill="#cecece"/>
<rect x="103.04" y="296.80" width="2.94" height="12.30" fill="#cecece"/>
<rect x="106.53" y="296.80" width="2.94" height="12.30" fill="#cecece"/>
<rect x="110.02" y="296.80" width="2.94" height="12.30" fill="#cecece"/>
<rect x="113.51" y="296.80" width="2.94" height="12.30" fill="#1c1c1c"/>
<rect x="117.00" y="296.80" width="2.94" height="12.30" fill="#cecece"/>
<rect x="120.49" y="296.80" width="2.94" height="12.30" fill="#cecece"/>
<rect x="123.98" y="296.80" width="2.94" height="12.30" fill="#cecece"/>
<rect x="127.47" y="296.80" width="2.94" height="12.30" fill="#cecece"/>
<rect x="130.96" y="296.80" width="2.94" height="12.30" fill="#cecece"/>
<rect x="134.45" y="296.80" width="2.94" height="12.30" fill="#e3262b"/>
<rect x="137.94" y="296.80" width="2.94" height="12.30" fill="#cecece"/>
<rect x="141.43" y="296.80" width="2.94" height="12.30" fill="#cecece"/>
<rect x="144.92" y="296.80" width="2.94" height="12.30" fill="#cecece"/>
<rect x="148.41" y="296.80" width="2.94" height="12.30" fill="#cecece"/>
<rect x="151.90" y="296.80" width="2.94" height="12.30" fill="#cecece"/>
<rect x="155.39" y="296.80" width="2.94" height="12.30" fill="#cecece"/>
<rect x="158.88" y="296.80" width="2.94" height="12.30" fill="#cecece"/>
<rect x="162.37" y="296.80" width="2.94" height="12.30" fill="#cecece"/>
<rect x="165.86" y="296.80" width="2.94" height="12.30" fill="#cecece"/>
<rect x="169.35" y="296.80" width="2.94" height="12.30" fill="#cecece"/>
<rect x="172.84" y="296.80" width="2.94" height="12.30" fill="#cecece"/>
<rect x="176.33" y="296.80" width="2.94" height="12.30" fill="#cecece"/>
<rect x="179.82" y="296.80" width="2.94" height="12.30" fill="#cecece"/>
<rect x="183.31" y="296.80" width="2.94" height="12.30" fill="#cecece"/>
<rect x="186.80" y="296.80" width="2.94" height="12.30" fill="#cecece"/>
<rect x="190.29" y="296.80" width="2.94" height="12.30" fill="#cecece"/>
<rect x="193.78" y="296.80" width="2.94" height="12.30" fill="#cecece"/>
<rect x="197.27" y="296.80" width="2.94" height="12.30" fill="#cecece"/>
<rect x="200.76" y="296.80" width="2.94" height="12.30" fill="#cecece"/>
<rect x="204.25" y="296.80" width="2.94" height="12.30" fill="#cecece"/>
<rect x="207.74" y="296.80" width="2.94" height="12.30" fill="#cecece"/>
<rect x="211.23" y="296.80" width="2.94" height="12.30" fill="#cecece"/>
<rect x="214.72" y="296.80" width="2.94" height="12.30" fill="#cecece"/>
<rect x="218.21" y="296.80" width="2.94" height="12.30" fill="#cecece"/>
<rect x="221.70" y="296.80" width="2.94" height="12.30" fill="#cecece"/>
<rect x="225.19" y="296.80" width="2.94" height="12.30" fill="#cecece"/>
<rect x="228.68" y="296.80" width="2.94" height="12.30" fill="#cecece"/>
<rect x="232.17" y="296.80" width="2.94" height="12.30" fill="#cecece"/>
<rect x="235.66" y="296.80" width="2.94" height="12.30" fill="#cecece"/>
<rect x="239.15" y="296.80" width="2.94" height="12.30" fill="#cecece"/>
<rect x="242.64" y="296.80" width="2.94" height="12.30" fill="#cecece"/>
<rect x="246.13" y="296.80" width="2.94" height="12.30" fill="#cecece"/>
<rect x="249.62" y="296.80" width="2.94" height="12.30" fill="#cecece"/>
<rect x="253.11" y="296.80" width="2.94" height="12.30" fill="#cecece"/>
<rect x="256.60" y="296.80" width="2.94" height="12.30" fill="#cecece"/>
<rect x="260.09" y="296.80" width="2.94" height="12.30" fill="#cecece"/>
<rect x="263.58" y="296.80" width="2.94" height="12.30" fill="#cecece"/>
<rect x="267.07" y="296.80" width="2.94" height="12.30" fill="#cecece"/>
<rect x="270.56" y="296.80" width="2.94" height="12.30" fill="#cecece"/>
<rect x="274.05" y="296.80" width="2.94" height="12.30" fill="#cecece"/>
<rect x="277.54" y="296.80" width="2.94" height="12.30" fill="#cecece"/>
<rect x="281.03" y="296.80" width="2.94" height="12.30" fill="#cecece"/>
<rect x="284.52" y="296.80" width="2.94" height="12.30" fill="#cecece"/>
<rect x="288.01" y="296.80" width="2.94" height="12.30" fill="#e3262b"/>
<rect x="291.50" y="296.80" width="2.94" height="12.30" fill="#cecece"/>
<rect x="294.99" y="296.80" width="2.94" height="12.30" fill="#cecece"/>
<rect x="298.48" y="296.80" width="2.94" height="12.30" fill="#cecece"/>
<rect x="301.97" y="296.80" width="2.94" height="12.30" fill="#cecece"/>
<rect x="305.46" y="296.80" width="2.94" height="12.30" fill="#cecece"/>
<rect x="308.95" y="296.80" width="2.94" height="12.30" fill="#cecece"/>
<rect x="312.44" y="296.80" width="2.94" height="12.30" fill="#cecece"/>
<rect x="315.93" y="296.80" width="2.94" height="12.30" fill="#cecece"/>
<rect x="319.42" y="296.80" width="2.94" height="12.30" fill="#cecece"/>
<rect x="322.91" y="296.80" width="2.94" height="12.30" fill="#cecece"/>
<rect x="326.40" y="296.80" width="2.94" height="12.30" fill="#cecece"/>
<rect x="329.89" y="296.80" width="2.94" height="12.30" fill="#cecece"/>
<rect x="333.38" y="296.80" width="2.94" height="12.30" fill="#2f7fc0"/>
<rect x="336.87" y="296.80" width="2.94" height="12.30" fill="#cecece"/>
<rect x="340.36" y="296.80" width="2.94" height="12.30" fill="#cecece"/>
<rect x="343.85" y="296.80" width="2.94" height="12.30" fill="#cecece"/>
<rect x="347.34" y="296.80" width="2.94" height="12.30" fill="#cecece"/>
<rect x="350.83" y="296.80" width="2.94" height="12.30" fill="#cecece"/>
<rect x="354.32" y="296.80" width="2.94" height="12.30" fill="#cecece"/>
<rect x="357.81" y="296.80" width="2.94" height="12.30" fill="#cecece"/>
<rect x="361.30" y="296.80" width="2.94" height="12.30" fill="#cecece"/>
<rect x="364.79" y="296.80" width="2.94" height="12.30" fill="#cecece"/>
<rect x="368.28" y="296.80" width="2.94" height="12.30" fill="#cecece"/>
<rect x="371.77" y="296.80" width="2.94" height="12.30" fill="#cecece"/>
<rect x="375.26" y="296.80" width="2.94" height="12.30" fill="#cecece"/>
<rect x="378.75" y="296.80" width="2.94" height="12.30" fill="#cecece"/>
<rect x="382.24" y="296.80" width="2.94" height="12.30" fill="#cecece"/>
<rect x="385.73" y="296.80" width="2.94" height="12.30" fill="#cecece"/>
<rect x="47.20" y="310.30" width="2.94" height="12.30" fill="#cecece"/>
<rect x="50.69" y="310.30" width="2.94" height="12.30" fill="#cecece"/>
<rect x="54.18" y="310.30" width="2.94" height="12.30" fill="#cecece"/>
<rect x="57.67" y="310.30" width="2.94" height="12.30" fill="#cecece"/>
<rect x="61.16" y="310.30" width="2.94" height="12.30" fill="#cecece"/>
<rect x="64.65" y="310.30" width="2.94" height="12.30" fill="#cecece"/>
<rect x="68.14" y="310.30" width="2.94" height="12.30" fill="#cecece"/>
<rect x="71.63" y="310.30" width="2.94" height="12.30" fill="#cecece"/>
<rect x="75.12" y="310.30" width="2.94" height="12.30" fill="#cecece"/>
<rect x="78.61" y="310.30" width="2.94" height="12.30" fill="#cecece"/>
<rect x="82.10" y="310.30" width="2.94" height="12.30" fill="#cecece"/>
<rect x="85.59" y="310.30" width="2.94" height="12.30" fill="#cecece"/>
<rect x="89.08" y="310.30" width="2.94" height="12.30" fill="#cecece"/>
<rect x="92.57" y="310.30" width="2.94" height="12.30" fill="#cecece"/>
<rect x="96.06" y="310.30" width="2.94" height="12.30" fill="#cecece"/>
<rect x="99.55" y="310.30" width="2.94" height="12.30" fill="#cecece"/>
<rect x="103.04" y="310.30" width="2.94" height="12.30" fill="#cecece"/>
<rect x="106.53" y="310.30" width="2.94" height="12.30" fill="#cecece"/>
<rect x="110.02" y="310.30" width="2.94" height="12.30" fill="#6b3f9c"/>
<rect x="113.51" y="310.30" width="2.94" height="12.30" fill="#cecece"/>
<rect x="117.00" y="310.30" width="2.94" height="12.30" fill="#cecece"/>
<rect x="120.49" y="310.30" width="2.94" height="12.30" fill="#cecece"/>
<rect x="123.98" y="310.30" width="2.94" height="12.30" fill="#cecece"/>
<rect x="127.47" y="310.30" width="2.94" height="12.30" fill="#cecece"/>
<rect x="130.96" y="310.30" width="2.94" height="12.30" fill="#cecece"/>
<rect x="134.45" y="310.30" width="2.94" height="12.30" fill="#cecece"/>
<rect x="137.94" y="310.30" width="2.94" height="12.30" fill="#cecece"/>
<rect x="141.43" y="310.30" width="2.94" height="12.30" fill="#cecece"/>
<rect x="144.92" y="310.30" width="2.94" height="12.30" fill="#cecece"/>
<rect x="148.41" y="310.30" width="2.94" height="12.30" fill="#cecece"/>
<rect x="151.90" y="310.30" width="2.94" height="12.30" fill="#a8483a"/>
<rect x="155.39" y="310.30" width="2.94" height="12.30" fill="#cecece"/>
<rect x="158.88" y="310.30" width="2.94" height="12.30" fill="#cecece"/>
<rect x="162.37" y="310.30" width="2.94" height="12.30" fill="#cecece"/>
<rect x="165.86" y="310.30" width="2.94" height="12.30" fill="#cecece"/>
<rect x="169.35" y="310.30" width="2.94" height="12.30" fill="#cecece"/>
<rect x="172.84" y="310.30" width="2.94" height="12.30" fill="#cecece"/>
<rect x="176.33" y="310.30" width="2.94" height="12.30" fill="#cecece"/>
<rect x="179.82" y="310.30" width="2.94" height="12.30" fill="#cecece"/>
<rect x="183.31" y="310.30" width="2.94" height="12.30" fill="#cecece"/>
<rect x="186.80" y="310.30" width="2.94" height="12.30" fill="#cecece"/>
<rect x="190.29" y="310.30" width="2.94" height="12.30" fill="#cecece"/>
<rect x="193.78" y="310.30" width="2.94" height="12.30" fill="#cecece"/>
<rect x="197.27" y="310.30" width="2.94" height="12.30" fill="#cecece"/>
<rect x="200.76" y="310.30" width="2.94" height="12.30" fill="#cecece"/>
<rect x="204.25" y="310.30" width="2.94" height="12.30" fill="#cecece"/>
<rect x="207.74" y="310.30" width="2.94" height="12.30" fill="#cecece"/>
<rect x="211.23" y="310.30" width="2.94" height="12.30" fill="#cecece"/>
<rect x="214.72" y="310.30" width="2.94" height="12.30" fill="#cecece"/>
<rect x="218.21" y="310.30" width="2.94" height="12.30" fill="#cecece"/>
<rect x="221.70" y="310.30" width="2.94" height="12.30" fill="#cecece"/>
<rect x="225.19" y="310.30" width="2.94" height="12.30" fill="#cecece"/>
<rect x="228.68" y="310.30" width="2.94" height="12.30" fill="#cecece"/>
<rect x="232.17" y="310.30" width="2.94" height="12.30" fill="#1c1c1c"/>
<rect x="235.66" y="310.30" width="2.94" height="12.30" fill="#cecece"/>
<rect x="239.15" y="310.30" width="2.94" height="12.30" fill="#cecece"/>
<rect x="242.64" y="310.30" width="2.94" height="12.30" fill="#cecece"/>
<rect x="246.13" y="310.30" width="2.94" height="12.30" fill="#cecece"/>
<rect x="249.62" y="310.30" width="2.94" height="12.30" fill="#cecece"/>
<rect x="253.11" y="310.30" width="2.94" height="12.30" fill="#cecece"/>
<rect x="256.60" y="310.30" width="2.94" height="12.30" fill="#cecece"/>
<rect x="260.09" y="310.30" width="2.94" height="12.30" fill="#cecece"/>
<rect x="263.58" y="310.30" width="2.94" height="12.30" fill="#cecece"/>
<rect x="267.07" y="310.30" width="2.94" height="12.30" fill="#cecece"/>
<rect x="270.56" y="310.30" width="2.94" height="12.30" fill="#cecece"/>
<rect x="274.05" y="310.30" width="2.94" height="12.30" fill="#cecece"/>
<rect x="277.54" y="310.30" width="2.94" height="12.30" fill="#cecece"/>
<rect x="281.03" y="310.30" width="2.94" height="12.30" fill="#cecece"/>
<rect x="284.52" y="310.30" width="2.94" height="12.30" fill="#cecece"/>
<rect x="288.01" y="310.30" width="2.94" height="12.30" fill="#cecece"/>
<rect x="291.50" y="310.30" width="2.94" height="12.30" fill="#cecece"/>
<rect x="294.99" y="310.30" width="2.94" height="12.30" fill="#cecece"/>
<rect x="298.48" y="310.30" width="2.94" height="12.30" fill="#cecece"/>
<rect x="301.97" y="310.30" width="2.94" height="12.30" fill="#cecece"/>
<rect x="305.46" y="310.30" width="2.94" height="12.30" fill="#cecece"/>
<rect x="308.95" y="310.30" width="2.94" height="12.30" fill="#cecece"/>
<rect x="312.44" y="310.30" width="2.94" height="12.30" fill="#cecece"/>
<rect x="315.93" y="310.30" width="2.94" height="12.30" fill="#cecece"/>
<rect x="319.42" y="310.30" width="2.94" height="12.30" fill="#cecece"/>
<rect x="322.91" y="310.30" width="2.94" height="12.30" fill="#cecece"/>
<rect x="326.40" y="310.30" width="2.94" height="12.30" fill="#cecece"/>
<rect x="329.89" y="310.30" width="2.94" height="12.30" fill="#cecece"/>
<rect x="333.38" y="310.30" width="2.94" height="12.30" fill="#cecece"/>
<rect x="336.87" y="310.30" width="2.94" height="12.30" fill="#2f7fc0"/>
<rect x="340.36" y="310.30" width="2.94" height="12.30" fill="#cecece"/>
<rect x="343.85" y="310.30" width="2.94" height="12.30" fill="#cecece"/>
<rect x="347.34" y="310.30" width="2.94" height="12.30" fill="#cecece"/>
<rect x="350.83" y="310.30" width="2.94" height="12.30" fill="#cecece"/>
<rect x="354.32" y="310.30" width="2.94" height="12.30" fill="#cecece"/>
<rect x="357.81" y="310.30" width="2.94" height="12.30" fill="#cecece"/>
<rect x="361.30" y="310.30" width="2.94" height="12.30" fill="#cecece"/>
<rect x="364.79" y="310.30" width="2.94" height="12.30" fill="#cecece"/>
<rect x="368.28" y="310.30" width="2.94" height="12.30" fill="#cecece"/>
<rect x="371.77" y="310.30" width="2.94" height="12.30" fill="#cecece"/>
<rect x="375.26" y="310.30" width="2.94" height="12.30" fill="#cecece"/>
<rect x="378.75" y="310.30" width="2.94" height="12.30" fill="#2f7fc0"/>
<rect x="382.24" y="310.30" width="2.94" height="12.30" fill="#cecece"/>
<rect x="385.73" y="310.30" width="2.94" height="12.30" fill="#cecece"/>
<rect x="47.20" y="323.80" width="2.94" height="12.30" fill="#cecece"/>
<rect x="50.69" y="323.80" width="2.94" height="12.30" fill="#cecece"/>
<rect x="54.18" y="323.80" width="2.94" height="12.30" fill="#cecece"/>
<rect x="57.67" y="323.80" width="2.94" height="12.30" fill="#cecece"/>
<rect x="61.16" y="323.80" width="2.94" height="12.30" fill="#cecece"/>
<rect x="64.65" y="323.80" width="2.94" height="12.30" fill="#cecece"/>
<rect x="68.14" y="323.80" width="2.94" height="12.30" fill="#cecece"/>
<rect x="71.63" y="323.80" width="2.94" height="12.30" fill="#cecece"/>
<rect x="75.12" y="323.80" width="2.94" height="12.30" fill="#cecece"/>
<rect x="78.61" y="323.80" width="2.94" height="12.30" fill="#cecece"/>
<rect x="82.10" y="323.80" width="2.94" height="12.30" fill="#cecece"/>
<rect x="85.59" y="323.80" width="2.94" height="12.30" fill="#cecece"/>
<rect x="89.08" y="323.80" width="2.94" height="12.30" fill="#cecece"/>
<rect x="92.57" y="323.80" width="2.94" height="12.30" fill="#cecece"/>
<rect x="96.06" y="323.80" width="2.94" height="12.30" fill="#cecece"/>
<rect x="99.55" y="323.80" width="2.94" height="12.30" fill="#cecece"/>
<rect x="103.04" y="323.80" width="2.94" height="12.30" fill="#cecece"/>
<rect x="106.53" y="323.80" width="2.94" height="12.30" fill="#cecece"/>
<rect x="110.02" y="323.80" width="2.94" height="12.30" fill="#37a348"/>
<rect x="113.51" y="323.80" width="2.94" height="12.30" fill="#cecece"/>
<rect x="117.00" y="323.80" width="2.94" height="12.30" fill="#37a348"/>
<rect x="120.49" y="323.80" width="2.94" height="12.30" fill="#cecece"/>
<rect x="123.98" y="323.80" width="2.94" height="12.30" fill="#cecece"/>
<rect x="127.47" y="323.80" width="2.94" height="12.30" fill="#cecece"/>
<rect x="130.96" y="323.80" width="2.94" height="12.30" fill="#cecece"/>
<rect x="134.45" y="323.80" width="2.94" height="12.30" fill="#cecece"/>
<rect x="137.94" y="323.80" width="2.94" height="12.30" fill="#cecece"/>
<rect x="141.43" y="323.80" width="2.94" height="12.30" fill="#cecece"/>
<rect x="144.92" y="323.80" width="2.94" height="12.30" fill="#2e2a5a"/>
<rect x="148.41" y="323.80" width="2.94" height="12.30" fill="#2e2a5a"/>
<rect x="151.90" y="323.80" width="2.94" height="12.30" fill="#cecece"/>
<rect x="155.39" y="323.80" width="2.94" height="12.30" fill="#cecece"/>
<rect x="158.88" y="323.80" width="2.94" height="12.30" fill="#cecece"/>
<rect x="162.37" y="323.80" width="2.94" height="12.30" fill="#37a348"/>
<rect x="165.86" y="323.80" width="2.94" height="12.30" fill="#cecece"/>
<rect x="169.35" y="323.80" width="2.94" height="12.30" fill="#cecece"/>
<rect x="172.84" y="323.80" width="2.94" height="12.30" fill="#cecece"/>
<rect x="176.33" y="323.80" width="2.94" height="12.30" fill="#cecece"/>
<rect x="179.82" y="323.80" width="2.94" height="12.30" fill="#cecece"/>
<rect x="183.31" y="323.80" width="2.94" height="12.30" fill="#cecece"/>
<rect x="186.80" y="323.80" width="2.94" height="12.30" fill="#cecece"/>
<rect x="190.29" y="323.80" width="2.94" height="12.30" fill="#cecece"/>
<rect x="193.78" y="323.80" width="2.94" height="12.30" fill="#cecece"/>
<rect x="197.27" y="323.80" width="2.94" height="12.30" fill="#cecece"/>
<rect x="200.76" y="323.80" width="2.94" height="12.30" fill="#cecece"/>
<rect x="204.25" y="323.80" width="2.94" height="12.30" fill="#cecece"/>
<rect x="207.74" y="323.80" width="2.94" height="12.30" fill="#cecece"/>
<rect x="211.23" y="323.80" width="2.94" height="12.30" fill="#cecece"/>
<rect x="214.72" y="323.80" width="2.94" height="12.30" fill="#cecece"/>
<rect x="218.21" y="323.80" width="2.94" height="12.30" fill="#cecece"/>
<rect x="221.70" y="323.80" width="2.94" height="12.30" fill="#cecece"/>
<rect x="225.19" y="323.80" width="2.94" height="12.30" fill="#cecece"/>
<rect x="228.68" y="323.80" width="2.94" height="12.30" fill="#cecece"/>
<rect x="232.17" y="323.80" width="2.94" height="12.30" fill="#cecece"/>
<rect x="235.66" y="323.80" width="2.94" height="12.30" fill="#cecece"/>
<rect x="239.15" y="323.80" width="2.94" height="12.30" fill="#cecece"/>
<rect x="242.64" y="323.80" width="2.94" height="12.30" fill="#cecece"/>
<rect x="246.13" y="323.80" width="2.94" height="12.30" fill="#cecece"/>
<rect x="249.62" y="323.80" width="2.94" height="12.30" fill="#cecece"/>
<rect x="253.11" y="323.80" width="2.94" height="12.30" fill="#cecece"/>
<rect x="256.60" y="323.80" width="2.94" height="12.30" fill="#cecece"/>
<rect x="260.09" y="323.80" width="2.94" height="12.30" fill="#cecece"/>
<rect x="263.58" y="323.80" width="2.94" height="12.30" fill="#cecece"/>
<rect x="267.07" y="323.80" width="2.94" height="12.30" fill="#cecece"/>
<rect x="270.56" y="323.80" width="2.94" height="12.30" fill="#cecece"/>
<rect x="274.05" y="323.80" width="2.94" height="12.30" fill="#cecece"/>
<rect x="277.54" y="323.80" width="2.94" height="12.30" fill="#cecece"/>
<rect x="281.03" y="323.80" width="2.94" height="12.30" fill="#cecece"/>
<rect x="284.52" y="323.80" width="2.94" height="12.30" fill="#cecece"/>
<rect x="288.01" y="323.80" width="2.94" height="12.30" fill="#cecece"/>
<rect x="291.50" y="323.80" width="2.94" height="12.30" fill="#cecece"/>
<rect x="294.99" y="323.80" width="2.94" height="12.30" fill="#cecece"/>
<rect x="298.48" y="323.80" width="2.94" height="12.30" fill="#cecece"/>
<rect x="301.97" y="323.80" width="2.94" height="12.30" fill="#cecece"/>
<rect x="305.46" y="323.80" width="2.94" height="12.30" fill="#cecece"/>
<rect x="308.95" y="323.80" width="2.94" height="12.30" fill="#cecece"/>
<rect x="312.44" y="323.80" width="2.94" height="12.30" fill="#cecece"/>
<rect x="315.93" y="323.80" width="2.94" height="12.30" fill="#cecece"/>
<rect x="319.42" y="323.80" width="2.94" height="12.30" fill="#cecece"/>
<rect x="322.91" y="323.80" width="2.94" height="12.30" fill="#cecece"/>
<rect x="326.40" y="323.80" width="2.94" height="12.30" fill="#cecece"/>
<rect x="329.89" y="323.80" width="2.94" height="12.30" fill="#cecece"/>
<rect x="333.38" y="323.80" width="2.94" height="12.30" fill="#cecece"/>
<rect x="336.87" y="323.80" width="2.94" height="12.30" fill="#cecece"/>
<rect x="340.36" y="323.80" width="2.94" height="12.30" fill="#cecece"/>
<rect x="343.85" y="323.80" width="2.94" height="12.30" fill="#cecece"/>
<rect x="347.34" y="323.80" width="2.94" height="12.30" fill="#cecece"/>
<rect x="350.83" y="323.80" width="2.94" height="12.30" fill="#cecece"/>
<rect x="354.32" y="323.80" width="2.94" height="12.30" fill="#cecece"/>
<rect x="357.81" y="323.80" width="2.94" height="12.30" fill="#cecece"/>
<rect x="361.30" y="323.80" width="2.94" height="12.30" fill="#cecece"/>
<rect x="364.79" y="323.80" width="2.94" height="12.30" fill="#cecece"/>
<rect x="368.28" y="323.80" width="2.94" height="12.30" fill="#cecece"/>
<rect x="371.77" y="323.80" width="2.94" height="12.30" fill="#cecece"/>
<rect x="375.26" y="323.80" width="2.94" height="12.30" fill="#cecece"/>
<rect x="378.75" y="323.80" width="2.94" height="12.30" fill="#cecece"/>
<rect x="382.24" y="323.80" width="2.94" height="12.30" fill="#cecece"/>
<rect x="385.73" y="323.80" width="2.94" height="12.30" fill="#cecece"/>
<rect x="47.20" y="337.30" width="2.94" height="12.30" fill="#cecece"/>
<rect x="50.69" y="337.30" width="2.94" height="12.30" fill="#cecece"/>
<rect x="54.18" y="337.30" width="2.94" height="12.30" fill="#cecece"/>
<rect x="57.67" y="337.30" width="2.94" height="12.30" fill="#37a348"/>
<rect x="61.16" y="337.30" width="2.94" height="12.30" fill="#cecece"/>
<rect x="64.65" y="337.30" width="2.94" height="12.30" fill="#cecece"/>
<rect x="68.14" y="337.30" width="2.94" height="12.30" fill="#cecece"/>
<rect x="71.63" y="337.30" width="2.94" height="12.30" fill="#cecece"/>
<rect x="75.12" y="337.30" width="2.94" height="12.30" fill="#cecece"/>
<rect x="78.61" y="337.30" width="2.94" height="12.30" fill="#cecece"/>
<rect x="82.10" y="337.30" width="2.94" height="12.30" fill="#cecece"/>
<rect x="85.59" y="337.30" width="2.94" height="12.30" fill="#cecece"/>
<rect x="89.08" y="337.30" width="2.94" height="12.30" fill="#cecece"/>
<rect x="92.57" y="337.30" width="2.94" height="12.30" fill="#cecece"/>
<rect x="96.06" y="337.30" width="2.94" height="12.30" fill="#cecece"/>
<rect x="99.55" y="337.30" width="2.94" height="12.30" fill="#cecece"/>
<rect x="103.04" y="337.30" width="2.94" height="12.30" fill="#cecece"/>
<rect x="106.53" y="337.30" width="2.94" height="12.30" fill="#cecece"/>
<rect x="110.02" y="337.30" width="2.94" height="12.30" fill="#cecece"/>
<rect x="113.51" y="337.30" width="2.94" height="12.30" fill="#cecece"/>
<rect x="117.00" y="337.30" width="2.94" height="12.30" fill="#cecece"/>
<rect x="120.49" y="337.30" width="2.94" height="12.30" fill="#cecece"/>
<rect x="123.98" y="337.30" width="2.94" height="12.30" fill="#cecece"/>
<rect x="127.47" y="337.30" width="2.94" height="12.30" fill="#cecece"/>
<rect x="130.96" y="337.30" width="2.94" height="12.30" fill="#cecece"/>
<rect x="134.45" y="337.30" width="2.94" height="12.30" fill="#cecece"/>
<rect x="137.94" y="337.30" width="2.94" height="12.30" fill="#cecece"/>
<rect x="141.43" y="337.30" width="2.94" height="12.30" fill="#cecece"/>
<rect x="144.92" y="337.30" width="2.94" height="12.30" fill="#cecece"/>
<rect x="148.41" y="337.30" width="2.94" height="12.30" fill="#cecece"/>
<rect x="151.90" y="337.30" width="2.94" height="12.30" fill="#cecece"/>
<rect x="155.39" y="337.30" width="2.94" height="12.30" fill="#cecece"/>
<rect x="158.88" y="337.30" width="2.94" height="12.30" fill="#cecece"/>
<rect x="162.37" y="337.30" width="2.94" height="12.30" fill="#cecece"/>
<rect x="165.86" y="337.30" width="2.94" height="12.30" fill="#cecece"/>
<rect x="169.35" y="337.30" width="2.94" height="12.30" fill="#cecece"/>
<rect x="172.84" y="337.30" width="2.94" height="12.30" fill="#cecece"/>
<rect x="176.33" y="337.30" width="2.94" height="12.30" fill="#cecece"/>
<rect x="179.82" y="337.30" width="2.94" height="12.30" fill="#cecece"/>
<rect x="183.31" y="337.30" width="2.94" height="12.30" fill="#cecece"/>
<rect x="186.80" y="337.30" width="2.94" height="12.30" fill="#cecece"/>
<rect x="190.29" y="337.30" width="2.94" height="12.30" fill="#cecece"/>
<rect x="193.78" y="337.30" width="2.94" height="12.30" fill="#1c1c1c"/>
<rect x="197.27" y="337.30" width="2.94" height="12.30" fill="#cecece"/>
<rect x="200.76" y="337.30" width="2.94" height="12.30" fill="#cecece"/>
<rect x="204.25" y="337.30" width="2.94" height="12.30" fill="#cecece"/>
<rect x="207.74" y="337.30" width="2.94" height="12.30" fill="#cecece"/>
<rect x="211.23" y="337.30" width="2.94" height="12.30" fill="#cecece"/>
<rect x="214.72" y="337.30" width="2.94" height="12.30" fill="#cecece"/>
<rect x="218.21" y="337.30" width="2.94" height="12.30" fill="#cecece"/>
<rect x="221.70" y="337.30" width="2.94" height="12.30" fill="#cecece"/>
<rect x="225.19" y="337.30" width="2.94" height="12.30" fill="#cecece"/>
<rect x="228.68" y="337.30" width="2.94" height="12.30" fill="#cecece"/>
<rect x="232.17" y="337.30" width="2.94" height="12.30" fill="#cecece"/>
<rect x="235.66" y="337.30" width="2.94" height="12.30" fill="#37a348"/>
<rect x="239.15" y="337.30" width="2.94" height="12.30" fill="#cecece"/>
<rect x="242.64" y="337.30" width="2.94" height="12.30" fill="#cecece"/>
<rect x="246.13" y="337.30" width="2.94" height="12.30" fill="#cecece"/>
<rect x="249.62" y="337.30" width="2.94" height="12.30" fill="#cecece"/>
<rect x="253.11" y="337.30" width="2.94" height="12.30" fill="#cecece"/>
<rect x="256.60" y="337.30" width="2.94" height="12.30" fill="#cecece"/>
<rect x="260.09" y="337.30" width="2.94" height="12.30" fill="#cecece"/>
<rect x="263.58" y="337.30" width="2.94" height="12.30" fill="#cecece"/>
<rect x="267.07" y="337.30" width="2.94" height="12.30" fill="#cecece"/>
<rect x="270.56" y="337.30" width="2.94" height="12.30" fill="#cecece"/>
<rect x="274.05" y="337.30" width="2.94" height="12.30" fill="#cecece"/>
<rect x="277.54" y="337.30" width="2.94" height="12.30" fill="#cecece"/>
<rect x="281.03" y="337.30" width="2.94" height="12.30" fill="#cecece"/>
<rect x="284.52" y="337.30" width="2.94" height="12.30" fill="#cecece"/>
<rect x="288.01" y="337.30" width="2.94" height="12.30" fill="#cecece"/>
<rect x="291.50" y="337.30" width="2.94" height="12.30" fill="#e3262b"/>
<rect x="294.99" y="337.30" width="2.94" height="12.30" fill="#cecece"/>
<rect x="298.48" y="337.30" width="2.94" height="12.30" fill="#cecece"/>
<rect x="301.97" y="337.30" width="2.94" height="12.30" fill="#cecece"/>
<rect x="305.46" y="337.30" width="2.94" height="12.30" fill="#cecece"/>
<rect x="308.95" y="337.30" width="2.94" height="12.30" fill="#cecece"/>
<rect x="312.44" y="337.30" width="2.94" height="12.30" fill="#cecece"/>
<rect x="315.93" y="337.30" width="2.94" height="12.30" fill="#cecece"/>
<rect x="319.42" y="337.30" width="2.94" height="12.30" fill="#cecece"/>
<rect x="322.91" y="337.30" width="2.94" height="12.30" fill="#cecece"/>
<rect x="326.40" y="337.30" width="2.94" height="12.30" fill="#cecece"/>
<rect x="329.89" y="337.30" width="2.94" height="12.30" fill="#cecece"/>
<rect x="333.38" y="337.30" width="2.94" height="12.30" fill="#cecece"/>
<rect x="336.87" y="337.30" width="2.94" height="12.30" fill="#cecece"/>
<rect x="340.36" y="337.30" width="2.94" height="12.30" fill="#cecece"/>
<rect x="343.85" y="337.30" width="2.94" height="12.30" fill="#cecece"/>
<rect x="347.34" y="337.30" width="2.94" height="12.30" fill="#cecece"/>
<rect x="350.83" y="337.30" width="2.94" height="12.30" fill="#cecece"/>
<rect x="354.32" y="337.30" width="2.94" height="12.30" fill="#cecece"/>
<rect x="357.81" y="337.30" width="2.94" height="12.30" fill="#cecece"/>
<rect x="361.30" y="337.30" width="2.94" height="12.30" fill="#cecece"/>
<rect x="364.79" y="337.30" width="2.94" height="12.30" fill="#cecece"/>
<rect x="368.28" y="337.30" width="2.94" height="12.30" fill="#e3262b"/>
<rect x="371.77" y="337.30" width="2.94" height="12.30" fill="#cecece"/>
<rect x="375.26" y="337.30" width="2.94" height="12.30" fill="#cecece"/>
<rect x="378.75" y="337.30" width="2.94" height="12.30" fill="#cecece"/>
<rect x="382.24" y="337.30" width="2.94" height="12.30" fill="#cecece"/>
<rect x="385.73" y="337.30" width="2.94" height="12.30" fill="#cecece"/>
</g>
<text x="43.00" y="89.65" font-size="7.6" font-weight="bold" font-style="italic" text-anchor="end" fill="#1a1a1a" textLength="17.49" lengthAdjust="spacingAndGlyphs" stroke="#1a1a1a" stroke-width="0.15">JAK2</text>
<text x="43.00" y="103.15" font-size="7.6" font-weight="bold" font-style="italic" text-anchor="end" fill="#1a1a1a" textLength="22.05" lengthAdjust="spacingAndGlyphs" stroke="#1a1a1a" stroke-width="0.15">ASXL1</text>
<text x="43.00" y="116.65" font-size="7.6" font-weight="bold" font-style="italic" text-anchor="end" fill="#1a1a1a" textLength="16.72" lengthAdjust="spacingAndGlyphs" stroke="#1a1a1a" stroke-width="0.15">TET2</text>
<text x="43.00" y="130.15" font-size="7.6" font-weight="bold" font-style="italic" text-anchor="end" fill="#1a1a1a" textLength="19.38" lengthAdjust="spacingAndGlyphs" stroke="#1a1a1a" stroke-width="0.15">KRAS</text>
<text x="43.00" y="143.65" font-size="7.6" font-weight="bold" font-style="italic" text-anchor="end" fill="#1a1a1a" textLength="19.0" lengthAdjust="spacingAndGlyphs" stroke="#1a1a1a" stroke-width="0.15">CALR</text>
<text x="43.00" y="157.15" font-size="7.6" font-weight="bold" font-style="italic" text-anchor="end" fill="#1a1a1a" textLength="14.44" lengthAdjust="spacingAndGlyphs" stroke="#1a1a1a" stroke-width="0.15">MPL</text>
<text x="43.00" y="170.65" font-size="7.6" font-weight="bold" font-style="italic" text-anchor="end" fill="#1a1a1a" textLength="19.38" lengthAdjust="spacingAndGlyphs" stroke="#1a1a1a" stroke-width="0.15">NRAS</text>
<text x="43.00" y="184.15" font-size="7.6" font-weight="bold" font-style="italic" text-anchor="end" fill="#1a1a1a" textLength="28.5" lengthAdjust="spacingAndGlyphs" stroke="#1a1a1a" stroke-width="0.15">DNMT3A</text>
<text x="43.00" y="197.65" font-size="7.6" font-weight="bold" font-style="italic" text-anchor="end" fill="#1a1a1a" textLength="14.06" lengthAdjust="spacingAndGlyphs" stroke="#1a1a1a" stroke-width="0.15">CBL</text>
<text x="43.00" y="211.15" font-size="7.6" font-weight="bold" font-style="italic" text-anchor="end" fill="#1a1a1a" textLength="22.05" lengthAdjust="spacingAndGlyphs" stroke="#1a1a1a" stroke-width="0.15">SRSF2</text>
<text x="43.00" y="224.65" font-size="7.6" font-weight="bold" font-style="italic" text-anchor="end" fill="#1a1a1a" textLength="21.67" lengthAdjust="spacingAndGlyphs" stroke="#1a1a1a" stroke-width="0.15">U2AF1</text>
<text x="43.00" y="238.15" font-size="7.6" font-weight="bold" font-style="italic" text-anchor="end" fill="#1a1a1a" textLength="17.48" lengthAdjust="spacingAndGlyphs" stroke="#1a1a1a" stroke-width="0.15">EZH2</text>
<text x="43.00" y="251.65" font-size="7.6" font-weight="bold" font-style="italic" text-anchor="end" fill="#1a1a1a" textLength="21.29" lengthAdjust="spacingAndGlyphs" stroke="#1a1a1a" stroke-width="0.15">SF3B1</text>
<text x="43.00" y="265.15" font-size="7.6" font-weight="bold" font-style="italic" text-anchor="end" fill="#1a1a1a" textLength="15.58" lengthAdjust="spacingAndGlyphs" stroke="#1a1a1a" stroke-width="0.15">IDH2</text>
<text x="43.00" y="278.65" font-size="7.6" font-weight="bold" font-style="italic" text-anchor="end" fill="#1a1a1a" textLength="12.92" lengthAdjust="spacingAndGlyphs" stroke="#1a1a1a" stroke-width="0.15">NF1</text>
<text x="43.00" y="292.15" font-size="7.6" font-weight="bold" font-style="italic" text-anchor="end" fill="#1a1a1a" textLength="16.35" lengthAdjust="spacingAndGlyphs" stroke="#1a1a1a" stroke-width="0.15">TP53</text>
<text x="43.00" y="305.65" font-size="7.6" font-weight="bold" font-style="italic" text-anchor="end" fill="#1a1a1a" textLength="17.48" lengthAdjust="spacingAndGlyphs" stroke="#1a1a1a" stroke-width="0.15">PHF6</text>
<text x="43.00" y="319.15" font-size="7.6" font-weight="bold" font-style="italic" text-anchor="end" fill="#1a1a1a" textLength="26.99" lengthAdjust="spacingAndGlyphs" stroke="#1a1a1a" stroke-width="0.15">SETD1B</text>
<text x="43.00" y="332.65" font-size="7.6" font-weight="bold" font-style="italic" text-anchor="end" fill="#1a1a1a" textLength="22.05" lengthAdjust="spacingAndGlyphs" stroke="#1a1a1a" stroke-width="0.15">SH2B3</text>
<text x="43.00" y="346.15" font-size="7.6" font-weight="bold" font-style="italic" text-anchor="end" fill="#1a1a1a" textLength="22.42" lengthAdjust="spacingAndGlyphs" stroke="#1a1a1a" stroke-width="0.15">ZRSR2</text>
<text x="391.40" y="89.55" font-size="7.2" font-weight="bold" font-style="normal" text-anchor="start" fill="#2a2a2a" stroke="#2a2a2a" stroke-width="0.15">68%</text>
<text x="391.40" y="103.05" font-size="7.2" font-weight="bold" font-style="normal" text-anchor="start" fill="#2a2a2a" stroke="#2a2a2a" stroke-width="0.15">36%</text>
<text x="391.40" y="116.55" font-size="7.2" font-weight="bold" font-style="normal" text-anchor="start" fill="#2a2a2a" stroke="#2a2a2a" stroke-width="0.15">26%</text>
<text x="391.40" y="130.05" font-size="7.2" font-weight="bold" font-style="normal" text-anchor="start" fill="#2a2a2a" stroke="#2a2a2a" stroke-width="0.15">15%</text>
<text x="391.40" y="143.55" font-size="7.2" font-weight="bold" font-style="normal" text-anchor="start" fill="#2a2a2a" stroke="#2a2a2a" stroke-width="0.15">14%</text>
<text x="391.40" y="157.05" font-size="7.2" font-weight="bold" font-style="normal" text-anchor="start" fill="#2a2a2a" stroke="#2a2a2a" stroke-width="0.15">14%</text>
<text x="391.40" y="170.55" font-size="7.2" font-weight="bold" font-style="normal" text-anchor="start" fill="#2a2a2a" stroke="#2a2a2a" stroke-width="0.15">14%</text>
<text x="391.40" y="184.05" font-size="7.2" font-weight="bold" font-style="normal" text-anchor="start" fill="#2a2a2a" stroke="#2a2a2a" stroke-width="0.15">13%</text>
<text x="391.40" y="197.55" font-size="7.2" font-weight="bold" font-style="normal" text-anchor="start" fill="#2a2a2a" stroke="#2a2a2a" stroke-width="0.15">11%</text>
<text x="391.40" y="211.05" font-size="7.2" font-weight="bold" font-style="normal" text-anchor="start" fill="#2a2a2a" stroke="#2a2a2a" stroke-width="0.15">11%</text>
<text x="391.40" y="224.55" font-size="7.2" font-weight="bold" font-style="normal" text-anchor="start" fill="#2a2a2a" stroke="#2a2a2a" stroke-width="0.15">10%</text>
<text x="391.40" y="238.05" font-size="7.2" font-weight="bold" font-style="normal" text-anchor="start" fill="#2a2a2a" stroke="#2a2a2a" stroke-width="0.15">7%</text>
<text x="391.40" y="251.55" font-size="7.2" font-weight="bold" font-style="normal" text-anchor="start" fill="#2a2a2a" stroke="#2a2a2a" stroke-width="0.15">7%</text>
<text x="391.40" y="265.05" font-size="7.2" font-weight="bold" font-style="normal" text-anchor="start" fill="#2a2a2a" stroke="#2a2a2a" stroke-width="0.15">6%</text>
<text x="391.40" y="278.55" font-size="7.2" font-weight="bold" font-style="normal" text-anchor="start" fill="#2a2a2a" stroke="#2a2a2a" stroke-width="0.15">6%</text>
<text x="391.40" y="292.05" font-size="7.2" font-weight="bold" font-style="normal" text-anchor="start" fill="#2a2a2a" stroke="#2a2a2a" stroke-width="0.15">6%</text>
<text x="391.40" y="305.55" font-size="7.2" font-weight="bold" font-style="normal" text-anchor="start" fill="#2a2a2a" stroke="#2a2a2a" stroke-width="0.15">5%</text>
<text x="391.40" y="319.05" font-size="7.2" font-weight="bold" font-style="normal" text-anchor="start" fill="#2a2a2a" stroke="#2a2a2a" stroke-width="0.15">5%</text>
<text x="391.40" y="332.55" font-size="7.2" font-weight="bold" font-style="normal" text-anchor="start" fill="#2a2a2a" stroke="#2a2a2a" stroke-width="0.15">5%</text>
<text x="391.40" y="346.05" font-size="7.2" font-weight="bold" font-style="normal" text-anchor="start" fill="#2a2a2a" stroke="#2a2a2a" stroke-width="0.15">5%</text>
<rect x="418.80" y="81.70" width="94.56" height="12.00" fill="#37a348"/>
<rect x="513.36" y="81.70" width="0.71" height="12.00" fill="#f58a2c"/>
<rect x="418.80" y="95.20" width="24.60" height="12.00" fill="#e3262b"/>
<rect x="443.40" y="95.20" width="12.23" height="12.00" fill="#6b3f9c"/>
<rect x="455.63" y="95.20" width="8.53" height="12.00" fill="#2f7fc0"/>
<rect x="464.16" y="95.20" width="5.97" height="12.00" fill="#1c1c1c"/>
<rect x="418.80" y="108.70" width="9.10" height="12.00" fill="#37a348"/>
<rect x="427.90" y="108.70" width="2.28" height="12.00" fill="#e3262b"/>
<rect x="430.18" y="108.70" width="0.85" height="12.00" fill="#f58a2c"/>
<rect x="431.03" y="108.70" width="13.94" height="12.00" fill="#2f7fc0"/>
<rect x="444.96" y="108.70" width="10.24" height="12.00" fill="#1c1c1c"/>
<rect x="418.80" y="122.20" width="21.33" height="12.00" fill="#37a348"/>
<rect x="418.80" y="135.70" width="19.48" height="12.00" fill="#2f7fc0"/>
<rect x="418.80" y="149.20" width="19.34" height="12.00" fill="#37a348"/>
<rect x="418.80" y="162.70" width="19.34" height="12.00" fill="#37a348"/>
<rect x="418.80" y="176.20" width="18.34" height="12.00" fill="#5e8b6b"/>
<rect x="418.80" y="189.70" width="8.25" height="12.00" fill="#37a348"/>
<rect x="427.05" y="189.70" width="4.98" height="12.00" fill="#f58a2c"/>
<rect x="432.02" y="189.70" width="2.56" height="12.00" fill="#1c1c1c"/>
<rect x="418.80" y="203.20" width="15.07" height="12.00" fill="#37a348"/>
<rect x="418.80" y="216.70" width="13.79" height="12.00" fill="#37a348"/>
<rect x="418.80" y="230.20" width="5.12" height="12.00" fill="#b15928"/>
<rect x="423.92" y="230.20" width="1.71" height="12.00" fill="#d9884a"/>
<rect x="425.63" y="230.20" width="2.84" height="12.00" fill="#b15928"/>
<rect x="418.80" y="243.70" width="9.67" height="12.00" fill="#37a348"/>
<rect x="418.80" y="257.20" width="7.82" height="12.00" fill="#37a348"/>
<rect x="418.80" y="270.70" width="2.28" height="12.00" fill="#f58a2c"/>
<rect x="421.08" y="270.70" width="1.99" height="12.00" fill="#e3262b"/>
<rect x="423.07" y="270.70" width="1.42" height="12.00" fill="#f58a2c"/>
<rect x="424.49" y="270.70" width="2.13" height="12.00" fill="#1c1c1c"/>
<rect x="418.80" y="284.20" width="7.82" height="12.00" fill="#4f7f70"/>
<rect x="418.80" y="297.70" width="6.97" height="12.00" fill="#9a4a4a"/>
<rect x="418.80" y="311.20" width="6.97" height="12.00" fill="#5a5a8a"/>
<rect x="418.80" y="324.70" width="6.97" height="12.00" fill="#37a348"/>
<rect x="418.80" y="338.20" width="6.97" height="12.00" fill="#8a5a3a"/>
<path d="M418.8 73.0 V78.0 H513.8 V73.0" fill="none" stroke="#1a1a1a" stroke-width="1.1"/>
<text x="418.80" y="67.60" font-size="7.2" font-weight="bold" font-style="normal" text-anchor="middle" fill="#222">0</text>
<text x="513.60" y="67.60" font-size="7.2" font-weight="bold" font-style="normal" text-anchor="middle" fill="#222">67</text>
<rect x="47.20" y="357.40" width="2.94" height="7.60" fill="#cc5a2a"/>
<rect x="50.69" y="357.40" width="2.94" height="7.60" fill="#8a2f16"/>
<rect x="54.18" y="357.40" width="2.94" height="7.60" fill="#cc5a2a"/>
<rect x="57.67" y="357.40" width="2.94" height="7.60" fill="#8a2f16"/>
<rect x="61.16" y="357.40" width="2.94" height="7.60" fill="#cc5a2a"/>
<rect x="64.65" y="357.40" width="2.94" height="7.60" fill="#8a2f16"/>
<rect x="68.14" y="357.40" width="2.94" height="7.60" fill="#fffbe4"/>
<rect x="71.63" y="357.40" width="2.94" height="7.60" fill="#cc5a2a"/>
<rect x="75.12" y="357.40" width="2.94" height="7.60" fill="#8a2f16"/>
<rect x="78.61" y="357.40" width="2.94" height="7.60" fill="#cc5a2a"/>
<rect x="82.10" y="357.40" width="2.94" height="7.60" fill="#8a2f16"/>
<rect x="85.59" y="357.40" width="2.94" height="7.60" fill="#cc5a2a"/>
<rect x="89.08" y="357.40" width="2.94" height="7.60" fill="#8a2f16"/>
<rect x="92.57" y="357.40" width="2.94" height="7.60" fill="#8a2f16"/>
<rect x="96.06" y="357.40" width="2.94" height="7.60" fill="#cc5a2a"/>
<rect x="99.55" y="357.40" width="2.94" height="7.60" fill="#f59d3d"/>
<rect x="103.04" y="357.40" width="2.94" height="7.60" fill="#cc5a2a"/>
<rect x="106.53" y="357.40" width="2.94" height="7.60" fill="#8a2f16"/>
<rect x="110.02" y="357.40" width="2.94" height="7.60" fill="#8a2f16"/>
<rect x="113.51" y="357.40" width="2.94" height="7.60" fill="#fcc75a"/>
<rect x="117.00" y="357.40" width="2.94" height="7.60" fill="#8a2f16"/>
<rect x="120.49" y="357.40" width="2.94" height="7.60" fill="#f59d3d"/>
<rect x="123.98" y="357.40" width="2.94" height="7.60" fill="#fffbe4"/>
<rect x="127.47" y="357.40" width="2.94" height="7.60" fill="#cc5a2a"/>
<rect x="130.96" y="357.40" width="2.94" height="7.60" fill="#fdebb0"/>
<rect x="134.45" y="357.40" width="2.94" height="7.60" fill="#cc5a2a"/>
<rect x="137.94" y="357.40" width="2.94" height="7.60" fill="#cc5a2a"/>
<rect x="141.43" y="357.40" width="2.94" height="7.60" fill="#cc5a2a"/>
<rect x="144.92" y="357.40" width="2.94" height="7.60" fill="#cc5a2a"/>
<rect x="148.41" y="357.40" width="2.94" height="7.60" fill="#cc5a2a"/>
<rect x="151.90" y="357.40" width="2.94" height="7.60" fill="#cc5a2a"/>
<rect x="155.39" y="357.40" width="2.94" height="7.60" fill="#8a2f16"/>
<rect x="158.88" y="357.40" width="2.94" height="7.60" fill="#fcc75a"/>
<rect x="162.37" y="357.40" width="2.94" height="7.60" fill="#f59d3d"/>
<rect x="165.86" y="357.40" width="2.94" height="7.60" fill="#fffbe4"/>
<rect x="169.35" y="357.40" width="2.94" height="7.60" fill="#fffbe4"/>
<rect x="172.84" y="357.40" width="2.94" height="7.60" fill="#cc5a2a"/>
<rect x="176.33" y="357.40" width="2.94" height="7.60" fill="#fffbe4"/>
<rect x="179.82" y="357.40" width="2.94" height="7.60" fill="#f59d3d"/>
<rect x="183.31" y="357.40" width="2.94" height="7.60" fill="#fffbe4"/>
<rect x="186.80" y="357.40" width="2.94" height="7.60" fill="#fcc75a"/>
<rect x="190.29" y="357.40" width="2.94" height="7.60" fill="#fffbe4"/>
<rect x="193.78" y="357.40" width="2.94" height="7.60" fill="#cc5a2a"/>
<rect x="197.27" y="357.40" width="2.94" height="7.60" fill="#8a2f16"/>
<rect x="200.76" y="357.40" width="2.94" height="7.60" fill="#fffbe4"/>
<rect x="204.25" y="357.40" width="2.94" height="7.60" fill="#fcc75a"/>
<rect x="207.74" y="357.40" width="2.94" height="7.60" fill="#fcc75a"/>
<rect x="211.23" y="357.40" width="2.94" height="7.60" fill="#fdebb0"/>
<rect x="214.72" y="357.40" width="2.94" height="7.60" fill="#fcc75a"/>
<rect x="218.21" y="357.40" width="2.94" height="7.60" fill="#fffbe4"/>
<rect x="221.70" y="357.40" width="2.94" height="7.60" fill="#cc5a2a"/>
<rect x="225.19" y="357.40" width="2.94" height="7.60" fill="#fffbe4"/>
<rect x="228.68" y="357.40" width="2.94" height="7.60" fill="#fffbe4"/>
<rect x="232.17" y="357.40" width="2.94" height="7.60" fill="#8a2f16"/>
<rect x="235.66" y="357.40" width="2.94" height="7.60" fill="#fdebb0"/>
<rect x="239.15" y="357.40" width="2.94" height="7.60" fill="#f59d3d"/>
<rect x="242.64" y="357.40" width="2.94" height="7.60" fill="#f59d3d"/>
<rect x="246.13" y="357.40" width="2.94" height="7.60" fill="#cc5a2a"/>
<rect x="249.62" y="357.40" width="2.94" height="7.60" fill="#f59d3d"/>
<rect x="253.11" y="357.40" width="2.94" height="7.60" fill="#f59d3d"/>
<rect x="256.60" y="357.40" width="2.94" height="7.60" fill="#cc5a2a"/>
<rect x="260.09" y="357.40" width="2.94" height="7.60" fill="#fdebb0"/>
<rect x="263.58" y="357.40" width="2.94" height="7.60" fill="#fdebb0"/>
<rect x="267.07" y="357.40" width="2.94" height="7.60" fill="#fcc75a"/>
<rect x="270.56" y="357.40" width="2.94" height="7.60" fill="#cc5a2a"/>
<rect x="274.05" y="357.40" width="2.94" height="7.60" fill="#fcc75a"/>
<rect x="277.54" y="357.40" width="2.94" height="7.60" fill="#fcc75a"/>
<rect x="281.03" y="357.40" width="2.94" height="7.60" fill="#cc5a2a"/>
<rect x="284.52" y="357.40" width="2.94" height="7.60" fill="#fdebb0"/>
<rect x="288.01" y="357.40" width="2.94" height="7.60" fill="#8a2f16"/>
<rect x="291.50" y="357.40" width="2.94" height="7.60" fill="#fffbe4"/>
<rect x="294.99" y="357.40" width="2.94" height="7.60" fill="#8a2f16"/>
<rect x="298.48" y="357.40" width="2.94" height="7.60" fill="#fcc75a"/>
<rect x="301.97" y="357.40" width="2.94" height="7.60" fill="#fffbe4"/>
<rect x="305.46" y="357.40" width="2.94" height="7.60" fill="#f59d3d"/>
<rect x="308.95" y="357.40" width="2.94" height="7.60" fill="#cc5a2a"/>
<rect x="312.44" y="357.40" width="2.94" height="7.60" fill="#fdebb0"/>
<rect x="315.93" y="357.40" width="2.94" height="7.60" fill="#fffbe4"/>
<rect x="319.42" y="357.40" width="2.94" height="7.60" fill="#fcc75a"/>
<rect x="322.91" y="357.40" width="2.94" height="7.60" fill="#fdebb0"/>
<rect x="326.40" y="357.40" width="2.94" height="7.60" fill="#fffbe4"/>
<rect x="329.89" y="357.40" width="2.94" height="7.60" fill="#fdebb0"/>
<rect x="333.38" y="357.40" width="2.94" height="7.60" fill="#f59d3d"/>
<rect x="336.87" y="357.40" width="2.94" height="7.60" fill="#fffbe4"/>
<rect x="340.36" y="357.40" width="2.94" height="7.60" fill="#fffbe4"/>
<rect x="343.85" y="357.40" width="2.94" height="7.60" fill="#fcc75a"/>
<rect x="347.34" y="357.40" width="2.94" height="7.60" fill="#fcc75a"/>
<rect x="350.83" y="357.40" width="2.94" height="7.60" fill="#f59d3d"/>
<rect x="354.32" y="357.40" width="2.94" height="7.60" fill="#f59d3d"/>
<rect x="357.81" y="357.40" width="2.94" height="7.60" fill="#f59d3d"/>
<rect x="361.30" y="357.40" width="2.94" height="7.60" fill="#f59d3d"/>
<rect x="364.79" y="357.40" width="2.94" height="7.60" fill="#f59d3d"/>
<rect x="368.28" y="357.40" width="2.94" height="7.60" fill="#fcc75a"/>
<rect x="371.77" y="357.40" width="2.94" height="7.60" fill="#fffbe4"/>
<rect x="375.26" y="357.40" width="2.94" height="7.60" fill="#8a2f16"/>
<rect x="378.75" y="357.40" width="2.94" height="7.60" fill="#fffbe4"/>
<rect x="382.24" y="357.40" width="2.94" height="7.60" fill="#f59d3d"/>
<rect x="385.73" y="357.40" width="2.94" height="7.60" fill="#f59d3d"/>
<rect x="47.20" y="365.80" width="2.94" height="7.60" fill="#f59d3d"/>
<rect x="50.69" y="365.80" width="2.94" height="7.60" fill="#f59d3d"/>
<rect x="54.18" y="365.80" width="2.94" height="7.60" fill="#cc5a2a"/>
<rect x="57.67" y="365.80" width="2.94" height="7.60" fill="#f59d3d"/>
<rect x="61.16" y="365.80" width="2.94" height="7.60" fill="#cc5a2a"/>
<rect x="64.65" y="365.80" width="2.94" height="7.60" fill="#f59d3d"/>
<rect x="68.14" y="365.80" width="2.94" height="7.60" fill="#fdebb0"/>
<rect x="71.63" y="365.80" width="2.94" height="7.60" fill="#fdebb0"/>
<rect x="75.12" y="365.80" width="2.94" height="7.60" fill="#cc5a2a"/>
<rect x="78.61" y="365.80" width="2.94" height="7.60" fill="#fdebb0"/>
<rect x="82.10" y="365.80" width="2.94" height="7.60" fill="#f59d3d"/>
<rect x="85.59" y="365.80" width="2.94" height="7.60" fill="#fcc75a"/>
<rect x="89.08" y="365.80" width="2.94" height="7.60" fill="#fdebb0"/>
<rect x="92.57" y="365.80" width="2.94" height="7.60" fill="#fdebb0"/>
<rect x="96.06" y="365.80" width="2.94" height="7.60" fill="#fcc75a"/>
<rect x="99.55" y="365.80" width="2.94" height="7.60" fill="#fdebb0"/>
<rect x="103.04" y="365.80" width="2.94" height="7.60" fill="#8a2f16"/>
<rect x="106.53" y="365.80" width="2.94" height="7.60" fill="#f59d3d"/>
<rect x="110.02" y="365.80" width="2.94" height="7.60" fill="#fcc75a"/>
<rect x="113.51" y="365.80" width="2.94" height="7.60" fill="#fffbe4"/>
<rect x="117.00" y="365.80" width="2.94" height="7.60" fill="#cc5a2a"/>
<rect x="120.49" y="365.80" width="2.94" height="7.60" fill="#8a2f16"/>
<rect x="123.98" y="365.80" width="2.94" height="7.60" fill="#fdebb0"/>
<rect x="127.47" y="365.80" width="2.94" height="7.60" fill="#8a2f16"/>
<rect x="130.96" y="365.80" width="2.94" height="7.60" fill="#fffbe4"/>
<rect x="134.45" y="365.80" width="2.94" height="7.60" fill="#f59d3d"/>
<rect x="137.94" y="365.80" width="2.94" height="7.60" fill="#f59d3d"/>
<rect x="141.43" y="365.80" width="2.94" height="7.60" fill="#fffbe4"/>
<rect x="144.92" y="365.80" width="2.94" height="7.60" fill="#fcc75a"/>
<rect x="148.41" y="365.80" width="2.94" height="7.60" fill="#8a2f16"/>
<rect x="151.90" y="365.80" width="2.94" height="7.60" fill="#cc5a2a"/>
<rect x="155.39" y="365.80" width="2.94" height="7.60" fill="#fcc75a"/>
<rect x="158.88" y="365.80" width="2.94" height="7.60" fill="#fdebb0"/>
<rect x="162.37" y="365.80" width="2.94" height="7.60" fill="#8a2f16"/>
<rect x="165.86" y="365.80" width="2.94" height="7.60" fill="#fdebb0"/>
<rect x="169.35" y="365.80" width="2.94" height="7.60" fill="#fffbe4"/>
<rect x="172.84" y="365.80" width="2.94" height="7.60" fill="#fffbe4"/>
<rect x="176.33" y="365.80" width="2.94" height="7.60" fill="#f59d3d"/>
<rect x="179.82" y="365.80" width="2.94" height="7.60" fill="#8a2f16"/>
<rect x="183.31" y="365.80" width="2.94" height="7.60" fill="#f59d3d"/>
<rect x="186.80" y="365.80" width="2.94" height="7.60" fill="#f59d3d"/>
<rect x="190.29" y="365.80" width="2.94" height="7.60" fill="#cc5a2a"/>
<rect x="193.78" y="365.80" width="2.94" height="7.60" fill="#fffbe4"/>
<rect x="197.27" y="365.80" width="2.94" height="7.60" fill="#fdebb0"/>
<rect x="200.76" y="365.80" width="2.94" height="7.60" fill="#f59d3d"/>
<rect x="204.25" y="365.80" width="2.94" height="7.60" fill="#8a2f16"/>
<rect x="207.74" y="365.80" width="2.94" height="7.60" fill="#f59d3d"/>
<rect x="211.23" y="365.80" width="2.94" height="7.60" fill="#fdebb0"/>
<rect x="214.72" y="365.80" width="2.94" height="7.60" fill="#fdebb0"/>
<rect x="218.21" y="365.80" width="2.94" height="7.60" fill="#fffbe4"/>
<rect x="221.70" y="365.80" width="2.94" height="7.60" fill="#fdebb0"/>
<rect x="225.19" y="365.80" width="2.94" height="7.60" fill="#fdebb0"/>
<rect x="228.68" y="365.80" width="2.94" height="7.60" fill="#fffbe4"/>
<rect x="232.17" y="365.80" width="2.94" height="7.60" fill="#8a2f16"/>
<rect x="235.66" y="365.80" width="2.94" height="7.60" fill="#f59d3d"/>
<rect x="239.15" y="365.80" width="2.94" height="7.60" fill="#fffbe4"/>
<rect x="242.64" y="365.80" width="2.94" height="7.60" fill="#cc5a2a"/>
<rect x="246.13" y="365.80" width="2.94" height="7.60" fill="#fcc75a"/>
<rect x="249.62" y="365.80" width="2.94" height="7.60" fill="#8a2f16"/>
<rect x="253.11" y="365.80" width="2.94" height="7.60" fill="#cc5a2a"/>
<rect x="256.60" y="365.80" width="2.94" height="7.60" fill="#cc5a2a"/>
<rect x="260.09" y="365.80" width="2.94" height="7.60" fill="#f59d3d"/>
<rect x="263.58" y="365.80" width="2.94" height="7.60" fill="#fffbe4"/>
<rect x="267.07" y="365.80" width="2.94" height="7.60" fill="#8a2f16"/>
<rect x="270.56" y="365.80" width="2.94" height="7.60" fill="#fcc75a"/>
<rect x="274.05" y="365.80" width="2.94" height="7.60" fill="#f59d3d"/>
<rect x="277.54" y="365.80" width="2.94" height="7.60" fill="#cc5a2a"/>
<rect x="281.03" y="365.80" width="2.94" height="7.60" fill="#8a2f16"/>
<rect x="284.52" y="365.80" width="2.94" height="7.60" fill="#f59d3d"/>
<rect x="288.01" y="365.80" width="2.94" height="7.60" fill="#cc5a2a"/>
<rect x="291.50" y="365.80" width="2.94" height="7.60" fill="#fffbe4"/>
<rect x="294.99" y="365.80" width="2.94" height="7.60" fill="#fdebb0"/>
<rect x="298.48" y="365.80" width="2.94" height="7.60" fill="#cc5a2a"/>
<rect x="301.97" y="365.80" width="2.94" height="7.60" fill="#f59d3d"/>
<rect x="305.46" y="365.80" width="2.94" height="7.60" fill="#fdebb0"/>
<rect x="308.95" y="365.80" width="2.94" height="7.60" fill="#fffbe4"/>
<rect x="312.44" y="365.80" width="2.94" height="7.60" fill="#cc5a2a"/>
<rect x="315.93" y="365.80" width="2.94" height="7.60" fill="#fffbe4"/>
<rect x="319.42" y="365.80" width="2.94" height="7.60" fill="#cc5a2a"/>
<rect x="322.91" y="365.80" width="2.94" height="7.60" fill="#8a2f16"/>
<rect x="326.40" y="365.80" width="2.94" height="7.60" fill="#fcc75a"/>
<rect x="329.89" y="365.80" width="2.94" height="7.60" fill="#8a2f16"/>
<rect x="333.38" y="365.80" width="2.94" height="7.60" fill="#fdebb0"/>
<rect x="336.87" y="365.80" width="2.94" height="7.60" fill="#fffbe4"/>
<rect x="340.36" y="365.80" width="2.94" height="7.60" fill="#fffbe4"/>
<rect x="343.85" y="365.80" width="2.94" height="7.60" fill="#8a2f16"/>
<rect x="347.34" y="365.80" width="2.94" height="7.60" fill="#cc5a2a"/>
<rect x="350.83" y="365.80" width="2.94" height="7.60" fill="#f59d3d"/>
<rect x="354.32" y="365.80" width="2.94" height="7.60" fill="#cc5a2a"/>
<rect x="357.81" y="365.80" width="2.94" height="7.60" fill="#fdebb0"/>
<rect x="361.30" y="365.80" width="2.94" height="7.60" fill="#8a2f16"/>
<rect x="364.79" y="365.80" width="2.94" height="7.60" fill="#cc5a2a"/>
<rect x="368.28" y="365.80" width="2.94" height="7.60" fill="#cc5a2a"/>
<rect x="371.77" y="365.80" width="2.94" height="7.60" fill="#f59d3d"/>
<rect x="375.26" y="365.80" width="2.94" height="7.60" fill="#cc5a2a"/>
<rect x="378.75" y="365.80" width="2.94" height="7.60" fill="#cc5a2a"/>
<rect x="382.24" y="365.80" width="2.94" height="7.60" fill="#8a2f16"/>
<rect x="385.73" y="365.80" width="2.94" height="7.60" fill="#f59d3d"/>
<rect x="47.20" y="374.20" width="2.94" height="7.60" fill="#fcc75a"/>
<rect x="50.69" y="374.20" width="2.94" height="7.60" fill="#8a2f16"/>
<rect x="54.18" y="374.20" width="2.94" height="7.60" fill="#fcc75a"/>
<rect x="57.67" y="374.20" width="2.94" height="7.60" fill="#f59d3d"/>
<rect x="61.16" y="374.20" width="2.94" height="7.60" fill="#cc5a2a"/>
<rect x="64.65" y="374.20" width="2.94" height="7.60" fill="#f59d3d"/>
<rect x="68.14" y="374.20" width="2.94" height="7.60" fill="#f59d3d"/>
<rect x="71.63" y="374.20" width="2.94" height="7.60" fill="#f59d3d"/>
<rect x="75.12" y="374.20" width="2.94" height="7.60" fill="#f59d3d"/>
<rect x="78.61" y="374.20" width="2.94" height="7.60" fill="#8a2f16"/>
<rect x="82.10" y="374.20" width="2.94" height="7.60" fill="#fdebb0"/>
<rect x="85.59" y="374.20" width="2.94" height="7.60" fill="#f59d3d"/>
<rect x="89.08" y="374.20" width="2.94" height="7.60" fill="#fdebb0"/>
<rect x="92.57" y="374.20" width="2.94" height="7.60" fill="#cc5a2a"/>
<rect x="96.06" y="374.20" width="2.94" height="7.60" fill="#f59d3d"/>
<rect x="99.55" y="374.20" width="2.94" height="7.60" fill="#fdebb0"/>
<rect x="103.04" y="374.20" width="2.94" height="7.60" fill="#fcc75a"/>
<rect x="106.53" y="374.20" width="2.94" height="7.60" fill="#fcc75a"/>
<rect x="110.02" y="374.20" width="2.94" height="7.60" fill="#fcc75a"/>
<rect x="113.51" y="374.20" width="2.94" height="7.60" fill="#fcc75a"/>
<rect x="117.00" y="374.20" width="2.94" height="7.60" fill="#fffbe4"/>
<rect x="120.49" y="374.20" width="2.94" height="7.60" fill="#f59d3d"/>
<rect x="123.98" y="374.20" width="2.94" height="7.60" fill="#f59d3d"/>
<rect x="127.47" y="374.20" width="2.94" height="7.60" fill="#cc5a2a"/>
<rect x="130.96" y="374.20" width="2.94" height="7.60" fill="#f59d3d"/>
<rect x="134.45" y="374.20" width="2.94" height="7.60" fill="#cc5a2a"/>
<rect x="137.94" y="374.20" width="2.94" height="7.60" fill="#8a2f16"/>
<rect x="141.43" y="374.20" width="2.94" height="7.60" fill="#fcc75a"/>
<rect x="144.92" y="374.20" width="2.94" height="7.60" fill="#f59d3d"/>
<rect x="148.41" y="374.20" width="2.94" height="7.60" fill="#f59d3d"/>
<rect x="151.90" y="374.20" width="2.94" height="7.60" fill="#cc5a2a"/>
<rect x="155.39" y="374.20" width="2.94" height="7.60" fill="#fcc75a"/>
<rect x="158.88" y="374.20" width="2.94" height="7.60" fill="#fcc75a"/>
<rect x="162.37" y="374.20" width="2.94" height="7.60" fill="#f59d3d"/>
<rect x="165.86" y="374.20" width="2.94" height="7.60" fill="#cc5a2a"/>
<rect x="169.35" y="374.20" width="2.94" height="7.60" fill="#fffbe4"/>
<rect x="172.84" y="374.20" width="2.94" height="7.60" fill="#f59d3d"/>
<rect x="176.33" y="374.20" width="2.94" height="7.60" fill="#8a2f16"/>
<rect x="179.82" y="374.20" width="2.94" height="7.60" fill="#8a2f16"/>
<rect x="183.31" y="374.20" width="2.94" height="7.60" fill="#f59d3d"/>
<rect x="186.80" y="374.20" width="2.94" height="7.60" fill="#8a2f16"/>
<rect x="190.29" y="374.20" width="2.94" height="7.60" fill="#fffbe4"/>
<rect x="193.78" y="374.20" width="2.94" height="7.60" fill="#f59d3d"/>
<rect x="197.27" y="374.20" width="2.94" height="7.60" fill="#f59d3d"/>
<rect x="200.76" y="374.20" width="2.94" height="7.60" fill="#8a2f16"/>
<rect x="204.25" y="374.20" width="2.94" height="7.60" fill="#cc5a2a"/>
<rect x="207.74" y="374.20" width="2.94" height="7.60" fill="#fcc75a"/>
<rect x="211.23" y="374.20" width="2.94" height="7.60" fill="#fdebb0"/>
<rect x="214.72" y="374.20" width="2.94" height="7.60" fill="#cc5a2a"/>
<rect x="218.21" y="374.20" width="2.94" height="7.60" fill="#fcc75a"/>
<rect x="221.70" y="374.20" width="2.94" height="7.60" fill="#fffbe4"/>
<rect x="225.19" y="374.20" width="2.94" height="7.60" fill="#fffbe4"/>
<rect x="228.68" y="374.20" width="2.94" height="7.60" fill="#fffbe4"/>
<rect x="232.17" y="374.20" width="2.94" height="7.60" fill="#f59d3d"/>
<rect x="235.66" y="374.20" width="2.94" height="7.60" fill="#f59d3d"/>
<rect x="239.15" y="374.20" width="2.94" height="7.60" fill="#8a2f16"/>
<rect x="242.64" y="374.20" width="2.94" height="7.60" fill="#cc5a2a"/>
<rect x="246.13" y="374.20" width="2.94" height="7.60" fill="#f59d3d"/>
<rect x="249.62" y="374.20" width="2.94" height="7.60" fill="#cc5a2a"/>
<rect x="253.11" y="374.20" width="2.94" height="7.60" fill="#8a2f16"/>
<rect x="256.60" y="374.20" width="2.94" height="7.60" fill="#fcc75a"/>
<rect x="260.09" y="374.20" width="2.94" height="7.60" fill="#fcc75a"/>
<rect x="263.58" y="374.20" width="2.94" height="7.60" fill="#fcc75a"/>
<rect x="267.07" y="374.20" width="2.94" height="7.60" fill="#cc5a2a"/>
<rect x="270.56" y="374.20" width="2.94" height="7.60" fill="#8a2f16"/>
<rect x="274.05" y="374.20" width="2.94" height="7.60" fill="#cc5a2a"/>
<rect x="277.54" y="374.20" width="2.94" height="7.60" fill="#f59d3d"/>
<rect x="281.03" y="374.20" width="2.94" height="7.60" fill="#f59d3d"/>
<rect x="284.52" y="374.20" width="2.94" height="7.60" fill="#cc5a2a"/>
<rect x="288.01" y="374.20" width="2.94" height="7.60" fill="#8a2f16"/>
<rect x="291.50" y="374.20" width="2.94" height="7.60" fill="#fdebb0"/>
<rect x="294.99" y="374.20" width="2.94" height="7.60" fill="#f59d3d"/>
<rect x="298.48" y="374.20" width="2.94" height="7.60" fill="#cc5a2a"/>
<rect x="301.97" y="374.20" width="2.94" height="7.60" fill="#f59d3d"/>
<rect x="305.46" y="374.20" width="2.94" height="7.60" fill="#fcc75a"/>
<rect x="308.95" y="374.20" width="2.94" height="7.60" fill="#fcc75a"/>
<rect x="312.44" y="374.20" width="2.94" height="7.60" fill="#f59d3d"/>
<rect x="315.93" y="374.20" width="2.94" height="7.60" fill="#f59d3d"/>
<rect x="319.42" y="374.20" width="2.94" height="7.60" fill="#fcc75a"/>
<rect x="322.91" y="374.20" width="2.94" height="7.60" fill="#fcc75a"/>
<rect x="326.40" y="374.20" width="2.94" height="7.60" fill="#f59d3d"/>
<rect x="329.89" y="374.20" width="2.94" height="7.60" fill="#cc5a2a"/>
<rect x="333.38" y="374.20" width="2.94" height="7.60" fill="#cc5a2a"/>
<rect x="336.87" y="374.20" width="2.94" height="7.60" fill="#fdebb0"/>
<rect x="340.36" y="374.20" width="2.94" height="7.60" fill="#8a2f16"/>
<rect x="343.85" y="374.20" width="2.94" height="7.60" fill="#f59d3d"/>
<rect x="347.34" y="374.20" width="2.94" height="7.60" fill="#8a2f16"/>
<rect x="350.83" y="374.20" width="2.94" height="7.60" fill="#fdebb0"/>
<rect x="354.32" y="374.20" width="2.94" height="7.60" fill="#cc5a2a"/>
<rect x="357.81" y="374.20" width="2.94" height="7.60" fill="#f59d3d"/>
<rect x="361.30" y="374.20" width="2.94" height="7.60" fill="#f59d3d"/>
<rect x="364.79" y="374.20" width="2.94" height="7.60" fill="#fcc75a"/>
<rect x="368.28" y="374.20" width="2.94" height="7.60" fill="#cc5a2a"/>
<rect x="371.77" y="374.20" width="2.94" height="7.60" fill="#f59d3d"/>
<rect x="375.26" y="374.20" width="2.94" height="7.60" fill="#cc5a2a"/>
<rect x="378.75" y="374.20" width="2.94" height="7.60" fill="#f59d3d"/>
<rect x="382.24" y="374.20" width="2.94" height="7.60" fill="#fdebb0"/>
<rect x="385.73" y="374.20" width="2.94" height="7.60" fill="#8a2f16"/>
<rect x="47.20" y="382.60" width="2.94" height="7.60" fill="#cc5a2a"/>
<rect x="50.69" y="382.60" width="2.94" height="7.60" fill="#f59d3d"/>
<rect x="54.18" y="382.60" width="2.94" height="7.60" fill="#8a2f16"/>
<rect x="57.67" y="382.60" width="2.94" height="7.60" fill="#fffbe4"/>
<rect x="61.16" y="382.60" width="2.94" height="7.60" fill="#fdebb0"/>
<rect x="64.65" y="382.60" width="2.94" height="7.60" fill="#fffbe4"/>
<rect x="68.14" y="382.60" width="2.94" height="7.60" fill="#fffbe4"/>
<rect x="71.63" y="382.60" width="2.94" height="7.60" fill="#fffbe4"/>
<rect x="75.12" y="382.60" width="2.94" height="7.60" fill="#fffbe4"/>
<rect x="78.61" y="382.60" width="2.94" height="7.60" fill="#fdebb0"/>
<rect x="82.10" y="382.60" width="2.94" height="7.60" fill="#8a2f16"/>
<rect x="85.59" y="382.60" width="2.94" height="7.60" fill="#f59d3d"/>
<rect x="89.08" y="382.60" width="2.94" height="7.60" fill="#8a2f16"/>
<rect x="92.57" y="382.60" width="2.94" height="7.60" fill="#fdebb0"/>
<rect x="96.06" y="382.60" width="2.94" height="7.60" fill="#f59d3d"/>
<rect x="99.55" y="382.60" width="2.94" height="7.60" fill="#cc5a2a"/>
<rect x="103.04" y="382.60" width="2.94" height="7.60" fill="#fdebb0"/>
<rect x="106.53" y="382.60" width="2.94" height="7.60" fill="#8a2f16"/>
<rect x="110.02" y="382.60" width="2.94" height="7.60" fill="#8a2f16"/>
<rect x="113.51" y="382.60" width="2.94" height="7.60" fill="#cc5a2a"/>
<rect x="117.00" y="382.60" width="2.94" height="7.60" fill="#fffbe4"/>
<rect x="120.49" y="382.60" width="2.94" height="7.60" fill="#fdebb0"/>
<rect x="123.98" y="382.60" width="2.94" height="7.60" fill="#fcc75a"/>
<rect x="127.47" y="382.60" width="2.94" height="7.60" fill="#fcc75a"/>
<rect x="130.96" y="382.60" width="2.94" height="7.60" fill="#fdebb0"/>
<rect x="134.45" y="382.60" width="2.94" height="7.60" fill="#fdebb0"/>
<rect x="137.94" y="382.60" width="2.94" height="7.60" fill="#fdebb0"/>
<rect x="141.43" y="382.60" width="2.94" height="7.60" fill="#fdebb0"/>
<rect x="144.92" y="382.60" width="2.94" height="7.60" fill="#fcc75a"/>
<rect x="148.41" y="382.60" width="2.94" height="7.60" fill="#fcc75a"/>
<rect x="151.90" y="382.60" width="2.94" height="7.60" fill="#fcc75a"/>
<rect x="155.39" y="382.60" width="2.94" height="7.60" fill="#8a2f16"/>
<rect x="158.88" y="382.60" width="2.94" height="7.60" fill="#fdebb0"/>
<rect x="162.37" y="382.60" width="2.94" height="7.60" fill="#fffbe4"/>
<rect x="165.86" y="382.60" width="2.94" height="7.60" fill="#fcc75a"/>
<rect x="169.35" y="382.60" width="2.94" height="7.60" fill="#fcc75a"/>
<rect x="172.84" y="382.60" width="2.94" height="7.60" fill="#fffbe4"/>
<rect x="176.33" y="382.60" width="2.94" height="7.60" fill="#fffbe4"/>
<rect x="179.82" y="382.60" width="2.94" height="7.60" fill="#fffbe4"/>
<rect x="183.31" y="382.60" width="2.94" height="7.60" fill="#fffbe4"/>
<rect x="186.80" y="382.60" width="2.94" height="7.60" fill="#fffbe4"/>
<rect x="190.29" y="382.60" width="2.94" height="7.60" fill="#fffbe4"/>
<rect x="193.78" y="382.60" width="2.94" height="7.60" fill="#fffbe4"/>
<rect x="197.27" y="382.60" width="2.94" height="7.60" fill="#cc5a2a"/>
<rect x="200.76" y="382.60" width="2.94" height="7.60" fill="#fffbe4"/>
<rect x="204.25" y="382.60" width="2.94" height="7.60" fill="#fffbe4"/>
<rect x="207.74" y="382.60" width="2.94" height="7.60" fill="#cc5a2a"/>
<rect x="211.23" y="382.60" width="2.94" height="7.60" fill="#cc5a2a"/>
<rect x="214.72" y="382.60" width="2.94" height="7.60" fill="#fffbe4"/>
<rect x="218.21" y="382.60" width="2.94" height="7.60" fill="#cc5a2a"/>
<rect x="221.70" y="382.60" width="2.94" height="7.60" fill="#8a2f16"/>
<rect x="225.19" y="382.60" width="2.94" height="7.60" fill="#cc5a2a"/>
<rect x="228.68" y="382.60" width="2.94" height="7.60" fill="#cc5a2a"/>
<rect x="232.17" y="382.60" width="2.94" height="7.60" fill="#fffbe4"/>
<rect x="235.66" y="382.60" width="2.94" height="7.60" fill="#fcc75a"/>
<rect x="239.15" y="382.60" width="2.94" height="7.60" fill="#fffbe4"/>
<rect x="242.64" y="382.60" width="2.94" height="7.60" fill="#fffbe4"/>
<rect x="246.13" y="382.60" width="2.94" height="7.60" fill="#fffbe4"/>
<rect x="249.62" y="382.60" width="2.94" height="7.60" fill="#fffbe4"/>
<rect x="253.11" y="382.60" width="2.94" height="7.60" fill="#fffbe4"/>
<rect x="256.60" y="382.60" width="2.94" height="7.60" fill="#fffbe4"/>
<rect x="260.09" y="382.60" width="2.94" height="7.60" fill="#f59d3d"/>
<rect x="263.58" y="382.60" width="2.94" height="7.60" fill="#cc5a2a"/>
<rect x="267.07" y="382.60" width="2.94" height="7.60" fill="#fffbe4"/>
<rect x="270.56" y="382.60" width="2.94" height="7.60" fill="#fffbe4"/>
<rect x="274.05" y="382.60" width="2.94" height="7.60" fill="#fffbe4"/>
<rect x="277.54" y="382.60" width="2.94" height="7.60" fill="#f59d3d"/>
<rect x="281.03" y="382.60" width="2.94" height="7.60" fill="#8a2f16"/>
<rect x="284.52" y="382.60" width="2.94" height="7.60" fill="#fffbe4"/>
<rect x="288.01" y="382.60" width="2.94" height="7.60" fill="#fcc75a"/>
<rect x="291.50" y="382.60" width="2.94" height="7.60" fill="#fffbe4"/>
<rect x="294.99" y="382.60" width="2.94" height="7.60" fill="#fcc75a"/>
<rect x="298.48" y="382.60" width="2.94" height="7.60" fill="#fffbe4"/>
<rect x="301.97" y="382.60" width="2.94" height="7.60" fill="#fffbe4"/>
<rect x="305.46" y="382.60" width="2.94" height="7.60" fill="#cc5a2a"/>
<rect x="308.95" y="382.60" width="2.94" height="7.60" fill="#fffbe4"/>
<rect x="312.44" y="382.60" width="2.94" height="7.60" fill="#fffbe4"/>
<rect x="315.93" y="382.60" width="2.94" height="7.60" fill="#fffbe4"/>
<rect x="319.42" y="382.60" width="2.94" height="7.60" fill="#fffbe4"/>
<rect x="322.91" y="382.60" width="2.94" height="7.60" fill="#fcc75a"/>
<rect x="326.40" y="382.60" width="2.94" height="7.60" fill="#fffbe4"/>
<rect x="329.89" y="382.60" width="2.94" height="7.60" fill="#fffbe4"/>
<rect x="333.38" y="382.60" width="2.94" height="7.60" fill="#cc5a2a"/>
<rect x="336.87" y="382.60" width="2.94" height="7.60" fill="#cc5a2a"/>
<rect x="340.36" y="382.60" width="2.94" height="7.60" fill="#fffbe4"/>
<rect x="343.85" y="382.60" width="2.94" height="7.60" fill="#fffbe4"/>
<rect x="347.34" y="382.60" width="2.94" height="7.60" fill="#fffbe4"/>
<rect x="350.83" y="382.60" width="2.94" height="7.60" fill="#cc5a2a"/>
<rect x="354.32" y="382.60" width="2.94" height="7.60" fill="#fffbe4"/>
<rect x="357.81" y="382.60" width="2.94" height="7.60" fill="#fffbe4"/>
<rect x="361.30" y="382.60" width="2.94" height="7.60" fill="#fffbe4"/>
<rect x="364.79" y="382.60" width="2.94" height="7.60" fill="#f59d3d"/>
<rect x="368.28" y="382.60" width="2.94" height="7.60" fill="#fffbe4"/>
<rect x="371.77" y="382.60" width="2.94" height="7.60" fill="#fffbe4"/>
<rect x="375.26" y="382.60" width="2.94" height="7.60" fill="#fcc75a"/>
<rect x="378.75" y="382.60" width="2.94" height="7.60" fill="#fffbe4"/>
<rect x="382.24" y="382.60" width="2.94" height="7.60" fill="#cc5a2a"/>
<rect x="385.73" y="382.60" width="2.94" height="7.60" fill="#fffbe4"/>
<rect x="47.20" y="391.00" width="2.94" height="7.60" fill="#fdebb0"/>
<rect x="50.69" y="391.00" width="2.94" height="7.60" fill="#8a2f16"/>
<rect x="54.18" y="391.00" width="2.94" height="7.60" fill="#8a2f16"/>
<rect x="57.67" y="391.00" width="2.94" height="7.60" fill="#fffbe4"/>
<rect x="61.16" y="391.00" width="2.94" height="7.60" fill="#b8b8b0"/>
<rect x="64.65" y="391.00" width="2.94" height="7.60" fill="#fffbe4"/>
<rect x="68.14" y="391.00" width="2.94" height="7.60" fill="#fdebb0"/>
<rect x="71.63" y="391.00" width="2.94" height="7.60" fill="#cc5a2a"/>
<rect x="75.12" y="391.00" width="2.94" height="7.60" fill="#cc5a2a"/>
<rect x="78.61" y="391.00" width="2.94" height="7.60" fill="#fffbe4"/>
<rect x="82.10" y="391.00" width="2.94" height="7.60" fill="#8a2f16"/>
<rect x="85.59" y="391.00" width="2.94" height="7.60" fill="#fffbe4"/>
<rect x="89.08" y="391.00" width="2.94" height="7.60" fill="#cc5a2a"/>
<rect x="92.57" y="391.00" width="2.94" height="7.60" fill="#fffbe4"/>
<rect x="96.06" y="391.00" width="2.94" height="7.60" fill="#cc5a2a"/>
<rect x="99.55" y="391.00" width="2.94" height="7.60" fill="#fffbe4"/>
<rect x="103.04" y="391.00" width="2.94" height="7.60" fill="#cc5a2a"/>
<rect x="106.53" y="391.00" width="2.94" height="7.60" fill="#fffbe4"/>
<rect x="110.02" y="391.00" width="2.94" height="7.60" fill="#8a2f16"/>
<rect x="113.51" y="391.00" width="2.94" height="7.60" fill="#fffbe4"/>
<rect x="117.00" y="391.00" width="2.94" height="7.60" fill="#fffbe4"/>
<rect x="120.49" y="391.00" width="2.94" height="7.60" fill="#fffbe4"/>
<rect x="123.98" y="391.00" width="2.94" height="7.60" fill="#cc5a2a"/>
<rect x="127.47" y="391.00" width="2.94" height="7.60" fill="#fffbe4"/>
<rect x="130.96" y="391.00" width="2.94" height="7.60" fill="#8a2f16"/>
<rect x="134.45" y="391.00" width="2.94" height="7.60" fill="#fffbe4"/>
<rect x="137.94" y="391.00" width="2.94" height="7.60" fill="#fffbe4"/>
<rect x="141.43" y="391.00" width="2.94" height="7.60" fill="#f59d3d"/>
<rect x="144.92" y="391.00" width="2.94" height="7.60" fill="#cc5a2a"/>
<rect x="148.41" y="391.00" width="2.94" height="7.60" fill="#fffbe4"/>
<rect x="151.90" y="391.00" width="2.94" height="7.60" fill="#f59d3d"/>
<rect x="155.39" y="391.00" width="2.94" height="7.60" fill="#cc5a2a"/>
<rect x="158.88" y="391.00" width="2.94" height="7.60" fill="#fffbe4"/>
<rect x="162.37" y="391.00" width="2.94" height="7.60" fill="#cc5a2a"/>
<rect x="165.86" y="391.00" width="2.94" height="7.60" fill="#b8b8b0"/>
<rect x="169.35" y="391.00" width="2.94" height="7.60" fill="#fffbe4"/>
<rect x="172.84" y="391.00" width="2.94" height="7.60" fill="#8a2f16"/>
<rect x="176.33" y="391.00" width="2.94" height="7.60" fill="#fffbe4"/>
<rect x="179.82" y="391.00" width="2.94" height="7.60" fill="#cc5a2a"/>
<rect x="183.31" y="391.00" width="2.94" height="7.60" fill="#cc5a2a"/>
<rect x="186.80" y="391.00" width="2.94" height="7.60" fill="#fffbe4"/>
<rect x="190.29" y="391.00" width="2.94" height="7.60" fill="#cc5a2a"/>
<rect x="193.78" y="391.00" width="2.94" height="7.60" fill="#cc5a2a"/>
<rect x="197.27" y="391.00" width="2.94" height="7.60" fill="#cc5a2a"/>
<rect x="200.76" y="391.00" width="2.94" height="7.60" fill="#fffbe4"/>
<rect x="204.25" y="391.00" width="2.94" height="7.60" fill="#fffbe4"/>
<rect x="207.74" y="391.00" width="2.94" height="7.60" fill="#fffbe4"/>
<rect x="211.23" y="391.00" width="2.94" height="7.60" fill="#8a2f16"/>
<rect x="214.72" y="391.00" width="2.94" height="7.60" fill="#f59d3d"/>
<rect x="218.21" y="391.00" width="2.94" height="7.60" fill="#fcc75a"/>
<rect x="221.70" y="391.00" width="2.94" height="7.60" fill="#8a2f16"/>
<rect x="225.19" y="391.00" width="2.94" height="7.60" fill="#8a2f16"/>
<rect x="228.68" y="391.00" width="2.94" height="7.60" fill="#cc5a2a"/>
<rect x="232.17" y="391.00" width="2.94" height="7.60" fill="#fffbe4"/>
<rect x="235.66" y="391.00" width="2.94" height="7.60" fill="#fdebb0"/>
<rect x="239.15" y="391.00" width="2.94" height="7.60" fill="#fffbe4"/>
<rect x="242.64" y="391.00" width="2.94" height="7.60" fill="#fffbe4"/>
<rect x="246.13" y="391.00" width="2.94" height="7.60" fill="#8a2f16"/>
<rect x="249.62" y="391.00" width="2.94" height="7.60" fill="#cc5a2a"/>
<rect x="253.11" y="391.00" width="2.94" height="7.60" fill="#fffbe4"/>
<rect x="256.60" y="391.00" width="2.94" height="7.60" fill="#fffbe4"/>
<rect x="260.09" y="391.00" width="2.94" height="7.60" fill="#fffbe4"/>
<rect x="263.58" y="391.00" width="2.94" height="7.60" fill="#cc5a2a"/>
<rect x="267.07" y="391.00" width="2.94" height="7.60" fill="#fffbe4"/>
<rect x="270.56" y="391.00" width="2.94" height="7.60" fill="#cc5a2a"/>
<rect x="274.05" y="391.00" width="2.94" height="7.60" fill="#fffbe4"/>
<rect x="277.54" y="391.00" width="2.94" height="7.60" fill="#fcc75a"/>
<rect x="281.03" y="391.00" width="2.94" height="7.60" fill="#f59d3d"/>
<rect x="284.52" y="391.00" width="2.94" height="7.60" fill="#b8b8b0"/>
<rect x="288.01" y="391.00" width="2.94" height="7.60" fill="#8a2f16"/>
<rect x="291.50" y="391.00" width="2.94" height="7.60" fill="#b8b8b0"/>
<rect x="294.99" y="391.00" width="2.94" height="7.60" fill="#fffbe4"/>
<rect x="298.48" y="391.00" width="2.94" height="7.60" fill="#8a2f16"/>
<rect x="301.97" y="391.00" width="2.94" height="7.60" fill="#8a2f16"/>
<rect x="305.46" y="391.00" width="2.94" height="7.60" fill="#fffbe4"/>
<rect x="308.95" y="391.00" width="2.94" height="7.60" fill="#fdebb0"/>
<rect x="312.44" y="391.00" width="2.94" height="7.60" fill="#fffbe4"/>
<rect x="315.93" y="391.00" width="2.94" height="7.60" fill="#f59d3d"/>
<rect x="319.42" y="391.00" width="2.94" height="7.60" fill="#fffbe4"/>
<rect x="322.91" y="391.00" width="2.94" height="7.60" fill="#fffbe4"/>
<rect x="326.40" y="391.00" width="2.94" height="7.60" fill="#fdebb0"/>
<rect x="329.89" y="391.00" width="2.94" height="7.60" fill="#fffbe4"/>
<rect x="333.38" y="391.00" width="2.94" height="7.60" fill="#f59d3d"/>
<rect x="336.87" y="391.00" width="2.94" height="7.60" fill="#8a2f16"/>
<rect x="340.36" y="391.00" width="2.94" height="7.60" fill="#cc5a2a"/>
<rect x="343.85" y="391.00" width="2.94" height="7.60" fill="#fffbe4"/>
<rect x="347.34" y="391.00" width="2.94" height="7.60" fill="#8a2f16"/>
<rect x="350.83" y="391.00" width="2.94" height="7.60" fill="#fffbe4"/>
<rect x="354.32" y="391.00" width="2.94" height="7.60" fill="#fdebb0"/>
<rect x="357.81" y="391.00" width="2.94" height="7.60" fill="#8a2f16"/>
<rect x="361.30" y="391.00" width="2.94" height="7.60" fill="#fffbe4"/>
<rect x="364.79" y="391.00" width="2.94" height="7.60" fill="#cc5a2a"/>
<rect x="368.28" y="391.00" width="2.94" height="7.60" fill="#cc5a2a"/>
<rect x="371.77" y="391.00" width="2.94" height="7.60" fill="#fffbe4"/>
<rect x="375.26" y="391.00" width="2.94" height="7.60" fill="#fdebb0"/>
<rect x="378.75" y="391.00" width="2.94" height="7.60" fill="#b8b8b0"/>
<rect x="382.24" y="391.00" width="2.94" height="7.60" fill="#b8b8b0"/>
<rect x="385.73" y="391.00" width="2.94" height="7.60" fill="#fffbe4"/>
<text x="392.70" y="362.40" font-size="8.4" font-weight="normal" font-style="normal" text-anchor="start" fill="#333" textLength="13.2" lengthAdjust="spacingAndGlyphs">WBC</text>
<text x="392.70" y="370.80" font-size="8.4" font-weight="normal" font-style="normal" text-anchor="start" fill="#333" textLength="10.5" lengthAdjust="spacingAndGlyphs">PLT</text>
<text x="392.70" y="379.90" font-size="8.4" font-weight="normal" font-style="normal" text-anchor="start" fill="#333" textLength="12.6" lengthAdjust="spacingAndGlyphs">HGB</text>
<text x="392.70" y="388.20" font-size="8.4" font-weight="normal" font-style="normal" text-anchor="start" fill="#333" textLength="15.5" lengthAdjust="spacingAndGlyphs">DIPSS</text>
<text x="392.70" y="398.30" font-size="8.4" font-weight="normal" font-style="normal" text-anchor="start" fill="#333" textLength="27.3" lengthAdjust="spacingAndGlyphs">Spleen size</text>
<rect x="57.00" y="407.20" width="4.80" height="4.60" fill="#37a348"/>
<text x="70.00" y="412.80" font-size="9.2" font-weight="normal" font-style="normal" text-anchor="start" fill="#111" textLength="101.0" lengthAdjust="spacingAndGlyphs" stroke="#111" stroke-width="0.2">Missense_Mutation</text>
<rect x="57.00" y="418.20" width="4.80" height="4.60" fill="#e3262b"/>
<text x="70.00" y="423.80" font-size="9.2" font-weight="normal" font-style="normal" text-anchor="start" fill="#111" textLength="104.0" lengthAdjust="spacingAndGlyphs" stroke="#111" stroke-width="0.2">Nonsense_Mutation</text>
<rect x="57.00" y="429.40" width="4.80" height="4.60" fill="#6b3f9c"/>
<text x="70.00" y="435.00" font-size="9.2" font-weight="normal" font-style="normal" text-anchor="start" fill="#111" textLength="85.6" lengthAdjust="spacingAndGlyphs" stroke="#111" stroke-width="0.2">Frame_Shift_Ins</text>
<rect x="57.00" y="441.00" width="4.80" height="4.60" fill="#f58a2c"/>
<text x="70.00" y="446.60" font-size="9.2" font-weight="normal" font-style="normal" text-anchor="start" fill="#111" textLength="57.4" lengthAdjust="spacingAndGlyphs" stroke="#111" stroke-width="0.2">Splice_Site</text>
<rect x="181.30" y="407.00" width="4.80" height="4.60" fill="#2f7fc0"/>
<text x="194.80" y="412.60" font-size="9.2" font-weight="normal" font-style="normal" text-anchor="start" fill="#111" textLength="87.1" lengthAdjust="spacingAndGlyphs" stroke="#111" stroke-width="0.2">Frame_Shift_Del</text>
<rect x="181.30" y="417.90" width="4.80" height="4.60" fill="#b15928"/>
<text x="194.80" y="423.50" font-size="9.2" font-weight="normal" font-style="normal" text-anchor="start" fill="#111" textLength="73.1" lengthAdjust="spacingAndGlyphs" stroke="#111" stroke-width="0.2">In_Frame_Del</text>
<rect x="181.30" y="428.70" width="4.80" height="4.60" fill="#1c1c1c"/>
<text x="194.80" y="434.30" font-size="9.2" font-weight="normal" font-style="normal" text-anchor="start" fill="#111" textLength="44.2" lengthAdjust="spacingAndGlyphs" stroke="#111" stroke-width="0.2">Multi_Hit</text>
<rect x="52.80" y="508.49" width="5.08" height="3.72" fill="#e3262b"/>
<rect x="52.80" y="512.16" width="5.08" height="3.72" fill="#37a348"/>
<rect x="52.80" y="515.83" width="5.08" height="3.72" fill="#2f7fc0"/>
<rect x="58.38" y="497.48" width="5.08" height="18.40" fill="#37a348"/>
<rect x="58.38" y="515.83" width="5.08" height="3.72" fill="#6b3f9c"/>
<rect x="63.96" y="497.48" width="5.08" height="22.07" fill="#37a348"/>
<rect x="69.54" y="497.48" width="5.08" height="3.72" fill="#e3262b"/>
<rect x="69.54" y="501.15" width="5.08" height="11.06" fill="#37a348"/>
<rect x="69.54" y="512.16" width="5.08" height="3.72" fill="#6b3f9c"/>
<rect x="69.54" y="515.83" width="5.08" height="3.72" fill="#2f7fc0"/>
<rect x="75.12" y="512.16" width="5.08" height="3.72" fill="#37a348"/>
<rect x="75.12" y="515.83" width="5.08" height="3.72" fill="#2f7fc0"/>
<rect x="80.70" y="493.81" width="5.08" height="7.39" fill="#e3262b"/>
<rect x="80.70" y="501.15" width="5.08" height="7.39" fill="#37a348"/>
<rect x="80.70" y="508.49" width="5.08" height="3.72" fill="#6b3f9c"/>
<rect x="80.70" y="512.16" width="5.08" height="7.39" fill="#2f7fc0"/>
<rect x="86.28" y="512.16" width="5.08" height="7.39" fill="#37a348"/>
<rect x="91.86" y="497.48" width="5.08" height="14.73" fill="#37a348"/>
<rect x="91.86" y="512.16" width="5.08" height="3.72" fill="#b15928"/>
<rect x="91.86" y="515.83" width="5.08" height="3.72" fill="#2f7fc0"/>
<rect x="97.44" y="501.15" width="5.08" height="14.73" fill="#37a348"/>
<rect x="97.44" y="515.83" width="5.08" height="3.72" fill="#f58a2c"/>
<rect x="103.02" y="490.14" width="5.08" height="3.72" fill="#e3262b"/>
<rect x="103.02" y="493.81" width="5.08" height="18.40" fill="#37a348"/>
<rect x="103.02" y="512.16" width="5.08" height="3.72" fill="#6b3f9c"/>
<rect x="103.02" y="515.83" width="5.08" height="3.72" fill="#2f7fc0"/>
<rect x="108.60" y="501.15" width="5.08" height="14.73" fill="#37a348"/>
<rect x="108.60" y="515.83" width="5.08" height="3.72" fill="#2f7fc0"/>
<rect x="114.18" y="504.82" width="5.08" height="11.06" fill="#37a348"/>
<rect x="114.18" y="515.83" width="5.08" height="3.72" fill="#6b3f9c"/>
<rect x="119.76" y="504.82" width="5.08" height="14.73" fill="#37a348"/>
<rect x="125.34" y="508.49" width="5.08" height="11.06" fill="#37a348"/>
<rect x="130.92" y="512.16" width="5.08" height="7.39" fill="#37a348"/>
<rect x="136.50" y="512.16" width="5.08" height="3.72" fill="#37a348"/>
<rect x="136.50" y="515.83" width="5.08" height="3.72" fill="#6b3f9c"/>
<rect x="142.08" y="501.15" width="5.08" height="3.72" fill="#f58a2c"/>
<rect x="142.08" y="504.82" width="5.08" height="14.73" fill="#37a348"/>
<rect x="147.66" y="475.46" width="5.08" height="3.72" fill="#f58a2c"/>
<rect x="147.66" y="479.13" width="5.08" height="40.42" fill="#37a348"/>
<rect x="153.24" y="490.14" width="5.08" height="3.72" fill="#f58a2c"/>
<rect x="153.24" y="493.81" width="5.08" height="22.07" fill="#37a348"/>
<rect x="153.24" y="515.83" width="5.08" height="3.72" fill="#6b3f9c"/>
<rect x="158.82" y="504.82" width="5.08" height="7.39" fill="#37a348"/>
<rect x="158.82" y="512.16" width="5.08" height="3.72" fill="#f58a2c"/>
<rect x="158.82" y="515.83" width="5.08" height="3.72" fill="#6b3f9c"/>
<rect x="164.40" y="504.82" width="5.08" height="11.06" fill="#37a348"/>
<rect x="164.40" y="515.83" width="5.08" height="3.72" fill="#6b3f9c"/>
<rect x="169.98" y="508.49" width="5.08" height="7.39" fill="#37a348"/>
<rect x="169.98" y="515.83" width="5.08" height="3.72" fill="#6b3f9c"/>
<rect x="175.56" y="504.82" width="5.08" height="14.73" fill="#37a348"/>
<rect x="181.14" y="512.16" width="5.08" height="7.39" fill="#37a348"/>
<rect x="186.72" y="486.47" width="5.08" height="3.72" fill="#e3262b"/>
<rect x="186.72" y="490.14" width="5.08" height="14.73" fill="#37a348"/>
<rect x="186.72" y="504.82" width="5.08" height="7.39" fill="#6b3f9c"/>
<rect x="186.72" y="512.16" width="5.08" height="7.39" fill="#2f7fc0"/>
<rect x="192.30" y="512.16" width="5.08" height="3.72" fill="#e3262b"/>
<rect x="192.30" y="515.83" width="5.08" height="3.72" fill="#2f7fc0"/>
<rect x="197.88" y="508.49" width="5.08" height="7.39" fill="#37a348"/>
<rect x="197.88" y="515.83" width="5.08" height="3.72" fill="#2f7fc0"/>
<rect x="203.46" y="508.49" width="5.08" height="7.39" fill="#37a348"/>
<rect x="203.46" y="515.83" width="5.08" height="3.72" fill="#6b3f9c"/>
<rect x="209.04" y="508.49" width="5.08" height="7.39" fill="#37a348"/>
<rect x="209.04" y="515.83" width="5.08" height="3.72" fill="#2f7fc0"/>
<rect x="214.62" y="515.83" width="5.08" height="3.72" fill="#2f7fc0"/>
<rect x="220.20" y="508.49" width="5.08" height="3.72" fill="#f58a2c"/>
<rect x="220.20" y="512.16" width="5.08" height="7.39" fill="#2f7fc0"/>
<path d="M48.6 475.4 H50.4 V519.6 H48.6" fill="none" stroke="#111" stroke-width="0.8"/>
<text x="45.60" y="477.00" font-size="4.8" font-weight="normal" font-style="normal" text-anchor="end" fill="#222" textLength="4.2" lengthAdjust="spacingAndGlyphs">12</text>
<text x="45.90" y="521.20" font-size="4.8" font-weight="normal" font-style="normal" text-anchor="end" fill="#222" textLength="2.3" lengthAdjust="spacingAndGlyphs">0</text>
<rect x="52.50" y="523.60" width="173.28" height="181.80" fill="#e4e4e4"/>
<rect x="52.80" y="524.00" width="4.98" height="14.30" fill="#37a348"/>
<rect x="58.38" y="524.00" width="4.98" height="14.30" fill="#37a348"/>
<rect x="63.96" y="524.00" width="4.98" height="14.30" fill="#37a348"/>
<rect x="69.54" y="524.00" width="4.98" height="14.30" fill="#37a348"/>
<rect x="75.12" y="524.00" width="4.98" height="14.30" fill="#37a348"/>
<rect x="80.70" y="524.00" width="4.98" height="14.30" fill="#37a348"/>
<rect x="86.28" y="524.00" width="4.98" height="14.30" fill="#37a348"/>
<rect x="91.86" y="524.00" width="4.98" height="14.30" fill="#37a348"/>
<rect x="97.44" y="524.00" width="4.98" height="14.30" fill="#37a348"/>
<rect x="103.02" y="524.00" width="4.98" height="14.30" fill="#37a348"/>
<rect x="108.60" y="524.00" width="4.98" height="14.30" fill="#37a348"/>
<rect x="114.18" y="524.00" width="4.98" height="14.30" fill="#37a348"/>
<rect x="119.76" y="524.00" width="4.98" height="14.30" fill="#37a348"/>
<rect x="125.34" y="524.00" width="4.98" height="14.30" fill="#37a348"/>
<rect x="130.92" y="524.00" width="4.98" height="14.30" fill="#37a348"/>
<rect x="136.50" y="524.00" width="4.98" height="14.30" fill="#37a348"/>
<rect x="142.08" y="524.00" width="4.98" height="14.30" fill="#37a348"/>
<rect x="147.66" y="524.00" width="4.98" height="14.30" fill="#37a348"/>
<rect x="153.24" y="524.00" width="4.98" height="14.30" fill="#37a348"/>
<rect x="158.82" y="524.00" width="4.98" height="14.30" fill="#37a348"/>
<rect x="164.40" y="524.00" width="4.98" height="14.30" fill="#37a348"/>
<rect x="169.98" y="524.00" width="4.98" height="14.30" fill="#37a348"/>
<rect x="175.56" y="524.00" width="4.98" height="14.30" fill="#37a348"/>
<rect x="181.14" y="524.00" width="4.98" height="14.30" fill="#37a348"/>
<rect x="186.72" y="524.00" width="4.98" height="14.30" fill="#cecece"/>
<rect x="192.30" y="524.00" width="4.98" height="14.30" fill="#cecece"/>
<rect x="197.88" y="524.00" width="4.98" height="14.30" fill="#cecece"/>
<rect x="203.46" y="524.00" width="4.98" height="14.30" fill="#cecece"/>
<rect x="209.04" y="524.00" width="4.98" height="14.30" fill="#cecece"/>
<rect x="214.62" y="524.00" width="4.98" height="14.30" fill="#cecece"/>
<rect x="220.20" y="524.00" width="4.98" height="14.30" fill="#cecece"/>
<rect x="52.80" y="539.15" width="4.98" height="14.30" fill="#2f7fc0"/>
<rect x="58.38" y="539.15" width="4.98" height="14.30" fill="#1c1c1c"/>
<rect x="63.96" y="539.15" width="4.98" height="14.30" fill="#37a348"/>
<rect x="69.54" y="539.15" width="4.98" height="14.30" fill="#2f7fc0"/>
<rect x="75.12" y="539.15" width="4.98" height="14.30" fill="#2f7fc0"/>
<rect x="80.70" y="539.15" width="4.98" height="14.30" fill="#1c1c1c"/>
<rect x="86.28" y="539.15" width="4.98" height="14.30" fill="#37a348"/>
<rect x="91.86" y="539.15" width="4.98" height="14.30" fill="#2f7fc0"/>
<rect x="97.44" y="539.15" width="4.98" height="14.30" fill="#37a348"/>
<rect x="103.02" y="539.15" width="4.98" height="14.30" fill="#cecece"/>
<rect x="108.60" y="539.15" width="4.98" height="14.30" fill="#cecece"/>
<rect x="114.18" y="539.15" width="4.98" height="14.30" fill="#cecece"/>
<rect x="119.76" y="539.15" width="4.98" height="14.30" fill="#cecece"/>
<rect x="125.34" y="539.15" width="4.98" height="14.30" fill="#cecece"/>
<rect x="130.92" y="539.15" width="4.98" height="14.30" fill="#cecece"/>
<rect x="136.50" y="539.15" width="4.98" height="14.30" fill="#cecece"/>
<rect x="142.08" y="539.15" width="4.98" height="14.30" fill="#cecece"/>
<rect x="147.66" y="539.15" width="4.98" height="14.30" fill="#cecece"/>
<rect x="153.24" y="539.15" width="4.98" height="14.30" fill="#cecece"/>
<rect x="158.82" y="539.15" width="4.98" height="14.30" fill="#cecece"/>
<rect x="164.40" y="539.15" width="4.98" height="14.30" fill="#cecece"/>
<rect x="169.98" y="539.15" width="4.98" height="14.30" fill="#cecece"/>
<rect x="175.56" y="539.15" width="4.98" height="14.30" fill="#cecece"/>
<rect x="181.14" y="539.15" width="4.98" height="14.30" fill="#cecece"/>
<rect x="186.72" y="539.15" width="4.98" height="14.30" fill="#1c1c1c"/>
<rect x="192.30" y="539.15" width="4.98" height="14.30" fill="#e3262b"/>
<rect x="197.88" y="539.15" width="4.98" height="14.30" fill="#37a348"/>
<rect x="203.46" y="539.15" width="4.98" height="14.30" fill="#cecece"/>
<rect x="209.04" y="539.15" width="4.98" height="14.30" fill="#cecece"/>
<rect x="214.62" y="539.15" width="4.98" height="14.30" fill="#cecece"/>
<rect x="220.20" y="539.15" width="4.98" height="14.30" fill="#cecece"/>
<rect x="52.80" y="554.30" width="4.98" height="14.30" fill="#e3262b"/>
<rect x="58.38" y="554.30" width="4.98" height="14.30" fill="#cecece"/>
<rect x="63.96" y="554.30" width="4.98" height="14.30" fill="#cecece"/>
<rect x="69.54" y="554.30" width="4.98" height="14.30" fill="#cecece"/>
<rect x="75.12" y="554.30" width="4.98" height="14.30" fill="#cecece"/>
<rect x="80.70" y="554.30" width="4.98" height="14.30" fill="#cecece"/>
<rect x="86.28" y="554.30" width="4.98" height="14.30" fill="#cecece"/>
<rect x="91.86" y="554.30" width="4.98" height="14.30" fill="#cecece"/>
<rect x="97.44" y="554.30" width="4.98" height="14.30" fill="#cecece"/>
<rect x="103.02" y="554.30" width="4.98" height="14.30" fill="#1c1c1c"/>
<rect x="108.60" y="554.30" width="4.98" height="14.30" fill="#2f7fc0"/>
<rect x="114.18" y="554.30" width="4.98" height="14.30" fill="#6b3f9c"/>
<rect x="119.76" y="554.30" width="4.98" height="14.30" fill="#cecece"/>
<rect x="125.34" y="554.30" width="4.98" height="14.30" fill="#cecece"/>
<rect x="130.92" y="554.30" width="4.98" height="14.30" fill="#cecece"/>
<rect x="136.50" y="554.30" width="4.98" height="14.30" fill="#cecece"/>
<rect x="142.08" y="554.30" width="4.98" height="14.30" fill="#cecece"/>
<rect x="147.66" y="554.30" width="4.98" height="14.30" fill="#cecece"/>
<rect x="153.24" y="554.30" width="4.98" height="14.30" fill="#cecece"/>
<rect x="158.82" y="554.30" width="4.98" height="14.30" fill="#cecece"/>
<rect x="164.40" y="554.30" width="4.98" height="14.30" fill="#cecece"/>
<rect x="169.98" y="554.30" width="4.98" height="14.30" fill="#cecece"/>
<rect x="175.56" y="554.30" width="4.98" height="14.30" fill="#cecece"/>
<rect x="181.14" y="554.30" width="4.98" height="14.30" fill="#cecece"/>
<rect x="186.72" y="554.30" width="4.98" height="14.30" fill="#6b3f9c"/>
<rect x="192.30" y="554.30" width="4.98" height="14.30" fill="#cecece"/>
<rect x="197.88" y="554.30" width="4.98" height="14.30" fill="#cecece"/>
<rect x="203.46" y="554.30" width="4.98" height="14.30" fill="#cecece"/>
<rect x="209.04" y="554.30" width="4.98" height="14.30" fill="#cecece"/>
<rect x="214.62" y="554.30" width="4.98" height="14.30" fill="#cecece"/>
<rect x="220.20" y="554.30" width="4.98" height="14.30" fill="#cecece"/>
<rect x="52.80" y="569.45" width="4.98" height="14.30" fill="#cecece"/>
<rect x="58.38" y="569.45" width="4.98" height="14.30" fill="#cecece"/>
<rect x="63.96" y="569.45" width="4.98" height="14.30" fill="#cecece"/>
<rect x="69.54" y="569.45" width="4.98" height="14.30" fill="#cecece"/>
<rect x="75.12" y="569.45" width="4.98" height="14.30" fill="#cecece"/>
<rect x="80.70" y="569.45" width="4.98" height="14.30" fill="#cecece"/>
<rect x="86.28" y="569.45" width="4.98" height="14.30" fill="#cecece"/>
<rect x="91.86" y="569.45" width="4.98" height="14.30" fill="#cecece"/>
<rect x="97.44" y="569.45" width="4.98" height="14.30" fill="#cecece"/>
<rect x="103.02" y="569.45" width="4.98" height="14.30" fill="#cecece"/>
<rect x="108.60" y="569.45" width="4.98" height="14.30" fill="#cecece"/>
<rect x="114.18" y="569.45" width="4.98" height="14.30" fill="#cecece"/>
<rect x="119.76" y="569.45" width="4.98" height="14.30" fill="#cecece"/>
<rect x="125.34" y="569.45" width="4.98" height="14.30" fill="#cecece"/>
<rect x="130.92" y="569.45" width="4.98" height="14.30" fill="#cecece"/>
<rect x="136.50" y="569.45" width="4.98" height="14.30" fill="#cecece"/>
<rect x="142.08" y="569.45" width="4.98" height="14.30" fill="#cecece"/>
<rect x="147.66" y="569.45" width="4.98" height="14.30" fill="#cecece"/>
<rect x="153.24" y="569.45" width="4.98" height="14.30" fill="#cecece"/>
<rect x="158.82" y="569.45" width="4.98" height="14.30" fill="#cecece"/>
<rect x="164.40" y="569.45" width="4.98" height="14.30" fill="#cecece"/>
<rect x="169.98" y="569.45" width="4.98" height="14.30" fill="#cecece"/>
<rect x="175.56" y="569.45" width="4.98" height="14.30" fill="#cecece"/>
<rect x="181.14" y="569.45" width="4.98" height="14.30" fill="#cecece"/>
<rect x="186.72" y="569.45" width="4.98" height="14.30" fill="#2f7fc0"/>
<rect x="192.30" y="569.45" width="4.98" height="14.30" fill="#cecece"/>
<rect x="197.88" y="569.45" width="4.98" height="14.30" fill="#cecece"/>
<rect x="203.46" y="569.45" width="4.98" height="14.30" fill="#6b3f9c"/>
<rect x="209.04" y="569.45" width="4.98" height="14.30" fill="#2f7fc0"/>
<rect x="214.62" y="569.45" width="4.98" height="14.30" fill="#2f7fc0"/>
<rect x="220.20" y="569.45" width="4.98" height="14.30" fill="#2f7fc0"/>
<rect x="52.80" y="584.60" width="4.98" height="14.30" fill="#cecece"/>
<rect x="58.38" y="584.60" width="4.98" height="14.30" fill="#cecece"/>
<rect x="63.96" y="584.60" width="4.98" height="14.30" fill="#cecece"/>
<rect x="69.54" y="584.60" width="4.98" height="14.30" fill="#cecece"/>
<rect x="75.12" y="584.60" width="4.98" height="14.30" fill="#cecece"/>
<rect x="80.70" y="584.60" width="4.98" height="14.30" fill="#cecece"/>
<rect x="86.28" y="584.60" width="4.98" height="14.30" fill="#cecece"/>
<rect x="91.86" y="584.60" width="4.98" height="14.30" fill="#cecece"/>
<rect x="97.44" y="584.60" width="4.98" height="14.30" fill="#cecece"/>
<rect x="103.02" y="584.60" width="4.98" height="14.30" fill="#cecece"/>
<rect x="108.60" y="584.60" width="4.98" height="14.30" fill="#cecece"/>
<rect x="114.18" y="584.60" width="4.98" height="14.30" fill="#cecece"/>
<rect x="119.76" y="584.60" width="4.98" height="14.30" fill="#37a348"/>
<rect x="125.34" y="584.60" width="4.98" height="14.30" fill="#cecece"/>
<rect x="130.92" y="584.60" width="4.98" height="14.30" fill="#cecece"/>
<rect x="136.50" y="584.60" width="4.98" height="14.30" fill="#cecece"/>
<rect x="142.08" y="584.60" width="4.98" height="14.30" fill="#cecece"/>
<rect x="147.66" y="584.60" width="4.98" height="14.30" fill="#cecece"/>
<rect x="153.24" y="584.60" width="4.98" height="14.30" fill="#cecece"/>
<rect x="158.82" y="584.60" width="4.98" height="14.30" fill="#cecece"/>
<rect x="164.40" y="584.60" width="4.98" height="14.30" fill="#cecece"/>
<rect x="169.98" y="584.60" width="4.98" height="14.30" fill="#cecece"/>
<rect x="175.56" y="584.60" width="4.98" height="14.30" fill="#cecece"/>
<rect x="181.14" y="584.60" width="4.98" height="14.30" fill="#cecece"/>
<rect x="186.72" y="584.60" width="4.98" height="14.30" fill="#37a348"/>
<rect x="192.30" y="584.60" width="4.98" height="14.30" fill="#cecece"/>
<rect x="197.88" y="584.60" width="4.98" height="14.30" fill="#cecece"/>
<rect x="203.46" y="584.60" width="4.98" height="14.30" fill="#37a348"/>
<rect x="209.04" y="584.60" width="4.98" height="14.30" fill="#37a348"/>
<rect x="214.62" y="584.60" width="4.98" height="14.30" fill="#cecece"/>
<rect x="220.20" y="584.60" width="4.98" height="14.30" fill="#cecece"/>
<rect x="52.80" y="599.75" width="4.98" height="14.30" fill="#cecece"/>
<rect x="58.38" y="599.75" width="4.98" height="14.30" fill="#37a348"/>
<rect x="63.96" y="599.75" width="4.98" height="14.30" fill="#cecece"/>
<rect x="69.54" y="599.75" width="4.98" height="14.30" fill="#cecece"/>
<rect x="75.12" y="599.75" width="4.98" height="14.30" fill="#cecece"/>
<rect x="80.70" y="599.75" width="4.98" height="14.30" fill="#cecece"/>
<rect x="86.28" y="599.75" width="4.98" height="14.30" fill="#cecece"/>
<rect x="91.86" y="599.75" width="4.98" height="14.30" fill="#cecece"/>
<rect x="97.44" y="599.75" width="4.98" height="14.30" fill="#cecece"/>
<rect x="103.02" y="599.75" width="4.98" height="14.30" fill="#cecece"/>
<rect x="108.60" y="599.75" width="4.98" height="14.30" fill="#cecece"/>
<rect x="114.18" y="599.75" width="4.98" height="14.30" fill="#cecece"/>
<rect x="119.76" y="599.75" width="4.98" height="14.30" fill="#37a348"/>
<rect x="125.34" y="599.75" width="4.98" height="14.30" fill="#37a348"/>
<rect x="130.92" y="599.75" width="4.98" height="14.30" fill="#37a348"/>
<rect x="136.50" y="599.75" width="4.98" height="14.30" fill="#cecece"/>
<rect x="142.08" y="599.75" width="4.98" height="14.30" fill="#cecece"/>
<rect x="147.66" y="599.75" width="4.98" height="14.30" fill="#cecece"/>
<rect x="153.24" y="599.75" width="4.98" height="14.30" fill="#cecece"/>
<rect x="158.82" y="599.75" width="4.98" height="14.30" fill="#cecece"/>
<rect x="164.40" y="599.75" width="4.98" height="14.30" fill="#cecece"/>
<rect x="169.98" y="599.75" width="4.98" height="14.30" fill="#cecece"/>
<rect x="175.56" y="599.75" width="4.98" height="14.30" fill="#cecece"/>
<rect x="181.14" y="599.75" width="4.98" height="14.30" fill="#cecece"/>
<rect x="186.72" y="599.75" width="4.98" height="14.30" fill="#cecece"/>
<rect x="192.30" y="599.75" width="4.98" height="14.30" fill="#cecece"/>
<rect x="197.88" y="599.75" width="4.98" height="14.30" fill="#cecece"/>
<rect x="203.46" y="599.75" width="4.98" height="14.30" fill="#cecece"/>
<rect x="209.04" y="599.75" width="4.98" height="14.30" fill="#cecece"/>
<rect x="214.62" y="599.75" width="4.98" height="14.30" fill="#cecece"/>
<rect x="220.20" y="599.75" width="4.98" height="14.30" fill="#cecece"/>
<rect x="52.80" y="614.90" width="4.98" height="14.30" fill="#cecece"/>
<rect x="58.38" y="614.90" width="4.98" height="14.30" fill="#cecece"/>
<rect x="63.96" y="614.90" width="4.98" height="14.30" fill="#37a348"/>
<rect x="69.54" y="614.90" width="4.98" height="14.30" fill="#cecece"/>
<rect x="75.12" y="614.90" width="4.98" height="14.30" fill="#cecece"/>
<rect x="80.70" y="614.90" width="4.98" height="14.30" fill="#cecece"/>
<rect x="86.28" y="614.90" width="4.98" height="14.30" fill="#cecece"/>
<rect x="91.86" y="614.90" width="4.98" height="14.30" fill="#cecece"/>
<rect x="97.44" y="614.90" width="4.98" height="14.30" fill="#cecece"/>
<rect x="103.02" y="614.90" width="4.98" height="14.30" fill="#cecece"/>
<rect x="108.60" y="614.90" width="4.98" height="14.30" fill="#cecece"/>
<rect x="114.18" y="614.90" width="4.98" height="14.30" fill="#cecece"/>
<rect x="119.76" y="614.90" width="4.98" height="14.30" fill="#cecece"/>
<rect x="125.34" y="614.90" width="4.98" height="14.30" fill="#cecece"/>
<rect x="130.92" y="614.90" width="4.98" height="14.30" fill="#cecece"/>
<rect x="136.50" y="614.90" width="4.98" height="14.30" fill="#6b3f9c"/>
<rect x="142.08" y="614.90" width="4.98" height="14.30" fill="#cecece"/>
<rect x="147.66" y="614.90" width="4.98" height="14.30" fill="#cecece"/>
<rect x="153.24" y="614.90" width="4.98" height="14.30" fill="#cecece"/>
<rect x="158.82" y="614.90" width="4.98" height="14.30" fill="#cecece"/>
<rect x="164.40" y="614.90" width="4.98" height="14.30" fill="#cecece"/>
<rect x="169.98" y="614.90" width="4.98" height="14.30" fill="#cecece"/>
<rect x="175.56" y="614.90" width="4.98" height="14.30" fill="#cecece"/>
<rect x="181.14" y="614.90" width="4.98" height="14.30" fill="#cecece"/>
<rect x="186.72" y="614.90" width="4.98" height="14.30" fill="#cecece"/>
<rect x="192.30" y="614.90" width="4.98" height="14.30" fill="#2f7fc0"/>
<rect x="197.88" y="614.90" width="4.98" height="14.30" fill="#cecece"/>
<rect x="203.46" y="614.90" width="4.98" height="14.30" fill="#cecece"/>
<rect x="209.04" y="614.90" width="4.98" height="14.30" fill="#cecece"/>
<rect x="214.62" y="614.90" width="4.98" height="14.30" fill="#cecece"/>
<rect x="220.20" y="614.90" width="4.98" height="14.30" fill="#cecece"/>
<rect x="52.80" y="630.05" width="4.98" height="14.30" fill="#cecece"/>
<rect x="58.38" y="630.05" width="4.98" height="14.30" fill="#cecece"/>
<rect x="63.96" y="630.05" width="4.98" height="14.30" fill="#cecece"/>
<rect x="69.54" y="630.05" width="4.98" height="14.30" fill="#cecece"/>
<rect x="75.12" y="630.05" width="4.98" height="14.30" fill="#cecece"/>
<rect x="80.70" y="630.05" width="4.98" height="14.30" fill="#cecece"/>
<rect x="86.28" y="630.05" width="4.98" height="14.30" fill="#cecece"/>
<rect x="91.86" y="630.05" width="4.98" height="14.30" fill="#cecece"/>
<rect x="97.44" y="630.05" width="4.98" height="14.30" fill="#cecece"/>
<rect x="103.02" y="630.05" width="4.98" height="14.30" fill="#cecece"/>
<rect x="108.60" y="630.05" width="4.98" height="14.30" fill="#cecece"/>
<rect x="114.18" y="630.05" width="4.98" height="14.30" fill="#cecece"/>
<rect x="119.76" y="630.05" width="4.98" height="14.30" fill="#37a348"/>
<rect x="125.34" y="630.05" width="4.98" height="14.30" fill="#cecece"/>
<rect x="130.92" y="630.05" width="4.98" height="14.30" fill="#cecece"/>
<rect x="136.50" y="630.05" width="4.98" height="14.30" fill="#cecece"/>
<rect x="142.08" y="630.05" width="4.98" height="14.30" fill="#f58a2c"/>
<rect x="147.66" y="630.05" width="4.98" height="14.30" fill="#cecece"/>
<rect x="153.24" y="630.05" width="4.98" height="14.30" fill="#cecece"/>
<rect x="158.82" y="630.05" width="4.98" height="14.30" fill="#cecece"/>
<rect x="164.40" y="630.05" width="4.98" height="14.30" fill="#cecece"/>
<rect x="169.98" y="630.05" width="4.98" height="14.30" fill="#cecece"/>
<rect x="175.56" y="630.05" width="4.98" height="14.30" fill="#cecece"/>
<rect x="181.14" y="630.05" width="4.98" height="14.30" fill="#cecece"/>
<rect x="186.72" y="630.05" width="4.98" height="14.30" fill="#cecece"/>
<rect x="192.30" y="630.05" width="4.98" height="14.30" fill="#cecece"/>
<rect x="197.88" y="630.05" width="4.98" height="14.30" fill="#cecece"/>
<rect x="203.46" y="630.05" width="4.98" height="14.30" fill="#cecece"/>
<rect x="209.04" y="630.05" width="4.98" height="14.30" fill="#cecece"/>
<rect x="214.62" y="630.05" width="4.98" height="14.30" fill="#cecece"/>
<rect x="220.20" y="630.05" width="4.98" height="14.30" fill="#cecece"/>
<rect x="52.80" y="645.20" width="4.98" height="14.30" fill="#cecece"/>
<rect x="58.38" y="645.20" width="4.98" height="14.30" fill="#cecece"/>
<rect x="63.96" y="645.20" width="4.98" height="14.30" fill="#cecece"/>
<rect x="69.54" y="645.20" width="4.98" height="14.30" fill="#cecece"/>
<rect x="75.12" y="645.20" width="4.98" height="14.30" fill="#cecece"/>
<rect x="80.70" y="645.20" width="4.98" height="14.30" fill="#cecece"/>
<rect x="86.28" y="645.20" width="4.98" height="14.30" fill="#cecece"/>
<rect x="91.86" y="645.20" width="4.98" height="14.30" fill="#cecece"/>
<rect x="97.44" y="645.20" width="4.98" height="14.30" fill="#cecece"/>
<rect x="103.02" y="645.20" width="4.98" height="14.30" fill="#cecece"/>
<rect x="108.60" y="645.20" width="4.98" height="14.30" fill="#cecece"/>
<rect x="114.18" y="645.20" width="4.98" height="14.30" fill="#cecece"/>
<rect x="119.76" y="645.20" width="4.98" height="14.30" fill="#cecece"/>
<rect x="125.34" y="645.20" width="4.98" height="14.30" fill="#cecece"/>
<rect x="130.92" y="645.20" width="4.98" height="14.30" fill="#cecece"/>
<rect x="136.50" y="645.20" width="4.98" height="14.30" fill="#cecece"/>
<rect x="142.08" y="645.20" width="4.98" height="14.30" fill="#cecece"/>
<rect x="147.66" y="645.20" width="4.98" height="14.30" fill="#37a348"/>
<rect x="153.24" y="645.20" width="4.98" height="14.30" fill="#cecece"/>
<rect x="158.82" y="645.20" width="4.98" height="14.30" fill="#cecece"/>
<rect x="164.40" y="645.20" width="4.98" height="14.30" fill="#cecece"/>
<rect x="169.98" y="645.20" width="4.98" height="14.30" fill="#cecece"/>
<rect x="175.56" y="645.20" width="4.98" height="14.30" fill="#cecece"/>
<rect x="181.14" y="645.20" width="4.98" height="14.30" fill="#cecece"/>
<rect x="186.72" y="645.20" width="4.98" height="14.30" fill="#cecece"/>
<rect x="192.30" y="645.20" width="4.98" height="14.30" fill="#cecece"/>
<rect x="197.88" y="645.20" width="4.98" height="14.30" fill="#37a348"/>
<rect x="203.46" y="645.20" width="4.98" height="14.30" fill="#cecece"/>
<rect x="209.04" y="645.20" width="4.98" height="14.30" fill="#cecece"/>
<rect x="214.62" y="645.20" width="4.98" height="14.30" fill="#cecece"/>
<rect x="220.20" y="645.20" width="4.98" height="14.30" fill="#cecece"/>
<rect x="52.80" y="660.35" width="4.98" height="14.30" fill="#cecece"/>
<rect x="58.38" y="660.35" width="4.98" height="14.30" fill="#cecece"/>
<rect x="63.96" y="660.35" width="4.98" height="14.30" fill="#cecece"/>
<rect x="69.54" y="660.35" width="4.98" height="14.30" fill="#cecece"/>
<rect x="75.12" y="660.35" width="4.98" height="14.30" fill="#cecece"/>
<rect x="80.70" y="660.35" width="4.98" height="14.30" fill="#cecece"/>
<rect x="86.28" y="660.35" width="4.98" height="14.30" fill="#cecece"/>
<rect x="91.86" y="660.35" width="4.98" height="14.30" fill="#cecece"/>
<rect x="97.44" y="660.35" width="4.98" height="14.30" fill="#cecece"/>
<rect x="103.02" y="660.35" width="4.98" height="14.30" fill="#37a348"/>
<rect x="108.60" y="660.35" width="4.98" height="14.30" fill="#cecece"/>
<rect x="114.18" y="660.35" width="4.98" height="14.30" fill="#cecece"/>
<rect x="119.76" y="660.35" width="4.98" height="14.30" fill="#cecece"/>
<rect x="125.34" y="660.35" width="4.98" height="14.30" fill="#cecece"/>
<rect x="130.92" y="660.35" width="4.98" height="14.30" fill="#cecece"/>
<rect x="136.50" y="660.35" width="4.98" height="14.30" fill="#cecece"/>
<rect x="142.08" y="660.35" width="4.98" height="14.30" fill="#cecece"/>
<rect x="147.66" y="660.35" width="4.98" height="14.30" fill="#cecece"/>
<rect x="153.24" y="660.35" width="4.98" height="14.30" fill="#37a348"/>
<rect x="158.82" y="660.35" width="4.98" height="14.30" fill="#cecece"/>
<rect x="164.40" y="660.35" width="4.98" height="14.30" fill="#cecece"/>
<rect x="169.98" y="660.35" width="4.98" height="14.30" fill="#cecece"/>
<rect x="175.56" y="660.35" width="4.98" height="14.30" fill="#cecece"/>
<rect x="181.14" y="660.35" width="4.98" height="14.30" fill="#cecece"/>
<rect x="186.72" y="660.35" width="4.98" height="14.30" fill="#cecece"/>
<rect x="192.30" y="660.35" width="4.98" height="14.30" fill="#cecece"/>
<rect x="197.88" y="660.35" width="4.98" height="14.30" fill="#cecece"/>
<rect x="203.46" y="660.35" width="4.98" height="14.30" fill="#cecece"/>
<rect x="209.04" y="660.35" width="4.98" height="14.30" fill="#cecece"/>
<rect x="214.62" y="660.35" width="4.98" height="14.30" fill="#cecece"/>
<rect x="220.20" y="660.35" width="4.98" height="14.30" fill="#cecece"/>
<rect x="52.80" y="675.50" width="4.98" height="14.30" fill="#cecece"/>
<rect x="58.38" y="675.50" width="4.98" height="14.30" fill="#37a348"/>
<rect x="63.96" y="675.50" width="4.98" height="14.30" fill="#cecece"/>
<rect x="69.54" y="675.50" width="4.98" height="14.30" fill="#cecece"/>
<rect x="75.12" y="675.50" width="4.98" height="14.30" fill="#cecece"/>
<rect x="80.70" y="675.50" width="4.98" height="14.30" fill="#cecece"/>
<rect x="86.28" y="675.50" width="4.98" height="14.30" fill="#cecece"/>
<rect x="91.86" y="675.50" width="4.98" height="14.30" fill="#cecece"/>
<rect x="97.44" y="675.50" width="4.98" height="14.30" fill="#cecece"/>
<rect x="103.02" y="675.50" width="4.98" height="14.30" fill="#cecece"/>
<rect x="108.60" y="675.50" width="4.98" height="14.30" fill="#cecece"/>
<rect x="114.18" y="675.50" width="4.98" height="14.30" fill="#cecece"/>
<rect x="119.76" y="675.50" width="4.98" height="14.30" fill="#cecece"/>
<rect x="125.34" y="675.50" width="4.98" height="14.30" fill="#cecece"/>
<rect x="130.92" y="675.50" width="4.98" height="14.30" fill="#cecece"/>
<rect x="136.50" y="675.50" width="4.98" height="14.30" fill="#cecece"/>
<rect x="142.08" y="675.50" width="4.98" height="14.30" fill="#cecece"/>
<rect x="147.66" y="675.50" width="4.98" height="14.30" fill="#cecece"/>
<rect x="153.24" y="675.50" width="4.98" height="14.30" fill="#cecece"/>
<rect x="158.82" y="675.50" width="4.98" height="14.30" fill="#b15928"/>
<rect x="164.40" y="675.50" width="4.98" height="14.30" fill="#cecece"/>
<rect x="169.98" y="675.50" width="4.98" height="14.30" fill="#cecece"/>
<rect x="175.56" y="675.50" width="4.98" height="14.30" fill="#cecece"/>
<rect x="181.14" y="675.50" width="4.98" height="14.30" fill="#cecece"/>
<rect x="186.72" y="675.50" width="4.98" height="14.30" fill="#cecece"/>
<rect x="192.30" y="675.50" width="4.98" height="14.30" fill="#cecece"/>
<rect x="197.88" y="675.50" width="4.98" height="14.30" fill="#cecece"/>
<rect x="203.46" y="675.50" width="4.98" height="14.30" fill="#cecece"/>
<rect x="209.04" y="675.50" width="4.98" height="14.30" fill="#cecece"/>
<rect x="214.62" y="675.50" width="4.98" height="14.30" fill="#cecece"/>
<rect x="220.20" y="675.50" width="4.98" height="14.30" fill="#cecece"/>
<rect x="52.80" y="690.65" width="4.98" height="14.30" fill="#cecece"/>
<rect x="58.38" y="690.65" width="4.98" height="14.30" fill="#cecece"/>
<rect x="63.96" y="690.65" width="4.98" height="14.30" fill="#cecece"/>
<rect x="69.54" y="690.65" width="4.98" height="14.30" fill="#cecece"/>
<rect x="75.12" y="690.65" width="4.98" height="14.30" fill="#cecece"/>
<rect x="80.70" y="690.65" width="4.98" height="14.30" fill="#cecece"/>
<rect x="86.28" y="690.65" width="4.98" height="14.30" fill="#cecece"/>
<rect x="91.86" y="690.65" width="4.98" height="14.30" fill="#cecece"/>
<rect x="97.44" y="690.65" width="4.98" height="14.30" fill="#cecece"/>
<rect x="103.02" y="690.65" width="4.98" height="14.30" fill="#cecece"/>
<rect x="108.60" y="690.65" width="4.98" height="14.30" fill="#cecece"/>
<rect x="114.18" y="690.65" width="4.98" height="14.30" fill="#cecece"/>
<rect x="119.76" y="690.65" width="4.98" height="14.30" fill="#cecece"/>
<rect x="125.34" y="690.65" width="4.98" height="14.30" fill="#cecece"/>
<rect x="130.92" y="690.65" width="4.98" height="14.30" fill="#cecece"/>
<rect x="136.50" y="690.65" width="4.98" height="14.30" fill="#cecece"/>
<rect x="142.08" y="690.65" width="4.98" height="14.30" fill="#cecece"/>
<rect x="147.66" y="690.65" width="4.98" height="14.30" fill="#cecece"/>
<rect x="153.24" y="690.65" width="4.98" height="14.30" fill="#cecece"/>
<rect x="158.82" y="690.65" width="4.98" height="14.30" fill="#cecece"/>
<rect x="164.40" y="690.65" width="4.98" height="14.30" fill="#6b3f9c"/>
<rect x="169.98" y="690.65" width="4.98" height="14.30" fill="#cecece"/>
<rect x="175.56" y="690.65" width="4.98" height="14.30" fill="#cecece"/>
<rect x="181.14" y="690.65" width="4.98" height="14.30" fill="#cecece"/>
<rect x="186.72" y="690.65" width="4.98" height="14.30" fill="#cecece"/>
<rect x="192.30" y="690.65" width="4.98" height="14.30" fill="#cecece"/>
<rect x="197.88" y="690.65" width="4.98" height="14.30" fill="#cecece"/>
<rect x="203.46" y="690.65" width="4.98" height="14.30" fill="#cecece"/>
<rect x="209.04" y="690.65" width="4.98" height="14.30" fill="#cecece"/>
<rect x="214.62" y="690.65" width="4.98" height="14.30" fill="#cecece"/>
<rect x="220.20" y="690.65" width="4.98" height="14.30" fill="#cecece"/>
<text x="49.90" y="534.15" font-size="8.2" font-weight="bold" font-style="italic" text-anchor="end" fill="#1a1a1a" textLength="16.35" lengthAdjust="spacingAndGlyphs" stroke="#1a1a1a" stroke-width="0.15">JAK2</text>
<text x="49.90" y="549.30" font-size="8.2" font-weight="bold" font-style="italic" text-anchor="end" fill="#1a1a1a" textLength="15.64" lengthAdjust="spacingAndGlyphs" stroke="#1a1a1a" stroke-width="0.15">TET2</text>
<text x="49.90" y="564.45" font-size="8.2" font-weight="bold" font-style="italic" text-anchor="end" fill="#1a1a1a" textLength="20.62" lengthAdjust="spacingAndGlyphs" stroke="#1a1a1a" stroke-width="0.15">ASXL1</text>
<text x="49.90" y="579.60" font-size="8.2" font-weight="bold" font-style="italic" text-anchor="end" fill="#1a1a1a" textLength="17.76" lengthAdjust="spacingAndGlyphs" stroke="#1a1a1a" stroke-width="0.15">CALR</text>
<text x="49.90" y="594.75" font-size="8.2" font-weight="bold" font-style="italic" text-anchor="end" fill="#1a1a1a" textLength="13.14" lengthAdjust="spacingAndGlyphs" stroke="#1a1a1a" stroke-width="0.15">CBL</text>
<text x="49.90" y="609.90" font-size="8.2" font-weight="bold" font-style="italic" text-anchor="end" fill="#1a1a1a" textLength="19.91" lengthAdjust="spacingAndGlyphs" stroke="#1a1a1a" stroke-width="0.15">SF3B1</text>
<text x="49.90" y="625.05" font-size="8.2" font-weight="bold" font-style="italic" text-anchor="end" fill="#1a1a1a" textLength="26.65" lengthAdjust="spacingAndGlyphs" stroke="#1a1a1a" stroke-width="0.15">DNMT3A</text>
<text x="49.90" y="640.20" font-size="8.2" font-weight="bold" font-style="italic" text-anchor="end" fill="#1a1a1a" textLength="22.39" lengthAdjust="spacingAndGlyphs" stroke="#1a1a1a" stroke-width="0.15">CREBP</text>
<text x="49.90" y="655.35" font-size="8.2" font-weight="bold" font-style="italic" text-anchor="end" fill="#1a1a1a" textLength="14.93" lengthAdjust="spacingAndGlyphs" stroke="#1a1a1a" stroke-width="0.15">PHIP</text>
<text x="49.90" y="670.50" font-size="8.2" font-weight="bold" font-style="italic" text-anchor="end" fill="#1a1a1a" textLength="17.77" lengthAdjust="spacingAndGlyphs" stroke="#1a1a1a" stroke-width="0.15">SMC3</text>
<text x="49.90" y="685.65" font-size="8.2" font-weight="bold" font-style="italic" text-anchor="end" fill="#1a1a1a" textLength="19.07" lengthAdjust="spacingAndGlyphs" stroke="#1a1a1a" stroke-width="0.15">TAF15</text>
<text x="49.90" y="700.80" font-size="8.2" font-weight="bold" font-style="italic" text-anchor="end" fill="#1a1a1a" textLength="26.65" lengthAdjust="spacingAndGlyphs" stroke="#1a1a1a" stroke-width="0.15">CDKN2A</text>
<text x="226.90" y="532.35" font-size="5.2" font-weight="bold" font-style="normal" text-anchor="start" fill="#333" textLength="7.29" lengthAdjust="spacingAndGlyphs">77%</text>
<text x="226.90" y="547.50" font-size="5.2" font-weight="bold" font-style="normal" text-anchor="start" fill="#333" textLength="7.29" lengthAdjust="spacingAndGlyphs">39%</text>
<text x="226.90" y="562.65" font-size="5.2" font-weight="bold" font-style="normal" text-anchor="start" fill="#333" textLength="7.29" lengthAdjust="spacingAndGlyphs">16%</text>
<text x="226.90" y="577.80" font-size="5.2" font-weight="bold" font-style="normal" text-anchor="start" fill="#333" textLength="7.29" lengthAdjust="spacingAndGlyphs">16%</text>
<text x="226.90" y="592.95" font-size="5.2" font-weight="bold" font-style="normal" text-anchor="start" fill="#333" textLength="7.29" lengthAdjust="spacingAndGlyphs">13%</text>
<text x="226.90" y="608.10" font-size="5.2" font-weight="bold" font-style="normal" text-anchor="start" fill="#333" textLength="7.29" lengthAdjust="spacingAndGlyphs">13%</text>
<text x="226.90" y="623.25" font-size="5.2" font-weight="bold" font-style="normal" text-anchor="start" fill="#333" textLength="7.29" lengthAdjust="spacingAndGlyphs">10%</text>
<text x="226.90" y="638.40" font-size="5.2" font-weight="bold" font-style="normal" text-anchor="start" fill="#333" textLength="5.26" lengthAdjust="spacingAndGlyphs">6%</text>
<text x="226.90" y="653.55" font-size="5.2" font-weight="bold" font-style="normal" text-anchor="start" fill="#333" textLength="5.26" lengthAdjust="spacingAndGlyphs">6%</text>
<text x="226.90" y="668.70" font-size="5.2" font-weight="bold" font-style="normal" text-anchor="start" fill="#333" textLength="5.26" lengthAdjust="spacingAndGlyphs">6%</text>
<text x="226.90" y="683.85" font-size="5.2" font-weight="bold" font-style="normal" text-anchor="start" fill="#333" textLength="5.26" lengthAdjust="spacingAndGlyphs">6%</text>
<text x="226.90" y="699.00" font-size="5.2" font-weight="bold" font-style="normal" text-anchor="start" fill="#333" textLength="5.26" lengthAdjust="spacingAndGlyphs">3%</text>
<rect x="240.80" y="524.50" width="48.48" height="13.50" fill="#37a348"/>
<rect x="240.80" y="539.65" width="7.88" height="13.50" fill="#37a348"/>
<rect x="248.68" y="539.65" width="7.07" height="13.50" fill="#2f7fc0"/>
<rect x="255.75" y="539.65" width="2.83" height="13.50" fill="#b03a5a"/>
<rect x="258.58" y="539.65" width="6.06" height="13.50" fill="#1c1c1c"/>
<rect x="240.80" y="554.80" width="3.84" height="13.50" fill="#2f7fc0"/>
<rect x="244.64" y="554.80" width="2.02" height="13.50" fill="#6b3f9c"/>
<rect x="246.66" y="554.80" width="2.22" height="13.50" fill="#e3262b"/>
<rect x="248.88" y="554.80" width="2.02" height="13.50" fill="#1c1c1c"/>
<rect x="240.80" y="569.95" width="10.10" height="13.50" fill="#2f7fc0"/>
<rect x="240.80" y="585.10" width="7.88" height="13.50" fill="#37a348"/>
<rect x="240.80" y="600.25" width="7.88" height="13.50" fill="#37a348"/>
<rect x="240.80" y="615.40" width="6.06" height="13.50" fill="#3a4fb0"/>
<rect x="240.80" y="630.55" width="4.04" height="13.50" fill="#c8783a"/>
<rect x="240.80" y="645.70" width="4.04" height="13.50" fill="#37a348"/>
<rect x="240.80" y="660.85" width="4.04" height="13.50" fill="#37a348"/>
<rect x="240.80" y="676.00" width="4.04" height="13.50" fill="#b15928"/>
<rect x="240.80" y="691.15" width="2.02" height="13.50" fill="#6b3f9c"/>
<path d="M240.9 518.2 V521.4 H289.2 V518.2" fill="none" stroke="#111" stroke-width="0.85"/>
<text x="241.00" y="514.00" font-size="4.8" font-weight="normal" font-style="normal" text-anchor="middle" fill="#222">0</text>
<text x="288.90" y="514.00" font-size="4.8" font-weight="normal" font-style="normal" text-anchor="middle" fill="#222">24</text>
<rect x="52.80" y="706.00" width="4.98" height="5.60" fill="#fdebb0"/>
<rect x="58.38" y="706.00" width="4.98" height="5.60" fill="#cc5a2a"/>
<rect x="63.96" y="706.00" width="4.98" height="5.60" fill="#cc5a2a"/>
<rect x="69.54" y="706.00" width="4.98" height="5.60" fill="#cc5a2a"/>
<rect x="75.12" y="706.00" width="4.98" height="5.60" fill="#fffbe4"/>
<rect x="80.70" y="706.00" width="4.98" height="5.60" fill="#f59d3d"/>
<rect x="86.28" y="706.00" width="4.98" height="5.60" fill="#8a2f16"/>
<rect x="91.86" y="706.00" width="4.98" height="5.60" fill="#f59d3d"/>
<rect x="97.44" y="706.00" width="4.98" height="5.60" fill="#f59d3d"/>
<rect x="103.02" y="706.00" width="4.98" height="5.60" fill="#fdebb0"/>
<rect x="108.60" y="706.00" width="4.98" height="5.60" fill="#fdebb0"/>
<rect x="114.18" y="706.00" width="4.98" height="5.60" fill="#fcc75a"/>
<rect x="119.76" y="706.00" width="4.98" height="5.60" fill="#fcc75a"/>
<rect x="125.34" y="706.00" width="4.98" height="5.60" fill="#8a2f16"/>
<rect x="130.92" y="706.00" width="4.98" height="5.60" fill="#8a2f16"/>
<rect x="136.50" y="706.00" width="4.98" height="5.60" fill="#f59d3d"/>
<rect x="142.08" y="706.00" width="4.98" height="5.60" fill="#cc5a2a"/>
<rect x="147.66" y="706.00" width="4.98" height="5.60" fill="#f59d3d"/>
<rect x="153.24" y="706.00" width="4.98" height="5.60" fill="#cc5a2a"/>
<rect x="158.82" y="706.00" width="4.98" height="5.60" fill="#f59d3d"/>
<rect x="164.40" y="706.00" width="4.98" height="5.60" fill="#8a2f16"/>
<rect x="169.98" y="706.00" width="4.98" height="5.60" fill="#fffbe4"/>
<rect x="175.56" y="706.00" width="4.98" height="5.60" fill="#fcc75a"/>
<rect x="181.14" y="706.00" width="4.98" height="5.60" fill="#8a2f16"/>
<rect x="186.72" y="706.00" width="4.98" height="5.60" fill="#cc5a2a"/>
<rect x="192.30" y="706.00" width="4.98" height="5.60" fill="#fcc75a"/>
<rect x="197.88" y="706.00" width="4.98" height="5.60" fill="#fdebb0"/>
<rect x="203.46" y="706.00" width="4.98" height="5.60" fill="#fcc75a"/>
<rect x="209.04" y="706.00" width="4.98" height="5.60" fill="#fffbe4"/>
<rect x="214.62" y="706.00" width="4.98" height="5.60" fill="#fdebb0"/>
<rect x="220.20" y="706.00" width="4.98" height="5.60" fill="#fffbe4"/>
<rect x="52.80" y="712.10" width="4.98" height="5.60" fill="#fdebb0"/>
<rect x="58.38" y="712.10" width="4.98" height="5.60" fill="#fffbe4"/>
<rect x="63.96" y="712.10" width="4.98" height="5.60" fill="#fffbe4"/>
<rect x="69.54" y="712.10" width="4.98" height="5.60" fill="#fffbe4"/>
<rect x="75.12" y="712.10" width="4.98" height="5.60" fill="#fffbe4"/>
<rect x="80.70" y="712.10" width="4.98" height="5.60" fill="#cc5a2a"/>
<rect x="86.28" y="712.10" width="4.98" height="5.60" fill="#fcc75a"/>
<rect x="91.86" y="712.10" width="4.98" height="5.60" fill="#cc5a2a"/>
<rect x="97.44" y="712.10" width="4.98" height="5.60" fill="#f59d3d"/>
<rect x="103.02" y="712.10" width="4.98" height="5.60" fill="#f59d3d"/>
<rect x="108.60" y="712.10" width="4.98" height="5.60" fill="#fcc75a"/>
<rect x="114.18" y="712.10" width="4.98" height="5.60" fill="#fcc75a"/>
<rect x="119.76" y="712.10" width="4.98" height="5.60" fill="#f59d3d"/>
<rect x="125.34" y="712.10" width="4.98" height="5.60" fill="#fdebb0"/>
<rect x="130.92" y="712.10" width="4.98" height="5.60" fill="#cc5a2a"/>
<rect x="136.50" y="712.10" width="4.98" height="5.60" fill="#8a2f16"/>
<rect x="142.08" y="712.10" width="4.98" height="5.60" fill="#8a2f16"/>
<rect x="147.66" y="712.10" width="4.98" height="5.60" fill="#cc5a2a"/>
<rect x="153.24" y="712.10" width="4.98" height="5.60" fill="#fcc75a"/>
<rect x="158.82" y="712.10" width="4.98" height="5.60" fill="#fdebb0"/>
<rect x="164.40" y="712.10" width="4.98" height="5.60" fill="#8a2f16"/>
<rect x="169.98" y="712.10" width="4.98" height="5.60" fill="#f59d3d"/>
<rect x="175.56" y="712.10" width="4.98" height="5.60" fill="#cc5a2a"/>
<rect x="181.14" y="712.10" width="4.98" height="5.60" fill="#cc5a2a"/>
<rect x="186.72" y="712.10" width="4.98" height="5.60" fill="#f59d3d"/>
<rect x="192.30" y="712.10" width="4.98" height="5.60" fill="#fdebb0"/>
<rect x="197.88" y="712.10" width="4.98" height="5.60" fill="#cc5a2a"/>
<rect x="203.46" y="712.10" width="4.98" height="5.60" fill="#f59d3d"/>
<rect x="209.04" y="712.10" width="4.98" height="5.60" fill="#fdebb0"/>
<rect x="214.62" y="712.10" width="4.98" height="5.60" fill="#8a2f16"/>
<rect x="220.20" y="712.10" width="4.98" height="5.60" fill="#cc5a2a"/>
<rect x="52.80" y="718.20" width="4.98" height="5.60" fill="#8a2f16"/>
<rect x="58.38" y="718.20" width="4.98" height="5.60" fill="#fffbe4"/>
<rect x="63.96" y="718.20" width="4.98" height="5.60" fill="#f59d3d"/>
<rect x="69.54" y="718.20" width="4.98" height="5.60" fill="#fcc75a"/>
<rect x="75.12" y="718.20" width="4.98" height="5.60" fill="#fdebb0"/>
<rect x="80.70" y="718.20" width="4.98" height="5.60" fill="#8a2f16"/>
<rect x="86.28" y="718.20" width="4.98" height="5.60" fill="#8a2f16"/>
<rect x="91.86" y="718.20" width="4.98" height="5.60" fill="#8a2f16"/>
<rect x="97.44" y="718.20" width="4.98" height="5.60" fill="#f59d3d"/>
<rect x="103.02" y="718.20" width="4.98" height="5.60" fill="#f59d3d"/>
<rect x="108.60" y="718.20" width="4.98" height="5.60" fill="#f59d3d"/>
<rect x="114.18" y="718.20" width="4.98" height="5.60" fill="#8a2f16"/>
<rect x="119.76" y="718.20" width="4.98" height="5.60" fill="#fffbe4"/>
<rect x="125.34" y="718.20" width="4.98" height="5.60" fill="#cc5a2a"/>
<rect x="130.92" y="718.20" width="4.98" height="5.60" fill="#fcc75a"/>
<rect x="136.50" y="718.20" width="4.98" height="5.60" fill="#f59d3d"/>
<rect x="142.08" y="718.20" width="4.98" height="5.60" fill="#fcc75a"/>
<rect x="147.66" y="718.20" width="4.98" height="5.60" fill="#8a2f16"/>
<rect x="153.24" y="718.20" width="4.98" height="5.60" fill="#f59d3d"/>
<rect x="158.82" y="718.20" width="4.98" height="5.60" fill="#cc5a2a"/>
<rect x="164.40" y="718.20" width="4.98" height="5.60" fill="#cc5a2a"/>
<rect x="169.98" y="718.20" width="4.98" height="5.60" fill="#fffbe4"/>
<rect x="175.56" y="718.20" width="4.98" height="5.60" fill="#fdebb0"/>
<rect x="181.14" y="718.20" width="4.98" height="5.60" fill="#f59d3d"/>
<rect x="186.72" y="718.20" width="4.98" height="5.60" fill="#f59d3d"/>
<rect x="192.30" y="718.20" width="4.98" height="5.60" fill="#fdebb0"/>
<rect x="197.88" y="718.20" width="4.98" height="5.60" fill="#f59d3d"/>
<rect x="203.46" y="718.20" width="4.98" height="5.60" fill="#fcc75a"/>
<rect x="209.04" y="718.20" width="4.98" height="5.60" fill="#f59d3d"/>
<rect x="214.62" y="718.20" width="4.98" height="5.60" fill="#cc5a2a"/>
<rect x="220.20" y="718.20" width="4.98" height="5.60" fill="#cc5a2a"/>
<rect x="52.80" y="724.30" width="4.98" height="5.60" fill="#f59d3d"/>
<rect x="58.38" y="724.30" width="4.98" height="5.60" fill="#fffbe4"/>
<rect x="63.96" y="724.30" width="4.98" height="5.60" fill="#cc5a2a"/>
<rect x="69.54" y="724.30" width="4.98" height="5.60" fill="#fffbe4"/>
<rect x="75.12" y="724.30" width="4.98" height="5.60" fill="#fdebb0"/>
<rect x="80.70" y="724.30" width="4.98" height="5.60" fill="#fffbe4"/>
<rect x="86.28" y="724.30" width="4.98" height="5.60" fill="#fffbe4"/>
<rect x="91.86" y="724.30" width="4.98" height="5.60" fill="#fffbe4"/>
<rect x="97.44" y="724.30" width="4.98" height="5.60" fill="#f59d3d"/>
<rect x="103.02" y="724.30" width="4.98" height="5.60" fill="#fdebb0"/>
<rect x="108.60" y="724.30" width="4.98" height="5.60" fill="#cc5a2a"/>
<rect x="114.18" y="724.30" width="4.98" height="5.60" fill="#fffbe4"/>
<rect x="119.76" y="724.30" width="4.98" height="5.60" fill="#fffbe4"/>
<rect x="125.34" y="724.30" width="4.98" height="5.60" fill="#fffbe4"/>
<rect x="130.92" y="724.30" width="4.98" height="5.60" fill="#fffbe4"/>
<rect x="136.50" y="724.30" width="4.98" height="5.60" fill="#fffbe4"/>
<rect x="142.08" y="724.30" width="4.98" height="5.60" fill="#cc5a2a"/>
<rect x="147.66" y="724.30" width="4.98" height="5.60" fill="#fffbe4"/>
<rect x="153.24" y="724.30" width="4.98" height="5.60" fill="#cc5a2a"/>
<rect x="158.82" y="724.30" width="4.98" height="5.60" fill="#fffbe4"/>
<rect x="164.40" y="724.30" width="4.98" height="5.60" fill="#cc5a2a"/>
<rect x="169.98" y="724.30" width="4.98" height="5.60" fill="#fffbe4"/>
<rect x="175.56" y="724.30" width="4.98" height="5.60" fill="#b8b8b0"/>
<rect x="181.14" y="724.30" width="4.98" height="5.60" fill="#fffbe4"/>
<rect x="186.72" y="724.30" width="4.98" height="5.60" fill="#fffbe4"/>
<rect x="192.30" y="724.30" width="4.98" height="5.60" fill="#fffbe4"/>
<rect x="197.88" y="724.30" width="4.98" height="5.60" fill="#fffbe4"/>
<rect x="203.46" y="724.30" width="4.98" height="5.60" fill="#fffbe4"/>
<rect x="209.04" y="724.30" width="4.98" height="5.60" fill="#fffbe4"/>
<rect x="214.62" y="724.30" width="4.98" height="5.60" fill="#fffbe4"/>
<rect x="220.20" y="724.30" width="4.98" height="5.60" fill="#fffbe4"/>
<text x="227.20" y="711.20" font-size="7.2" font-weight="normal" font-style="normal" text-anchor="start" fill="#2a2a3a" textLength="12.5" lengthAdjust="spacingAndGlyphs">WBC</text>
<text x="227.20" y="717.00" font-size="7.2" font-weight="normal" font-style="normal" text-anchor="start" fill="#2a2a3a" textLength="10.5" lengthAdjust="spacingAndGlyphs">PLT</text>
<text x="227.20" y="722.60" font-size="7.2" font-weight="normal" font-style="normal" text-anchor="start" fill="#2a2a3a" textLength="12.5" lengthAdjust="spacingAndGlyphs">HGB</text>
<text x="227.20" y="729.00" font-size="7.2" font-weight="normal" font-style="normal" text-anchor="start" fill="#2a2a3a" textLength="32.4" lengthAdjust="spacingAndGlyphs">Spleen size</text>
<rect x="332.60" y="583.60" width="9.10" height="10.40" fill="#fdf5d2"/>
<rect x="342.35" y="583.60" width="9.10" height="10.40" fill="#fbe7a2"/>
<rect x="352.10" y="583.60" width="9.10" height="10.40" fill="#f9c350"/>
<rect x="361.85" y="583.60" width="9.10" height="10.40" fill="#f5a13f"/>
<rect x="371.60" y="583.60" width="9.10" height="10.40" fill="#d5562b"/>
<rect x="381.35" y="583.60" width="9.10" height="10.40" fill="#b2412b"/>
<rect x="391.10" y="583.60" width="9.10" height="10.40" fill="#923426"/>
<text x="333.30" y="602.60" font-size="8.6" font-weight="bold" font-style="normal" text-anchor="start" fill="#555">Low</text>
<text x="386.30" y="602.60" font-size="8.6" font-weight="bold" font-style="normal" text-anchor="start" fill="#555">High</text>
<rect x="282.90" y="611.40" width="3.90" height="3.90" fill="#37a348"/>
<text x="293.80" y="617.30" font-size="10.5" font-weight="normal" font-style="normal" text-anchor="start" fill="#111" textLength="83.3" lengthAdjust="spacingAndGlyphs" stroke="#111" stroke-width="0.2">Missense_Mutation</text>
<rect x="282.90" y="623.40" width="3.90" height="3.90" fill="#e3262b"/>
<text x="293.80" y="629.30" font-size="10.5" font-weight="normal" font-style="normal" text-anchor="start" fill="#111" textLength="87.0" lengthAdjust="spacingAndGlyphs" stroke="#111" stroke-width="0.2">Nonsense_Mutation</text>
<rect x="282.90" y="635.30" width="3.90" height="3.90" fill="#6b3f9c"/>
<text x="293.80" y="641.20" font-size="10.5" font-weight="normal" font-style="normal" text-anchor="start" fill="#111" textLength="71.6" lengthAdjust="spacingAndGlyphs" stroke="#111" stroke-width="0.2">Frame_Shift_Ins</text>
<rect x="282.90" y="647.00" width="3.90" height="3.90" fill="#f58a2c"/>
<text x="293.80" y="652.90" font-size="10.5" font-weight="normal" font-style="normal" text-anchor="start" fill="#111" textLength="47.7" lengthAdjust="spacingAndGlyphs" stroke="#111" stroke-width="0.2">Splice_Site</text>
<rect x="386.70" y="611.20" width="3.90" height="3.90" fill="#2f7fc0"/>
<text x="397.30" y="617.10" font-size="10.5" font-weight="normal" font-style="normal" text-anchor="start" fill="#111" textLength="72.7" lengthAdjust="spacingAndGlyphs" stroke="#111" stroke-width="0.2">Frame_Shift_Del</text>
<rect x="386.70" y="623.10" width="3.90" height="3.90" fill="#b15928"/>
<text x="397.30" y="629.00" font-size="10.5" font-weight="normal" font-style="normal" text-anchor="start" fill="#111" textLength="61.2" lengthAdjust="spacingAndGlyphs" stroke="#111" stroke-width="0.2">In_Frame_Del</text>
<rect x="386.70" y="635.00" width="3.90" height="3.90" fill="#1c1c1c"/>
<text x="397.30" y="640.90" font-size="10.5" font-weight="normal" font-style="normal" text-anchor="start" fill="#111" textLength="37.5" lengthAdjust="spacingAndGlyphs" stroke="#111" stroke-width="0.2">Multi_Hit</text>
<text x="1.60" y="12.80" font-size="16" font-weight="bold" font-style="normal" text-anchor="start" fill="#000">A</text>
<text x="1.80" y="480.50" font-size="13.8" font-weight="bold" font-style="normal" text-anchor="start" fill="#000">B</text>
</svg></div>
</body></html>
